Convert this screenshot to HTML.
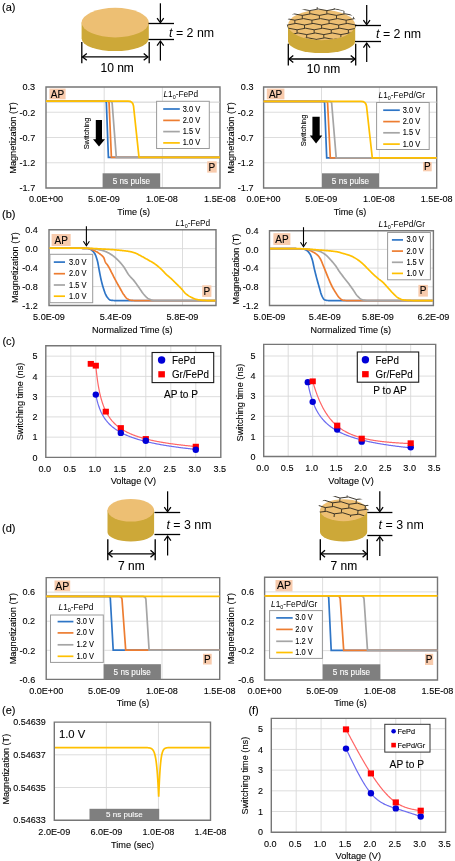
<!DOCTYPE html>
<html><head><meta charset="utf-8"><style>html,body{margin:0;padding:0;background:#fff;width:455px;height:861px;overflow:hidden}svg{display:block;will-change:transform}text{font-family:"Liberation Sans", sans-serif}</style></head>
<body><svg width="455" height="861" viewBox="0 0 455 861" font-family='"Liberation Sans", sans-serif'><rect width="455" height="861" fill="#fff"/>
<text x="8.80" y="10.74" font-size="11" text-anchor="middle" fill="#000" stroke="#000" stroke-width="0.1" >(a)</text>
<path d="M81.6,22.6 L81.6,38.6 A33.6,12.5 0 0 0 148.8,38.6 L148.8,22.6 Z" stroke="none" stroke-width="0" fill="#CDA838" />
<ellipse cx="115.2" cy="22.6" rx="33.6" ry="14.8" fill="#EDBF73"/>
<line x1="148.50" y1="23.50" x2="174.00" y2="23.50" stroke="#000" stroke-width="1.3" />
<line x1="148.50" y1="39.50" x2="174.00" y2="39.50" stroke="#000" stroke-width="1.3" />
<line x1="160.40" y1="3.30" x2="160.40" y2="21.80" stroke="#000" stroke-width="1.25" />
<path d="M157.1,18.200000000000003 L160.4,22.8 L163.70000000000002,18.200000000000003" stroke="#000" stroke-width="1.25" fill="none" />
<line x1="160.40" y1="41.50" x2="160.40" y2="60.60" stroke="#000" stroke-width="1.25" />
<path d="M157.1,45.6 L160.4,41 L163.7,45.6" stroke="#000" stroke-width="1.25" fill="none" />
<text x="169" y="36.6" font-size="12.4" text-anchor="start"><tspan font-style="italic">t</tspan> = 2 nm</text>
<line x1="81.80" y1="42.00" x2="81.80" y2="63.30" stroke="#000" stroke-width="1.3" />
<line x1="149.20" y1="42.00" x2="149.20" y2="63.30" stroke="#000" stroke-width="1.3" />
<line x1="82.50" y1="56.90" x2="148.00" y2="56.90" stroke="#000" stroke-width="1.4" />
<path d="M86.8,53.5 L82.5,56.9 L86.8,60.3" stroke="#000" stroke-width="1.3" fill="none" />
<path d="M143.7,53.5 L148,56.9 L143.7,60.3" stroke="#000" stroke-width="1.3" fill="none" />
<text x="117.20" y="71.60" font-size="12" text-anchor="middle" fill="#000" stroke="#000" stroke-width="0.1" >10 nm</text>
<path d="M288.0,25.0 L288.0,41.3 A33.6,11.8 0 0 0 355.20000000000005,41.3 L355.20000000000005,25.0 Z" stroke="none" stroke-width="0" fill="#CDA838" />
<ellipse cx="321.6" cy="25.0" rx="33.6" ry="15.2" fill="#EDBF73"/>
<clipPath id="clipA"><ellipse cx="321.6" cy="23.44" rx="34.9" ry="16.5"/></clipPath>
<g clip-path="url(#clipA)"><path d="M219.85,-8.60 L219.85,-5.40 M219.85,-8.60 L228.40,-10.20 M228.40,-10.20 L236.95,-8.60 M236.95,-8.60 L236.95,-5.40 M236.95,-8.60 L245.50,-10.20 M245.50,-10.20 L254.05,-8.60 M254.05,-8.60 L254.05,-5.40 M254.05,-8.60 L262.60,-10.20 M262.60,-10.20 L271.15,-8.60 M271.15,-8.60 L271.15,-5.40 M271.15,-8.60 L279.70,-10.20 M279.70,-10.20 L288.25,-8.60 M288.25,-8.60 L288.25,-5.40 M288.25,-8.60 L296.80,-10.20 M296.80,-10.20 L305.35,-8.60 M305.35,-8.60 L305.35,-5.40 M305.35,-8.60 L313.90,-10.20 M313.90,-10.20 L322.45,-8.60 M322.45,-8.60 L322.45,-5.40 M322.45,-8.60 L331.00,-10.20 M331.00,-10.20 L339.55,-8.60 M339.55,-8.60 L339.55,-5.40 M339.55,-8.60 L348.10,-10.20 M348.10,-10.20 L356.65,-8.60 M356.65,-8.60 L356.65,-5.40 M356.65,-8.60 L365.20,-10.20 M365.20,-10.20 L373.75,-8.60 M373.75,-8.60 L373.75,-5.40 M373.75,-8.60 L382.30,-10.20 M382.30,-10.20 L390.85,-8.60 M390.85,-8.60 L390.85,-5.40 M390.85,-8.60 L399.40,-10.20 M399.40,-10.20 L407.95,-8.60 M407.95,-8.60 L407.95,-5.40 M407.95,-8.60 L416.50,-10.20 M416.50,-10.20 L425.05,-8.60 M425.05,-8.60 L425.05,-5.40 M425.05,-8.60 L433.60,-10.20 M433.60,-10.20 L442.15,-8.60 M212.40,-3.80 L212.40,-0.60 M212.40,-3.80 L220.95,-5.40 M220.95,-5.40 L229.50,-3.80 M229.50,-3.80 L229.50,-0.60 M229.50,-3.80 L238.05,-5.40 M238.05,-5.40 L246.60,-3.80 M246.60,-3.80 L246.60,-0.60 M246.60,-3.80 L255.15,-5.40 M255.15,-5.40 L263.70,-3.80 M263.70,-3.80 L263.70,-0.60 M263.70,-3.80 L272.25,-5.40 M272.25,-5.40 L280.80,-3.80 M280.80,-3.80 L280.80,-0.60 M280.80,-3.80 L289.35,-5.40 M289.35,-5.40 L297.90,-3.80 M297.90,-3.80 L297.90,-0.60 M297.90,-3.80 L306.45,-5.40 M306.45,-5.40 L315.00,-3.80 M315.00,-3.80 L315.00,-0.60 M315.00,-3.80 L323.55,-5.40 M323.55,-5.40 L332.10,-3.80 M332.10,-3.80 L332.10,-0.60 M332.10,-3.80 L340.65,-5.40 M340.65,-5.40 L349.20,-3.80 M349.20,-3.80 L349.20,-0.60 M349.20,-3.80 L357.75,-5.40 M357.75,-5.40 L366.30,-3.80 M366.30,-3.80 L366.30,-0.60 M366.30,-3.80 L374.85,-5.40 M374.85,-5.40 L383.40,-3.80 M383.40,-3.80 L383.40,-0.60 M383.40,-3.80 L391.95,-5.40 M391.95,-5.40 L400.50,-3.80 M400.50,-3.80 L400.50,-0.60 M400.50,-3.80 L409.05,-5.40 M409.05,-5.40 L417.60,-3.80 M417.60,-3.80 L417.60,-0.60 M417.60,-3.80 L426.15,-5.40 M426.15,-5.40 L434.70,-3.80 M222.05,1.00 L222.05,4.20 M222.05,1.00 L230.60,-0.60 M230.60,-0.60 L239.15,1.00 M239.15,1.00 L239.15,4.20 M239.15,1.00 L247.70,-0.60 M247.70,-0.60 L256.25,1.00 M256.25,1.00 L256.25,4.20 M256.25,1.00 L264.80,-0.60 M264.80,-0.60 L273.35,1.00 M273.35,1.00 L273.35,4.20 M273.35,1.00 L281.90,-0.60 M281.90,-0.60 L290.45,1.00 M290.45,1.00 L290.45,4.20 M290.45,1.00 L299.00,-0.60 M299.00,-0.60 L307.55,1.00 M307.55,1.00 L307.55,4.20 M307.55,1.00 L316.10,-0.60 M316.10,-0.60 L324.65,1.00 M324.65,1.00 L324.65,4.20 M324.65,1.00 L333.20,-0.60 M333.20,-0.60 L341.75,1.00 M341.75,1.00 L341.75,4.20 M341.75,1.00 L350.30,-0.60 M350.30,-0.60 L358.85,1.00 M358.85,1.00 L358.85,4.20 M358.85,1.00 L367.40,-0.60 M367.40,-0.60 L375.95,1.00 M375.95,1.00 L375.95,4.20 M375.95,1.00 L384.50,-0.60 M384.50,-0.60 L393.05,1.00 M393.05,1.00 L393.05,4.20 M393.05,1.00 L401.60,-0.60 M401.60,-0.60 L410.15,1.00 M410.15,1.00 L410.15,4.20 M410.15,1.00 L418.70,-0.60 M418.70,-0.60 L427.25,1.00 M427.25,1.00 L427.25,4.20 M427.25,1.00 L435.80,-0.60 M435.80,-0.60 L444.35,1.00 M214.60,5.80 L214.60,9.00 M214.60,5.80 L223.15,4.20 M223.15,4.20 L231.70,5.80 M231.70,5.80 L231.70,9.00 M231.70,5.80 L240.25,4.20 M240.25,4.20 L248.80,5.80 M248.80,5.80 L248.80,9.00 M248.80,5.80 L257.35,4.20 M257.35,4.20 L265.90,5.80 M265.90,5.80 L265.90,9.00 M265.90,5.80 L274.45,4.20 M274.45,4.20 L283.00,5.80 M283.00,5.80 L283.00,9.00 M283.00,5.80 L291.55,4.20 M291.55,4.20 L300.10,5.80 M300.10,5.80 L300.10,9.00 M300.10,5.80 L308.65,4.20 M308.65,4.20 L317.20,5.80 M317.20,5.80 L317.20,9.00 M317.20,5.80 L325.75,4.20 M325.75,4.20 L334.30,5.80 M334.30,5.80 L334.30,9.00 M334.30,5.80 L342.85,4.20 M342.85,4.20 L351.40,5.80 M351.40,5.80 L351.40,9.00 M351.40,5.80 L359.95,4.20 M359.95,4.20 L368.50,5.80 M368.50,5.80 L368.50,9.00 M368.50,5.80 L377.05,4.20 M377.05,4.20 L385.60,5.80 M385.60,5.80 L385.60,9.00 M385.60,5.80 L394.15,4.20 M394.15,4.20 L402.70,5.80 M402.70,5.80 L402.70,9.00 M402.70,5.80 L411.25,4.20 M411.25,4.20 L419.80,5.80 M419.80,5.80 L419.80,9.00 M419.80,5.80 L428.35,4.20 M428.35,4.20 L436.90,5.80 M224.25,10.60 L224.25,13.80 M224.25,10.60 L232.80,9.00 M232.80,9.00 L241.35,10.60 M241.35,10.60 L241.35,13.80 M241.35,10.60 L249.90,9.00 M249.90,9.00 L258.45,10.60 M258.45,10.60 L258.45,13.80 M258.45,10.60 L267.00,9.00 M267.00,9.00 L275.55,10.60 M275.55,10.60 L275.55,13.80 M275.55,10.60 L284.10,9.00 M284.10,9.00 L292.65,10.60 M292.65,10.60 L292.65,13.80 M292.65,10.60 L301.20,9.00 M301.20,9.00 L309.75,10.60 M309.75,10.60 L309.75,13.80 M309.75,10.60 L318.30,9.00 M318.30,9.00 L326.85,10.60 M326.85,10.60 L326.85,13.80 M326.85,10.60 L335.40,9.00 M335.40,9.00 L343.95,10.60 M343.95,10.60 L343.95,13.80 M343.95,10.60 L352.50,9.00 M352.50,9.00 L361.05,10.60 M361.05,10.60 L361.05,13.80 M361.05,10.60 L369.60,9.00 M369.60,9.00 L378.15,10.60 M378.15,10.60 L378.15,13.80 M378.15,10.60 L386.70,9.00 M386.70,9.00 L395.25,10.60 M395.25,10.60 L395.25,13.80 M395.25,10.60 L403.80,9.00 M403.80,9.00 L412.35,10.60 M412.35,10.60 L412.35,13.80 M412.35,10.60 L420.90,9.00 M420.90,9.00 L429.45,10.60 M429.45,10.60 L429.45,13.80 M429.45,10.60 L438.00,9.00 M438.00,9.00 L446.55,10.60 M216.80,15.40 L216.80,18.60 M216.80,15.40 L225.35,13.80 M225.35,13.80 L233.90,15.40 M233.90,15.40 L233.90,18.60 M233.90,15.40 L242.45,13.80 M242.45,13.80 L251.00,15.40 M251.00,15.40 L251.00,18.60 M251.00,15.40 L259.55,13.80 M259.55,13.80 L268.10,15.40 M268.10,15.40 L268.10,18.60 M268.10,15.40 L276.65,13.80 M276.65,13.80 L285.20,15.40 M285.20,15.40 L285.20,18.60 M285.20,15.40 L293.75,13.80 M293.75,13.80 L302.30,15.40 M302.30,15.40 L302.30,18.60 M302.30,15.40 L310.85,13.80 M310.85,13.80 L319.40,15.40 M319.40,15.40 L319.40,18.60 M319.40,15.40 L327.95,13.80 M327.95,13.80 L336.50,15.40 M336.50,15.40 L336.50,18.60 M336.50,15.40 L345.05,13.80 M345.05,13.80 L353.60,15.40 M353.60,15.40 L353.60,18.60 M353.60,15.40 L362.15,13.80 M362.15,13.80 L370.70,15.40 M370.70,15.40 L370.70,18.60 M370.70,15.40 L379.25,13.80 M379.25,13.80 L387.80,15.40 M387.80,15.40 L387.80,18.60 M387.80,15.40 L396.35,13.80 M396.35,13.80 L404.90,15.40 M404.90,15.40 L404.90,18.60 M404.90,15.40 L413.45,13.80 M413.45,13.80 L422.00,15.40 M422.00,15.40 L422.00,18.60 M422.00,15.40 L430.55,13.80 M430.55,13.80 L439.10,15.40 M226.45,20.20 L226.45,23.40 M226.45,20.20 L235.00,18.60 M235.00,18.60 L243.55,20.20 M243.55,20.20 L243.55,23.40 M243.55,20.20 L252.10,18.60 M252.10,18.60 L260.65,20.20 M260.65,20.20 L260.65,23.40 M260.65,20.20 L269.20,18.60 M269.20,18.60 L277.75,20.20 M277.75,20.20 L277.75,23.40 M277.75,20.20 L286.30,18.60 M286.30,18.60 L294.85,20.20 M294.85,20.20 L294.85,23.40 M294.85,20.20 L303.40,18.60 M303.40,18.60 L311.95,20.20 M311.95,20.20 L311.95,23.40 M311.95,20.20 L320.50,18.60 M320.50,18.60 L329.05,20.20 M329.05,20.20 L329.05,23.40 M329.05,20.20 L337.60,18.60 M337.60,18.60 L346.15,20.20 M346.15,20.20 L346.15,23.40 M346.15,20.20 L354.70,18.60 M354.70,18.60 L363.25,20.20 M363.25,20.20 L363.25,23.40 M363.25,20.20 L371.80,18.60 M371.80,18.60 L380.35,20.20 M380.35,20.20 L380.35,23.40 M380.35,20.20 L388.90,18.60 M388.90,18.60 L397.45,20.20 M397.45,20.20 L397.45,23.40 M397.45,20.20 L406.00,18.60 M406.00,18.60 L414.55,20.20 M414.55,20.20 L414.55,23.40 M414.55,20.20 L423.10,18.60 M423.10,18.60 L431.65,20.20 M431.65,20.20 L431.65,23.40 M431.65,20.20 L440.20,18.60 M440.20,18.60 L448.75,20.20 M219.00,25.00 L219.00,28.20 M219.00,25.00 L227.55,23.40 M227.55,23.40 L236.10,25.00 M236.10,25.00 L236.10,28.20 M236.10,25.00 L244.65,23.40 M244.65,23.40 L253.20,25.00 M253.20,25.00 L253.20,28.20 M253.20,25.00 L261.75,23.40 M261.75,23.40 L270.30,25.00 M270.30,25.00 L270.30,28.20 M270.30,25.00 L278.85,23.40 M278.85,23.40 L287.40,25.00 M287.40,25.00 L287.40,28.20 M287.40,25.00 L295.95,23.40 M295.95,23.40 L304.50,25.00 M304.50,25.00 L304.50,28.20 M304.50,25.00 L313.05,23.40 M313.05,23.40 L321.60,25.00 M321.60,25.00 L321.60,28.20 M321.60,25.00 L330.15,23.40 M330.15,23.40 L338.70,25.00 M338.70,25.00 L338.70,28.20 M338.70,25.00 L347.25,23.40 M347.25,23.40 L355.80,25.00 M355.80,25.00 L355.80,28.20 M355.80,25.00 L364.35,23.40 M364.35,23.40 L372.90,25.00 M372.90,25.00 L372.90,28.20 M372.90,25.00 L381.45,23.40 M381.45,23.40 L390.00,25.00 M390.00,25.00 L390.00,28.20 M390.00,25.00 L398.55,23.40 M398.55,23.40 L407.10,25.00 M407.10,25.00 L407.10,28.20 M407.10,25.00 L415.65,23.40 M415.65,23.40 L424.20,25.00 M424.20,25.00 L424.20,28.20 M424.20,25.00 L432.75,23.40 M432.75,23.40 L441.30,25.00 M228.65,29.80 L228.65,33.00 M228.65,29.80 L237.20,28.20 M237.20,28.20 L245.75,29.80 M245.75,29.80 L245.75,33.00 M245.75,29.80 L254.30,28.20 M254.30,28.20 L262.85,29.80 M262.85,29.80 L262.85,33.00 M262.85,29.80 L271.40,28.20 M271.40,28.20 L279.95,29.80 M279.95,29.80 L279.95,33.00 M279.95,29.80 L288.50,28.20 M288.50,28.20 L297.05,29.80 M297.05,29.80 L297.05,33.00 M297.05,29.80 L305.60,28.20 M305.60,28.20 L314.15,29.80 M314.15,29.80 L314.15,33.00 M314.15,29.80 L322.70,28.20 M322.70,28.20 L331.25,29.80 M331.25,29.80 L331.25,33.00 M331.25,29.80 L339.80,28.20 M339.80,28.20 L348.35,29.80 M348.35,29.80 L348.35,33.00 M348.35,29.80 L356.90,28.20 M356.90,28.20 L365.45,29.80 M365.45,29.80 L365.45,33.00 M365.45,29.80 L374.00,28.20 M374.00,28.20 L382.55,29.80 M382.55,29.80 L382.55,33.00 M382.55,29.80 L391.10,28.20 M391.10,28.20 L399.65,29.80 M399.65,29.80 L399.65,33.00 M399.65,29.80 L408.20,28.20 M408.20,28.20 L416.75,29.80 M416.75,29.80 L416.75,33.00 M416.75,29.80 L425.30,28.20 M425.30,28.20 L433.85,29.80 M433.85,29.80 L433.85,33.00 M433.85,29.80 L442.40,28.20 M442.40,28.20 L450.95,29.80 M221.20,34.60 L221.20,37.80 M221.20,34.60 L229.75,33.00 M229.75,33.00 L238.30,34.60 M238.30,34.60 L238.30,37.80 M238.30,34.60 L246.85,33.00 M246.85,33.00 L255.40,34.60 M255.40,34.60 L255.40,37.80 M255.40,34.60 L263.95,33.00 M263.95,33.00 L272.50,34.60 M272.50,34.60 L272.50,37.80 M272.50,34.60 L281.05,33.00 M281.05,33.00 L289.60,34.60 M289.60,34.60 L289.60,37.80 M289.60,34.60 L298.15,33.00 M298.15,33.00 L306.70,34.60 M306.70,34.60 L306.70,37.80 M306.70,34.60 L315.25,33.00 M315.25,33.00 L323.80,34.60 M323.80,34.60 L323.80,37.80 M323.80,34.60 L332.35,33.00 M332.35,33.00 L340.90,34.60 M340.90,34.60 L340.90,37.80 M340.90,34.60 L349.45,33.00 M349.45,33.00 L358.00,34.60 M358.00,34.60 L358.00,37.80 M358.00,34.60 L366.55,33.00 M366.55,33.00 L375.10,34.60 M375.10,34.60 L375.10,37.80 M375.10,34.60 L383.65,33.00 M383.65,33.00 L392.20,34.60 M392.20,34.60 L392.20,37.80 M392.20,34.60 L400.75,33.00 M400.75,33.00 L409.30,34.60 M409.30,34.60 L409.30,37.80 M409.30,34.60 L417.85,33.00 M417.85,33.00 L426.40,34.60 M426.40,34.60 L426.40,37.80 M426.40,34.60 L434.95,33.00 M434.95,33.00 L443.50,34.60 M230.85,39.40 L230.85,42.60 M230.85,39.40 L239.40,37.80 M239.40,37.80 L247.95,39.40 M247.95,39.40 L247.95,42.60 M247.95,39.40 L256.50,37.80 M256.50,37.80 L265.05,39.40 M265.05,39.40 L265.05,42.60 M265.05,39.40 L273.60,37.80 M273.60,37.80 L282.15,39.40 M282.15,39.40 L282.15,42.60 M282.15,39.40 L290.70,37.80 M290.70,37.80 L299.25,39.40 M299.25,39.40 L299.25,42.60 M299.25,39.40 L307.80,37.80 M307.80,37.80 L316.35,39.40 M316.35,39.40 L316.35,42.60 M316.35,39.40 L324.90,37.80 M324.90,37.80 L333.45,39.40 M333.45,39.40 L333.45,42.60 M333.45,39.40 L342.00,37.80 M342.00,37.80 L350.55,39.40 M350.55,39.40 L350.55,42.60 M350.55,39.40 L359.10,37.80 M359.10,37.80 L367.65,39.40 M367.65,39.40 L367.65,42.60 M367.65,39.40 L376.20,37.80 M376.20,37.80 L384.75,39.40 M384.75,39.40 L384.75,42.60 M384.75,39.40 L393.30,37.80 M393.30,37.80 L401.85,39.40 M401.85,39.40 L401.85,42.60 M401.85,39.40 L410.40,37.80 M410.40,37.80 L418.95,39.40 M418.95,39.40 L418.95,42.60 M418.95,39.40 L427.50,37.80 M427.50,37.80 L436.05,39.40 M436.05,39.40 L436.05,42.60 M436.05,39.40 L444.60,37.80 M444.60,37.80 L453.15,39.40 M223.40,44.20 L223.40,47.40 M223.40,44.20 L231.95,42.60 M231.95,42.60 L240.50,44.20 M240.50,44.20 L240.50,47.40 M240.50,44.20 L249.05,42.60 M249.05,42.60 L257.60,44.20 M257.60,44.20 L257.60,47.40 M257.60,44.20 L266.15,42.60 M266.15,42.60 L274.70,44.20 M274.70,44.20 L274.70,47.40 M274.70,44.20 L283.25,42.60 M283.25,42.60 L291.80,44.20 M291.80,44.20 L291.80,47.40 M291.80,44.20 L300.35,42.60 M300.35,42.60 L308.90,44.20 M308.90,44.20 L308.90,47.40 M308.90,44.20 L317.45,42.60 M317.45,42.60 L326.00,44.20 M326.00,44.20 L326.00,47.40 M326.00,44.20 L334.55,42.60 M334.55,42.60 L343.10,44.20 M343.10,44.20 L343.10,47.40 M343.10,44.20 L351.65,42.60 M351.65,42.60 L360.20,44.20 M360.20,44.20 L360.20,47.40 M360.20,44.20 L368.75,42.60 M368.75,42.60 L377.30,44.20 M377.30,44.20 L377.30,47.40 M377.30,44.20 L385.85,42.60 M385.85,42.60 L394.40,44.20 M394.40,44.20 L394.40,47.40 M394.40,44.20 L402.95,42.60 M402.95,42.60 L411.50,44.20 M411.50,44.20 L411.50,47.40 M411.50,44.20 L420.05,42.60 M420.05,42.60 L428.60,44.20 M428.60,44.20 L428.60,47.40 M428.60,44.20 L437.15,42.60 M437.15,42.60 L445.70,44.20 M233.05,49.00 L233.05,52.20 M233.05,49.00 L241.60,47.40 M241.60,47.40 L250.15,49.00 M250.15,49.00 L250.15,52.20 M250.15,49.00 L258.70,47.40 M258.70,47.40 L267.25,49.00 M267.25,49.00 L267.25,52.20 M267.25,49.00 L275.80,47.40 M275.80,47.40 L284.35,49.00 M284.35,49.00 L284.35,52.20 M284.35,49.00 L292.90,47.40 M292.90,47.40 L301.45,49.00 M301.45,49.00 L301.45,52.20 M301.45,49.00 L310.00,47.40 M310.00,47.40 L318.55,49.00 M318.55,49.00 L318.55,52.20 M318.55,49.00 L327.10,47.40 M327.10,47.40 L335.65,49.00 M335.65,49.00 L335.65,52.20 M335.65,49.00 L344.20,47.40 M344.20,47.40 L352.75,49.00 M352.75,49.00 L352.75,52.20 M352.75,49.00 L361.30,47.40 M361.30,47.40 L369.85,49.00 M369.85,49.00 L369.85,52.20 M369.85,49.00 L378.40,47.40 M378.40,47.40 L386.95,49.00 M386.95,49.00 L386.95,52.20 M386.95,49.00 L395.50,47.40 M395.50,47.40 L404.05,49.00 M404.05,49.00 L404.05,52.20 M404.05,49.00 L412.60,47.40 M412.60,47.40 L421.15,49.00 M421.15,49.00 L421.15,52.20 M421.15,49.00 L429.70,47.40 M429.70,47.40 L438.25,49.00 M438.25,49.00 L438.25,52.20 M438.25,49.00 L446.80,47.40 M446.80,47.40 L455.35,49.00 M225.60,53.80 L225.60,57.00 M225.60,53.80 L234.15,52.20 M234.15,52.20 L242.70,53.80 M242.70,53.80 L242.70,57.00 M242.70,53.80 L251.25,52.20 M251.25,52.20 L259.80,53.80 M259.80,53.80 L259.80,57.00 M259.80,53.80 L268.35,52.20 M268.35,52.20 L276.90,53.80 M276.90,53.80 L276.90,57.00 M276.90,53.80 L285.45,52.20 M285.45,52.20 L294.00,53.80 M294.00,53.80 L294.00,57.00 M294.00,53.80 L302.55,52.20 M302.55,52.20 L311.10,53.80 M311.10,53.80 L311.10,57.00 M311.10,53.80 L319.65,52.20 M319.65,52.20 L328.20,53.80 M328.20,53.80 L328.20,57.00 M328.20,53.80 L336.75,52.20 M336.75,52.20 L345.30,53.80 M345.30,53.80 L345.30,57.00 M345.30,53.80 L353.85,52.20 M353.85,52.20 L362.40,53.80 M362.40,53.80 L362.40,57.00 M362.40,53.80 L370.95,52.20 M370.95,52.20 L379.50,53.80 M379.50,53.80 L379.50,57.00 M379.50,53.80 L388.05,52.20 M388.05,52.20 L396.60,53.80 M396.60,53.80 L396.60,57.00 M396.60,53.80 L405.15,52.20 M405.15,52.20 L413.70,53.80 M413.70,53.80 L413.70,57.00 M413.70,53.80 L422.25,52.20 M422.25,52.20 L430.80,53.80 M430.80,53.80 L430.80,57.00 M430.80,53.80 L439.35,52.20 M439.35,52.20 L447.90,53.80 M235.25,58.60 L235.25,61.80 M235.25,58.60 L243.80,57.00 M243.80,57.00 L252.35,58.60 M252.35,58.60 L252.35,61.80 M252.35,58.60 L260.90,57.00 M260.90,57.00 L269.45,58.60 M269.45,58.60 L269.45,61.80 M269.45,58.60 L278.00,57.00 M278.00,57.00 L286.55,58.60 M286.55,58.60 L286.55,61.80 M286.55,58.60 L295.10,57.00 M295.10,57.00 L303.65,58.60 M303.65,58.60 L303.65,61.80 M303.65,58.60 L312.20,57.00 M312.20,57.00 L320.75,58.60 M320.75,58.60 L320.75,61.80 M320.75,58.60 L329.30,57.00 M329.30,57.00 L337.85,58.60 M337.85,58.60 L337.85,61.80 M337.85,58.60 L346.40,57.00 M346.40,57.00 L354.95,58.60 M354.95,58.60 L354.95,61.80 M354.95,58.60 L363.50,57.00 M363.50,57.00 L372.05,58.60 M372.05,58.60 L372.05,61.80 M372.05,58.60 L380.60,57.00 M380.60,57.00 L389.15,58.60 M389.15,58.60 L389.15,61.80 M389.15,58.60 L397.70,57.00 M397.70,57.00 L406.25,58.60 M406.25,58.60 L406.25,61.80 M406.25,58.60 L414.80,57.00 M414.80,57.00 L423.35,58.60 M423.35,58.60 L423.35,61.80 M423.35,58.60 L431.90,57.00 M431.90,57.00 L440.45,58.60 M440.45,58.60 L440.45,61.80 M440.45,58.60 L449.00,57.00 M449.00,57.00 L457.55,58.60" stroke="#2f2a20" stroke-width="0.9" fill="none" transform="rotate(0 321.6 25.0)"/></g>
<line x1="355.00" y1="25.50" x2="381.00" y2="25.50" stroke="#000" stroke-width="1.3" />
<line x1="355.00" y1="41.50" x2="381.00" y2="41.50" stroke="#000" stroke-width="1.3" />
<line x1="366.70" y1="5.00" x2="366.70" y2="23.80" stroke="#000" stroke-width="1.25" />
<path d="M363.4,20.200000000000003 L366.7,24.8 L370.0,20.200000000000003" stroke="#000" stroke-width="1.25" fill="none" />
<line x1="366.70" y1="43.50" x2="366.70" y2="62.00" stroke="#000" stroke-width="1.25" />
<path d="M363.4,47.6 L366.7,43 L370.0,47.6" stroke="#000" stroke-width="1.25" fill="none" />
<text x="376" y="38.1" font-size="12.4" text-anchor="start"><tspan font-style="italic">t</tspan> = 2 nm</text>
<line x1="288.30" y1="43.70" x2="288.30" y2="65.50" stroke="#000" stroke-width="1.3" />
<line x1="355.70" y1="43.70" x2="355.70" y2="65.50" stroke="#000" stroke-width="1.3" />
<line x1="289.00" y1="59.00" x2="355.00" y2="59.00" stroke="#000" stroke-width="1.4" />
<path d="M293.3,55.6 L289,59 L293.3,62.4" stroke="#000" stroke-width="1.3" fill="none" />
<path d="M350.7,55.6 L355,59 L350.7,62.4" stroke="#000" stroke-width="1.3" fill="none" />
<text x="323.50" y="72.80" font-size="12" text-anchor="middle" fill="#000" stroke="#000" stroke-width="0.1" >10 nm</text>
<line x1="104.20" y1="87.00" x2="104.20" y2="188.00" stroke="#D9D9D9" stroke-width="0.9" />
<line x1="162.40" y1="87.00" x2="162.40" y2="188.00" stroke="#D9D9D9" stroke-width="0.9" />
<line x1="46.00" y1="112.25" x2="220.00" y2="112.25" stroke="#D9D9D9" stroke-width="0.9" />
<line x1="46.00" y1="137.50" x2="220.00" y2="137.50" stroke="#D9D9D9" stroke-width="0.9" />
<line x1="46.00" y1="162.75" x2="220.00" y2="162.75" stroke="#D9D9D9" stroke-width="0.9" />
<path d="M46,87.0 L220,87.0 L220,188.0 L46,188.0 Z" fill="none" stroke="#767676" stroke-width="1.4"/>
<line x1="46.00" y1="102.15" x2="220.00" y2="102.15" stroke="#C8C8C8" stroke-width="0.9" />
<rect x="102.60" y="173.30" width="57.60" height="14.70" fill="#7F7F7F" stroke="none" stroke-width="1" />
<text x="131.40" y="183.59" font-size="8.2" text-anchor="middle" fill="#fff" stroke="#fff" stroke-width="0.1" >5 ns pulse</text>
<rect x="49.40" y="88.60" width="16.20" height="10.70" fill="#F8CBAD" stroke="none" stroke-width="1" />
<text x="57.50" y="97.53" font-size="10" text-anchor="middle" fill="#000" stroke="#000" stroke-width="0.1" >AP</text>
<rect x="207.20" y="161.30" width="9.50" height="11.30" fill="#F8CBAD" stroke="none" stroke-width="1" />
<text x="211.95" y="170.53" font-size="10" text-anchor="middle" fill="#000" stroke="#000" stroke-width="0.1" >P</text>
<path d="M46,101.1 L104.8,101.1 Q106.3,101.1 106.36,102.60 L108.4,157.4 L220,157.4" stroke="#2E75C6" stroke-width="1.7" fill="none" />
<path d="M46,101.1 L107.5,101.1 Q109.0,101.1 109.06,102.60 L111.4,157.4 L220,157.4" stroke="#ED7D31" stroke-width="1.7" fill="none" />
<path d="M46,101.1 L110.0,101.1 Q112.0,101.1 112.15,103.10 L116.3,157.4 L220,157.4" stroke="#A5A5A5" stroke-width="1.7" fill="none" />
<path d="M46,101.1 L128.0,101.1 Q133.0,101.1 133.53,106.10 L139.0,157.4 L220,157.4" stroke="#FFC000" stroke-width="1.7" fill="none" />
<rect x="156.60" y="101.30" width="52.70" height="47.20" fill="#fff" stroke="#9A9A9A" stroke-width="1" />
<line x1="163.20" y1="109.00" x2="179.80" y2="109.00" stroke="#2E75C6" stroke-width="1.7" />
<text transform="translate(182.70 111.57) scale(0.9 1)" x="0" y="0" font-size="8.3" text-anchor="start" fill="#000" stroke="#000" stroke-width="0.1">3.0 V</text>
<line x1="163.20" y1="120.40" x2="179.80" y2="120.40" stroke="#ED7D31" stroke-width="1.7" />
<text transform="translate(182.70 122.97) scale(0.9 1)" x="0" y="0" font-size="8.3" text-anchor="start" fill="#000" stroke="#000" stroke-width="0.1">2.0 V</text>
<line x1="163.20" y1="131.60" x2="179.80" y2="131.60" stroke="#A5A5A5" stroke-width="1.7" />
<text transform="translate(182.70 134.17) scale(0.9 1)" x="0" y="0" font-size="8.3" text-anchor="start" fill="#000" stroke="#000" stroke-width="0.1">1.5 V</text>
<line x1="163.20" y1="142.90" x2="179.80" y2="142.90" stroke="#FFC000" stroke-width="1.7" />
<text transform="translate(182.70 145.47) scale(0.9 1)" x="0" y="0" font-size="8.3" text-anchor="start" fill="#000" stroke="#000" stroke-width="0.1">1.0 V</text>
<text x="163.40" y="97.47" font-size="8.3" text-anchor="start"><tspan font-style="italic">L</tspan>1<tspan font-size="5.40" dy="1.83">0</tspan><tspan dy="-1.83">-FePd</tspan></text>
<path d="M95.8,120 L102,120 L102,139.2 L105,139.2 L99.0,146.6 L93,139.2 L95.8,139.2 Z" fill="#000"/>
<text x="88.60" y="133.50" font-size="7.4" text-anchor="middle" fill="#000" stroke="#000" stroke-width="0.1" transform="rotate(-90 88.60 133.50)">Switching</text>
<text x="35.20" y="90.26" font-size="9.1" text-anchor="end" fill="#000" stroke="#000" stroke-width="0.1" >0.3</text>
<text x="35.20" y="115.51" font-size="9.1" text-anchor="end" fill="#000" stroke="#000" stroke-width="0.1" >-0.2</text>
<text x="35.20" y="140.76" font-size="9.1" text-anchor="end" fill="#000" stroke="#000" stroke-width="0.1" >-0.7</text>
<text x="35.20" y="166.01" font-size="9.1" text-anchor="end" fill="#000" stroke="#000" stroke-width="0.1" >-1.2</text>
<text x="35.20" y="191.26" font-size="9.1" text-anchor="end" fill="#000" stroke="#000" stroke-width="0.1" >-1.7</text>
<text x="46.00" y="202.06" font-size="9.1" text-anchor="middle" fill="#000" stroke="#000" stroke-width="0.1" >0.0E+00</text>
<text x="104.00" y="202.06" font-size="9.1" text-anchor="middle" fill="#000" stroke="#000" stroke-width="0.1" >5.0E-09</text>
<text x="162.00" y="202.06" font-size="9.1" text-anchor="middle" fill="#000" stroke="#000" stroke-width="0.1" >1.0E-08</text>
<text x="220.00" y="202.06" font-size="9.1" text-anchor="middle" fill="#000" stroke="#000" stroke-width="0.1" >1.5E-08</text>
<text x="133.60" y="214.72" font-size="9" text-anchor="middle" fill="#000" stroke="#000" stroke-width="0.1" >Time (s)</text>
<text x="16.00" y="138.00" font-size="9.2" text-anchor="middle" fill="#000" stroke="#000" stroke-width="0.1" transform="rotate(-90 16.00 138.00)">Magnetization (T)</text>
<line x1="321.50" y1="87.00" x2="321.50" y2="188.00" stroke="#D9D9D9" stroke-width="0.9" />
<line x1="379.40" y1="87.00" x2="379.40" y2="188.00" stroke="#D9D9D9" stroke-width="0.9" />
<line x1="263.60" y1="112.25" x2="436.70" y2="112.25" stroke="#D9D9D9" stroke-width="0.9" />
<line x1="263.60" y1="137.50" x2="436.70" y2="137.50" stroke="#D9D9D9" stroke-width="0.9" />
<line x1="263.60" y1="162.75" x2="436.70" y2="162.75" stroke="#D9D9D9" stroke-width="0.9" />
<path d="M263.6,87 L436.7,87 L436.7,188 L263.6,188 Z" fill="none" stroke="#767676" stroke-width="1.4"/>
<line x1="263.60" y1="102.15" x2="436.70" y2="102.15" stroke="#C8C8C8" stroke-width="0.9" />
<rect x="322.00" y="173.30" width="57.00" height="14.70" fill="#7F7F7F" stroke="none" stroke-width="1" />
<text x="350.50" y="183.59" font-size="8.2" text-anchor="middle" fill="#fff" stroke="#fff" stroke-width="0.1" >5 ns pulse</text>
<rect x="266.80" y="88.60" width="17.60" height="10.70" fill="#F8CBAD" stroke="none" stroke-width="1" />
<text x="275.60" y="97.53" font-size="10" text-anchor="middle" fill="#000" stroke="#000" stroke-width="0.1" >AP</text>
<rect x="423.00" y="162.00" width="8.70" height="9.30" fill="#F8CBAD" stroke="none" stroke-width="1" />
<text x="427.35" y="170.23" font-size="10" text-anchor="middle" fill="#000" stroke="#000" stroke-width="0.1" >P</text>
<path d="M263.6,101.3 L323.0,101.3 Q324.5,101.3 324.56,102.80 L326.7,157.8 L436.7,157.8" stroke="#2E75C6" stroke-width="1.7" fill="none" />
<path d="M263.6,101.3 L326.0,101.3 Q327.5,101.3 327.57,102.80 L330.3,157.8 L436.7,157.8" stroke="#ED7D31" stroke-width="1.7" fill="none" />
<path d="M263.6,101.3 L329.5,101.3 Q331.5,101.3 331.67,103.30 L336.2,157.8 L436.7,157.8" stroke="#A5A5A5" stroke-width="1.7" fill="none" />
<path d="M263.6,101.3 L361.0,101.3 Q366.0,101.3 366.56,106.30 L372.3,157.8 L436.7,157.8" stroke="#FFC000" stroke-width="1.7" fill="none" />
<rect x="376.60" y="102.50" width="52.60" height="47.00" fill="#fff" stroke="#9A9A9A" stroke-width="1" />
<line x1="383.20" y1="110.20" x2="399.80" y2="110.20" stroke="#2E75C6" stroke-width="1.7" />
<text transform="translate(402.70 112.77) scale(0.9 1)" x="0" y="0" font-size="8.3" text-anchor="start" fill="#000" stroke="#000" stroke-width="0.1">3.0 V</text>
<line x1="383.20" y1="121.60" x2="399.80" y2="121.60" stroke="#ED7D31" stroke-width="1.7" />
<text transform="translate(402.70 124.17) scale(0.9 1)" x="0" y="0" font-size="8.3" text-anchor="start" fill="#000" stroke="#000" stroke-width="0.1">2.0 V</text>
<line x1="383.20" y1="132.80" x2="399.80" y2="132.80" stroke="#A5A5A5" stroke-width="1.7" />
<text transform="translate(402.70 135.37) scale(0.9 1)" x="0" y="0" font-size="8.3" text-anchor="start" fill="#000" stroke="#000" stroke-width="0.1">1.5 V</text>
<line x1="383.20" y1="144.10" x2="399.80" y2="144.10" stroke="#FFC000" stroke-width="1.7" />
<text transform="translate(402.70 146.67) scale(0.9 1)" x="0" y="0" font-size="8.3" text-anchor="start" fill="#000" stroke="#000" stroke-width="0.1">1.0 V</text>
<text x="378.60" y="98.47" font-size="8.3" text-anchor="start"><tspan font-style="italic">L</tspan>1<tspan font-size="5.40" dy="1.83">0</tspan><tspan dy="-1.83">-FePd/Gr</tspan></text>
<path d="M312.4,116.7 L319.7,116.7 L319.7,135.5 L322.3,135.5 L316.05,143.4 L309.8,135.5 L312.4,135.5 Z" fill="#000"/>
<text x="305.60" y="130.50" font-size="7.4" text-anchor="middle" fill="#000" stroke="#000" stroke-width="0.1" transform="rotate(-90 305.60 130.50)">Switching</text>
<text x="253.50" y="90.26" font-size="9.1" text-anchor="end" fill="#000" stroke="#000" stroke-width="0.1" >0.3</text>
<text x="253.50" y="115.51" font-size="9.1" text-anchor="end" fill="#000" stroke="#000" stroke-width="0.1" >-0.2</text>
<text x="253.50" y="140.76" font-size="9.1" text-anchor="end" fill="#000" stroke="#000" stroke-width="0.1" >-0.7</text>
<text x="253.50" y="166.01" font-size="9.1" text-anchor="end" fill="#000" stroke="#000" stroke-width="0.1" >-1.2</text>
<text x="253.50" y="191.26" font-size="9.1" text-anchor="end" fill="#000" stroke="#000" stroke-width="0.1" >-1.7</text>
<text x="263.60" y="202.06" font-size="9.1" text-anchor="middle" fill="#000" stroke="#000" stroke-width="0.1" >0.0E+00</text>
<text x="321.30" y="202.06" font-size="9.1" text-anchor="middle" fill="#000" stroke="#000" stroke-width="0.1" >5.0E-09</text>
<text x="379.00" y="202.06" font-size="9.1" text-anchor="middle" fill="#000" stroke="#000" stroke-width="0.1" >1.0E-08</text>
<text x="436.70" y="202.06" font-size="9.1" text-anchor="middle" fill="#000" stroke="#000" stroke-width="0.1" >1.5E-08</text>
<text x="350.00" y="214.72" font-size="9" text-anchor="middle" fill="#000" stroke="#000" stroke-width="0.1" >Time (s)</text>
<text x="234.00" y="138.00" font-size="9.2" text-anchor="middle" fill="#000" stroke="#000" stroke-width="0.1" transform="rotate(-90 234.00 138.00)">Magnetization (T)</text>
<text x="8.80" y="217.74" font-size="11" text-anchor="middle" fill="#000" stroke="#000" stroke-width="0.1" >(b)</text>
<line x1="115.70" y1="229.70" x2="115.70" y2="305.50" stroke="#D9D9D9" stroke-width="0.9" />
<line x1="182.50" y1="229.70" x2="182.50" y2="305.50" stroke="#D9D9D9" stroke-width="0.9" />
<line x1="49.00" y1="248.65" x2="216.00" y2="248.65" stroke="#D9D9D9" stroke-width="0.9" />
<line x1="49.00" y1="267.60" x2="216.00" y2="267.60" stroke="#D9D9D9" stroke-width="0.9" />
<line x1="49.00" y1="286.55" x2="216.00" y2="286.55" stroke="#D9D9D9" stroke-width="0.9" />
<path d="M49,229.7 L216,229.7 L216,305.5 L49,305.5 Z" fill="none" stroke="#767676" stroke-width="1.4"/>
<rect x="51.60" y="234.00" width="19.10" height="12.00" fill="#F8CBAD" stroke="none" stroke-width="1" />
<text x="61.15" y="243.58" font-size="10" text-anchor="middle" fill="#000" stroke="#000" stroke-width="0.1" >AP</text>
<rect x="202.20" y="285.30" width="9.20" height="11.60" fill="#F8CBAD" stroke="none" stroke-width="1" />
<text x="206.80" y="294.68" font-size="10" text-anchor="middle" fill="#000" stroke="#000" stroke-width="0.1" >P</text>
<path d="M49.50,248.20 L49.90,248.20 L50.30,248.20 L50.70,248.20 L51.10,248.20 L51.50,248.20 L51.90,248.20 L52.30,248.20 L52.70,248.20 L53.10,248.20 L53.50,248.20 L53.90,248.20 L54.30,248.20 L54.70,248.20 L55.10,248.20 L55.50,248.20 L55.90,248.20 L56.30,248.20 L56.70,248.20 L57.10,248.20 L57.50,248.20 L57.90,248.20 L58.30,248.20 L58.70,248.20 L59.10,248.20 L59.50,248.20 L59.90,248.20 L60.30,248.20 L60.70,248.20 L61.10,248.21 L61.50,248.21 L61.90,248.21 L62.30,248.21 L62.70,248.21 L63.10,248.21 L63.50,248.21 L63.90,248.21 L64.30,248.21 L64.70,248.21 L65.10,248.21 L65.50,248.21 L65.90,248.21 L66.30,248.21 L66.70,248.21 L67.10,248.21 L67.50,248.22 L67.90,248.22 L68.30,248.22 L68.70,248.22 L69.10,248.22 L69.50,248.22 L69.90,248.22 L70.30,248.22 L70.70,248.22 L71.10,248.22 L71.50,248.23 L71.90,248.23 L72.30,248.23 L72.70,248.23 L73.10,248.23 L73.50,248.23 L73.90,248.23 L74.30,248.24 L74.70,248.24 L75.10,248.24 L75.50,248.24 L75.90,248.24 L76.30,248.24 L76.70,248.25 L77.10,248.25 L77.50,248.25 L77.90,248.25 L78.30,248.25 L78.70,248.25 L79.10,248.26 L79.50,248.26 L79.90,248.26 L80.30,248.26 L80.70,248.27 L81.10,248.27 L81.50,248.27 L81.90,248.27 L82.30,248.27 L82.70,248.28 L83.10,248.28 L83.50,248.28 L83.90,248.29 L84.30,248.29 L84.70,248.29 L85.10,248.29 L85.50,248.30 L85.90,248.30 L86.30,248.31 L86.70,248.33 L87.10,248.37 L87.50,248.43 L87.90,248.48 L88.30,248.56 L88.70,248.66 L89.10,248.80 L89.50,248.97 L89.90,249.16 L90.30,249.37 L90.70,249.61 L91.10,249.86 L91.50,250.12 L91.90,250.40 L92.30,250.70 L92.70,251.06 L93.10,251.46 L93.50,251.91 L93.90,252.41 L94.30,252.97 L94.70,253.57 L95.10,254.25 L95.50,255.08 L95.90,256.05 L96.30,257.16 L96.70,258.39 L97.10,259.73 L97.50,261.18 L97.90,263.00 L98.30,265.13 L98.70,267.41 L99.10,269.65 L99.50,271.72 L99.90,273.81 L100.30,275.88 L100.70,277.88 L101.10,279.74 L101.50,281.42 L101.90,283.02 L102.30,284.54 L102.70,285.99 L103.10,287.35 L103.50,288.61 L103.90,289.79 L104.30,290.93 L104.70,292.04 L105.10,293.10 L105.50,294.09 L105.90,294.99 L106.30,295.77 L106.70,296.40 L107.10,296.95 L107.50,297.49 L107.90,298.00 L108.30,298.49 L108.70,298.93 L109.10,299.32 L109.50,299.65 L109.90,299.91 L110.30,300.10 L110.70,300.20 L111.10,300.25 L111.50,300.30 L111.90,300.34 L112.30,300.39 L112.70,300.42 L113.10,300.46 L113.50,300.49 L113.90,300.52 L114.30,300.54 L114.70,300.56 L115.10,300.57 L115.50,300.59 L115.90,300.59 L116.30,300.60 L116.70,300.60 L117.10,300.60 L117.50,300.60 L117.90,300.60 L118.30,300.60 L118.70,300.60 L119.10,300.60 L119.50,300.60 L119.90,300.60 L120.30,300.60 L120.70,300.60 L121.10,300.60 L121.50,300.60 L121.90,300.60 L122.30,300.60 L122.70,300.60 L123.10,300.60 L123.50,300.60 L123.90,300.60 L124.30,300.60 L124.70,300.60 L125.10,300.60 L125.50,300.60 L125.90,300.60 L126.30,300.60 L126.70,300.60 L127.10,300.60 L127.50,300.60 L127.90,300.60 L128.30,300.60 L128.70,300.60 L129.10,300.60 L129.50,300.60 L129.90,300.60 L130.30,300.60 L130.70,300.60 L131.10,300.60 L131.50,300.60 L131.90,300.60 L132.30,300.60 L132.70,300.60 L133.10,300.60 L133.50,300.60 L133.90,300.60 L134.30,300.60 L134.70,300.60 L135.10,300.60 L135.50,300.60 L135.90,300.60 L136.30,300.60 L136.70,300.60 L137.10,300.60 L137.50,300.60 L137.90,300.60 L138.30,300.60 L138.70,300.60 L139.10,300.60 L139.50,300.60 L139.90,300.60 L140.30,300.60 L140.70,300.60 L141.10,300.60 L141.50,300.60 L141.90,300.60 L142.30,300.60 L142.70,300.60 L143.10,300.60 L143.50,300.60 L143.90,300.60 L144.30,300.60 L144.70,300.60 L145.10,300.60 L145.50,300.60 L145.90,300.60 L146.30,300.60 L146.70,300.60 L147.10,300.60 L147.50,300.60 L147.90,300.60 L148.30,300.60 L148.70,300.60 L149.10,300.60 L149.50,300.60 L149.90,300.60 L150.30,300.60 L150.70,300.60 L151.10,300.60 L151.50,300.60 L151.90,300.60 L152.30,300.60 L152.70,300.60 L153.10,300.60 L153.50,300.60 L153.90,300.60 L154.30,300.60 L154.70,300.60 L155.10,300.60 L155.50,300.60 L155.90,300.60 L156.30,300.60 L156.70,300.60 L157.10,300.60 L157.50,300.60 L157.90,300.60 L158.30,300.60 L158.70,300.60 L159.10,300.60 L159.50,300.60 L159.90,300.60 L160.30,300.60 L160.70,300.60 L161.10,300.60 L161.50,300.60 L161.90,300.60 L162.30,300.60 L162.70,300.60 L163.10,300.60 L163.50,300.60 L163.90,300.60 L164.30,300.60 L164.70,300.60 L165.10,300.60 L165.50,300.60 L165.90,300.60 L166.30,300.60 L166.70,300.60 L167.10,300.60 L167.50,300.60 L167.90,300.60 L168.30,300.60 L168.70,300.60 L169.10,300.60 L169.50,300.60 L169.90,300.60 L170.30,300.60 L170.70,300.60 L171.10,300.60 L171.50,300.60 L171.90,300.60 L172.30,300.60 L172.70,300.60 L173.10,300.60 L173.50,300.60 L173.90,300.60 L174.30,300.60 L174.70,300.60 L175.10,300.60 L175.50,300.60 L175.90,300.60 L176.30,300.60 L176.70,300.60 L177.10,300.60 L177.50,300.60 L177.90,300.60 L178.30,300.60 L178.70,300.60 L179.10,300.60 L179.50,300.60 L179.90,300.60 L180.30,300.60 L180.70,300.60 L181.10,300.60 L181.50,300.60 L181.90,300.60 L182.30,300.60 L182.70,300.60 L183.10,300.60 L183.50,300.60 L183.90,300.60 L184.30,300.60 L184.70,300.60 L185.10,300.60 L185.50,300.60 L185.90,300.60 L186.30,300.60 L186.70,300.60 L187.10,300.60 L187.50,300.60 L187.90,300.60 L188.30,300.60 L188.70,300.60 L189.10,300.60 L189.50,300.60 L189.90,300.60 L190.30,300.60 L190.70,300.60 L191.10,300.60 L191.50,300.60 L191.90,300.60 L192.30,300.60 L192.70,300.60 L193.10,300.60 L193.50,300.60 L193.90,300.60 L194.30,300.60 L194.70,300.60 L195.10,300.60 L195.50,300.60 L195.90,300.60 L196.30,300.60 L196.70,300.60 L197.10,300.60 L197.50,300.60 L197.90,300.60 L198.30,300.60 L198.70,300.60 L199.10,300.60 L199.50,300.60 L199.90,300.60 L200.30,300.60 L200.70,300.60 L201.10,300.60 L201.50,300.60 L201.90,300.60 L202.30,300.60 L202.70,300.60 L203.10,300.60 L203.50,300.60 L203.90,300.60 L204.30,300.60 L204.70,300.60 L205.10,300.60 L205.50,300.60 L205.90,300.60 L206.30,300.60 L206.70,300.60 L207.10,300.60 L207.50,300.60 L207.90,300.60 L208.30,300.60 L208.70,300.60 L209.10,300.60 L209.50,300.60 L209.90,300.60 L210.30,300.60 L210.70,300.60 L211.10,300.60 L211.50,300.60 L211.90,300.60 L212.30,300.60 L212.70,300.60 L213.10,300.60 L213.50,300.60 L213.90,300.60 L214.30,300.60 L214.70,300.60 L215.10,300.60 L215.50,300.60" stroke="#2E75C6" stroke-width="1.7" fill="none" />
<path d="M49.50,248.20 L49.90,248.20 L50.30,248.20 L50.70,248.20 L51.10,248.20 L51.50,248.20 L51.90,248.20 L52.30,248.20 L52.70,248.20 L53.10,248.20 L53.50,248.20 L53.90,248.20 L54.30,248.20 L54.70,248.20 L55.10,248.20 L55.50,248.20 L55.90,248.20 L56.30,248.20 L56.70,248.20 L57.10,248.20 L57.50,248.20 L57.90,248.20 L58.30,248.20 L58.70,248.20 L59.10,248.20 L59.50,248.20 L59.90,248.20 L60.30,248.20 L60.70,248.21 L61.10,248.21 L61.50,248.21 L61.90,248.21 L62.30,248.21 L62.70,248.21 L63.10,248.21 L63.50,248.21 L63.90,248.21 L64.30,248.21 L64.70,248.21 L65.10,248.21 L65.50,248.21 L65.90,248.21 L66.30,248.21 L66.70,248.21 L67.10,248.22 L67.50,248.22 L67.90,248.22 L68.30,248.22 L68.70,248.22 L69.10,248.22 L69.50,248.22 L69.90,248.22 L70.30,248.22 L70.70,248.22 L71.10,248.23 L71.50,248.23 L71.90,248.23 L72.30,248.23 L72.70,248.23 L73.10,248.23 L73.50,248.23 L73.90,248.24 L74.30,248.24 L74.70,248.24 L75.10,248.24 L75.50,248.24 L75.90,248.24 L76.30,248.24 L76.70,248.25 L77.10,248.25 L77.50,248.25 L77.90,248.25 L78.30,248.25 L78.70,248.26 L79.10,248.26 L79.50,248.26 L79.90,248.26 L80.30,248.26 L80.70,248.27 L81.10,248.27 L81.50,248.27 L81.90,248.27 L82.30,248.28 L82.70,248.28 L83.10,248.28 L83.50,248.28 L83.90,248.29 L84.30,248.29 L84.70,248.29 L85.10,248.29 L85.50,248.30 L85.90,248.30 L86.30,248.31 L86.70,248.33 L87.10,248.37 L87.50,248.42 L87.90,248.49 L88.30,248.56 L88.70,248.64 L89.10,248.73 L89.50,248.81 L89.90,248.90 L90.30,249.00 L90.70,249.11 L91.10,249.24 L91.50,249.38 L91.90,249.53 L92.30,249.69 L92.70,249.86 L93.10,250.04 L93.50,250.23 L93.90,250.42 L94.30,250.61 L94.70,250.80 L95.10,251.00 L95.50,251.20 L95.90,251.41 L96.30,251.62 L96.70,251.85 L97.10,252.08 L97.50,252.32 L97.90,252.58 L98.30,252.84 L98.70,253.11 L99.10,253.39 L99.50,253.68 L99.90,253.98 L100.30,254.27 L100.70,254.57 L101.10,254.87 L101.50,255.19 L101.90,255.54 L102.30,255.92 L102.70,256.34 L103.10,256.82 L103.50,257.35 L103.90,257.98 L104.30,259.03 L104.70,260.34 L105.10,261.55 L105.50,262.36 L105.90,262.98 L106.30,263.51 L106.70,263.99 L107.10,264.47 L107.50,265.00 L107.90,265.62 L108.30,266.28 L108.70,266.97 L109.10,267.70 L109.50,268.44 L109.90,269.21 L110.30,269.98 L110.70,270.76 L111.10,271.54 L111.50,272.32 L111.90,273.08 L112.30,273.87 L112.70,274.66 L113.10,275.46 L113.50,276.27 L113.90,277.08 L114.30,277.88 L114.70,278.67 L115.10,279.46 L115.50,280.22 L115.90,280.97 L116.30,281.70 L116.70,282.43 L117.10,283.14 L117.50,283.85 L117.90,284.54 L118.30,285.24 L118.70,285.94 L119.10,286.63 L119.50,287.33 L119.90,288.03 L120.30,288.75 L120.70,289.49 L121.10,290.22 L121.50,290.95 L121.90,291.67 L122.30,292.37 L122.70,293.04 L123.10,293.67 L123.50,294.26 L123.90,294.82 L124.30,295.37 L124.70,295.92 L125.10,296.46 L125.50,296.97 L125.90,297.46 L126.30,297.90 L126.70,298.29 L127.10,298.63 L127.50,298.90 L127.90,299.13 L128.30,299.35 L128.70,299.56 L129.10,299.75 L129.50,299.92 L129.90,300.06 L130.30,300.18 L130.70,300.26 L131.10,300.31 L131.50,300.35 L131.90,300.38 L132.30,300.41 L132.70,300.44 L133.10,300.47 L133.50,300.49 L133.90,300.52 L134.30,300.54 L134.70,300.55 L135.10,300.57 L135.50,300.58 L135.90,300.59 L136.30,300.60 L136.70,300.60 L137.10,300.60 L137.50,300.60 L137.90,300.60 L138.30,300.60 L138.70,300.60 L139.10,300.60 L139.50,300.60 L139.90,300.60 L140.30,300.60 L140.70,300.60 L141.10,300.60 L141.50,300.60 L141.90,300.60 L142.30,300.60 L142.70,300.60 L143.10,300.60 L143.50,300.60 L143.90,300.60 L144.30,300.60 L144.70,300.60 L145.10,300.60 L145.50,300.60 L145.90,300.60 L146.30,300.60 L146.70,300.60 L147.10,300.60 L147.50,300.60 L147.90,300.60 L148.30,300.60 L148.70,300.60 L149.10,300.60 L149.50,300.60 L149.90,300.60 L150.30,300.60 L150.70,300.60 L151.10,300.60 L151.50,300.60 L151.90,300.60 L152.30,300.60 L152.70,300.60 L153.10,300.60 L153.50,300.60 L153.90,300.60 L154.30,300.60 L154.70,300.60 L155.10,300.60 L155.50,300.60 L155.90,300.60 L156.30,300.60 L156.70,300.60 L157.10,300.60 L157.50,300.60 L157.90,300.60 L158.30,300.60 L158.70,300.60 L159.10,300.60 L159.50,300.60 L159.90,300.60 L160.30,300.60 L160.70,300.60 L161.10,300.60 L161.50,300.60 L161.90,300.60 L162.30,300.60 L162.70,300.60 L163.10,300.60 L163.50,300.60 L163.90,300.60 L164.30,300.60 L164.70,300.60 L165.10,300.60 L165.50,300.60 L165.90,300.60 L166.30,300.60 L166.70,300.60 L167.10,300.60 L167.50,300.60 L167.90,300.60 L168.30,300.60 L168.70,300.60 L169.10,300.60 L169.50,300.60 L169.90,300.60 L170.30,300.60 L170.70,300.60 L171.10,300.60 L171.50,300.60 L171.90,300.60 L172.30,300.60 L172.70,300.60 L173.10,300.60 L173.50,300.60 L173.90,300.60 L174.30,300.60 L174.70,300.60 L175.10,300.60 L175.50,300.60 L175.90,300.60 L176.30,300.60 L176.70,300.60 L177.10,300.60 L177.50,300.60 L177.90,300.60 L178.30,300.60 L178.70,300.60 L179.10,300.60 L179.50,300.60 L179.90,300.60 L180.30,300.60 L180.70,300.60 L181.10,300.60 L181.50,300.60 L181.90,300.60 L182.30,300.60 L182.70,300.60 L183.10,300.60 L183.50,300.60 L183.90,300.60 L184.30,300.60 L184.70,300.60 L185.10,300.60 L185.50,300.60 L185.90,300.60 L186.30,300.60 L186.70,300.60 L187.10,300.60 L187.50,300.60 L187.90,300.60 L188.30,300.60 L188.70,300.60 L189.10,300.60 L189.50,300.60 L189.90,300.60 L190.30,300.60 L190.70,300.60 L191.10,300.60 L191.50,300.60 L191.90,300.60 L192.30,300.60 L192.70,300.60 L193.10,300.60 L193.50,300.60 L193.90,300.60 L194.30,300.60 L194.70,300.60 L195.10,300.60 L195.50,300.60 L195.90,300.60 L196.30,300.60 L196.70,300.60 L197.10,300.60 L197.50,300.60 L197.90,300.60 L198.30,300.60 L198.70,300.60 L199.10,300.60 L199.50,300.60 L199.90,300.60 L200.30,300.60 L200.70,300.60 L201.10,300.60 L201.50,300.60 L201.90,300.60 L202.30,300.60 L202.70,300.60 L203.10,300.60 L203.50,300.60 L203.90,300.60 L204.30,300.60 L204.70,300.60 L205.10,300.60 L205.50,300.60 L205.90,300.60 L206.30,300.60 L206.70,300.60 L207.10,300.60 L207.50,300.60 L207.90,300.60 L208.30,300.60 L208.70,300.60 L209.10,300.60 L209.50,300.60 L209.90,300.60 L210.30,300.60 L210.70,300.60 L211.10,300.60 L211.50,300.60 L211.90,300.60 L212.30,300.60 L212.70,300.60 L213.10,300.60 L213.50,300.60 L213.90,300.60 L214.30,300.60 L214.70,300.60 L215.10,300.60 L215.50,300.60" stroke="#ED7D31" stroke-width="1.7" fill="none" />
<path d="M49.50,248.20 L49.90,248.20 L50.30,248.20 L50.70,248.20 L51.10,248.20 L51.50,248.20 L51.90,248.20 L52.30,248.20 L52.70,248.20 L53.10,248.20 L53.50,248.20 L53.90,248.20 L54.30,248.20 L54.70,248.20 L55.10,248.20 L55.50,248.20 L55.90,248.20 L56.30,248.20 L56.70,248.20 L57.10,248.20 L57.50,248.20 L57.90,248.20 L58.30,248.20 L58.70,248.20 L59.10,248.20 L59.50,248.21 L59.90,248.21 L60.30,248.21 L60.70,248.21 L61.10,248.21 L61.50,248.21 L61.90,248.21 L62.30,248.21 L62.70,248.21 L63.10,248.21 L63.50,248.21 L63.90,248.21 L64.30,248.21 L64.70,248.21 L65.10,248.21 L65.50,248.21 L65.90,248.22 L66.30,248.22 L66.70,248.22 L67.10,248.22 L67.50,248.22 L67.90,248.22 L68.30,248.22 L68.70,248.22 L69.10,248.22 L69.50,248.22 L69.90,248.23 L70.30,248.23 L70.70,248.23 L71.10,248.23 L71.50,248.23 L71.90,248.23 L72.30,248.23 L72.70,248.23 L73.10,248.24 L73.50,248.24 L73.90,248.24 L74.30,248.24 L74.70,248.24 L75.10,248.24 L75.50,248.24 L75.90,248.25 L76.30,248.25 L76.70,248.25 L77.10,248.25 L77.50,248.25 L77.90,248.26 L78.30,248.26 L78.70,248.26 L79.10,248.26 L79.50,248.26 L79.90,248.26 L80.30,248.27 L80.70,248.27 L81.10,248.27 L81.50,248.27 L81.90,248.28 L82.30,248.28 L82.70,248.28 L83.10,248.28 L83.50,248.28 L83.90,248.29 L84.30,248.29 L84.70,248.29 L85.10,248.29 L85.50,248.30 L85.90,248.30 L86.30,248.30 L86.70,248.31 L87.10,248.32 L87.50,248.34 L87.90,248.36 L88.30,248.38 L88.70,248.40 L89.10,248.43 L89.50,248.46 L89.90,248.50 L90.30,248.53 L90.70,248.57 L91.10,248.60 L91.50,248.64 L91.90,248.69 L92.30,248.73 L92.70,248.77 L93.10,248.81 L93.50,248.86 L93.90,248.90 L94.30,248.94 L94.70,248.99 L95.10,249.04 L95.50,249.10 L95.90,249.16 L96.30,249.22 L96.70,249.28 L97.10,249.35 L97.50,249.41 L97.90,249.49 L98.30,249.56 L98.70,249.64 L99.10,249.72 L99.50,249.81 L99.90,249.89 L100.30,249.98 L100.70,250.08 L101.10,250.17 L101.50,250.27 L101.90,250.38 L102.30,250.48 L102.70,250.59 L103.10,250.70 L103.50,250.81 L103.90,250.93 L104.30,251.06 L104.70,251.19 L105.10,251.34 L105.50,251.50 L105.90,251.67 L106.30,251.85 L106.70,252.03 L107.10,252.23 L107.50,252.43 L107.90,252.64 L108.30,252.86 L108.70,253.08 L109.10,253.31 L109.50,253.54 L109.90,253.78 L110.30,254.02 L110.70,254.27 L111.10,254.52 L111.50,254.77 L111.90,255.03 L112.30,255.30 L112.70,255.58 L113.10,255.87 L113.50,256.18 L113.90,256.49 L114.30,256.82 L114.70,257.15 L115.10,257.49 L115.50,257.85 L115.90,258.21 L116.30,258.57 L116.70,258.94 L117.10,259.32 L117.50,259.70 L117.90,260.09 L118.30,260.49 L118.70,260.90 L119.10,261.32 L119.50,261.74 L119.90,262.18 L120.30,262.63 L120.70,263.09 L121.10,263.56 L121.50,264.03 L121.90,264.52 L122.30,265.02 L122.70,265.52 L123.10,266.04 L123.50,266.57 L123.90,267.11 L124.30,267.70 L124.70,268.31 L125.10,268.96 L125.50,269.62 L125.90,270.30 L126.30,270.98 L126.70,271.66 L127.10,272.33 L127.50,272.99 L127.90,273.62 L128.30,274.23 L128.70,274.80 L129.10,275.33 L129.50,275.82 L129.90,276.29 L130.30,276.74 L130.70,277.16 L131.10,277.58 L131.50,277.99 L131.90,278.40 L132.30,278.81 L132.70,279.24 L133.10,279.67 L133.50,280.12 L133.90,280.60 L134.30,281.10 L134.70,281.61 L135.10,282.15 L135.50,282.69 L135.90,283.24 L136.30,283.80 L136.70,284.37 L137.10,284.94 L137.50,285.51 L137.90,286.09 L138.30,286.66 L138.70,287.22 L139.10,287.78 L139.50,288.36 L139.90,288.95 L140.30,289.55 L140.70,290.15 L141.10,290.76 L141.50,291.35 L141.90,291.94 L142.30,292.51 L142.70,293.05 L143.10,293.57 L143.50,294.06 L143.90,294.51 L144.30,294.95 L144.70,295.39 L145.10,295.83 L145.50,296.25 L145.90,296.66 L146.30,297.06 L146.70,297.43 L147.10,297.78 L147.50,298.11 L147.90,298.39 L148.30,298.64 L148.70,298.85 L149.10,299.03 L149.50,299.21 L149.90,299.38 L150.30,299.54 L150.70,299.70 L151.10,299.85 L151.50,299.99 L151.90,300.12 L152.30,300.24 L152.70,300.34 L153.10,300.43 L153.50,300.50 L153.90,300.56 L154.30,300.59 L154.70,300.60 L155.10,300.60 L155.50,300.60 L155.90,300.60 L156.30,300.60 L156.70,300.60 L157.10,300.60 L157.50,300.60 L157.90,300.60 L158.30,300.60 L158.70,300.60 L159.10,300.60 L159.50,300.60 L159.90,300.60 L160.30,300.60 L160.70,300.60 L161.10,300.60 L161.50,300.60 L161.90,300.60 L162.30,300.60 L162.70,300.60 L163.10,300.60 L163.50,300.60 L163.90,300.60 L164.30,300.60 L164.70,300.60 L165.10,300.60 L165.50,300.60 L165.90,300.60 L166.30,300.60 L166.70,300.60 L167.10,300.60 L167.50,300.60 L167.90,300.60 L168.30,300.60 L168.70,300.60 L169.10,300.60 L169.50,300.60 L169.90,300.60 L170.30,300.60 L170.70,300.60 L171.10,300.60 L171.50,300.60 L171.90,300.60 L172.30,300.60 L172.70,300.60 L173.10,300.60 L173.50,300.60 L173.90,300.60 L174.30,300.60 L174.70,300.60 L175.10,300.60 L175.50,300.60 L175.90,300.60 L176.30,300.60 L176.70,300.60 L177.10,300.60 L177.50,300.60 L177.90,300.60 L178.30,300.60 L178.70,300.60 L179.10,300.60 L179.50,300.60 L179.90,300.60 L180.30,300.60 L180.70,300.60 L181.10,300.60 L181.50,300.60 L181.90,300.60 L182.30,300.60 L182.70,300.60 L183.10,300.60 L183.50,300.60 L183.90,300.60 L184.30,300.60 L184.70,300.60 L185.10,300.60 L185.50,300.60 L185.90,300.60 L186.30,300.60 L186.70,300.60 L187.10,300.60 L187.50,300.60 L187.90,300.60 L188.30,300.60 L188.70,300.60 L189.10,300.60 L189.50,300.60 L189.90,300.60 L190.30,300.60 L190.70,300.60 L191.10,300.60 L191.50,300.60 L191.90,300.60 L192.30,300.60 L192.70,300.60 L193.10,300.60 L193.50,300.60 L193.90,300.60 L194.30,300.60 L194.70,300.60 L195.10,300.60 L195.50,300.60 L195.90,300.60 L196.30,300.60 L196.70,300.60 L197.10,300.60 L197.50,300.60 L197.90,300.60 L198.30,300.60 L198.70,300.60 L199.10,300.60 L199.50,300.60 L199.90,300.60 L200.30,300.60 L200.70,300.60 L201.10,300.60 L201.50,300.60 L201.90,300.60 L202.30,300.60 L202.70,300.60 L203.10,300.60 L203.50,300.60 L203.90,300.60 L204.30,300.60 L204.70,300.60 L205.10,300.60 L205.50,300.60 L205.90,300.60 L206.30,300.60 L206.70,300.60 L207.10,300.60 L207.50,300.60 L207.90,300.60 L208.30,300.60 L208.70,300.60 L209.10,300.60 L209.50,300.60 L209.90,300.60 L210.30,300.60 L210.70,300.60 L211.10,300.60 L211.50,300.60 L211.90,300.60 L212.30,300.60 L212.70,300.60 L213.10,300.60 L213.50,300.60 L213.90,300.60 L214.30,300.60 L214.70,300.60 L215.10,300.60 L215.50,300.60" stroke="#A5A5A5" stroke-width="1.7" fill="none" />
<path d="M49.50,248.20 L49.90,248.20 L50.30,248.20 L50.70,248.20 L51.10,248.20 L51.50,248.20 L51.90,248.20 L52.30,248.20 L52.70,248.20 L53.10,248.20 L53.50,248.20 L53.90,248.20 L54.30,248.20 L54.70,248.20 L55.10,248.20 L55.50,248.20 L55.90,248.20 L56.30,248.20 L56.70,248.20 L57.10,248.20 L57.50,248.20 L57.90,248.20 L58.30,248.20 L58.70,248.20 L59.10,248.20 L59.50,248.20 L59.90,248.20 L60.30,248.20 L60.70,248.20 L61.10,248.20 L61.50,248.20 L61.90,248.20 L62.30,248.20 L62.70,248.20 L63.10,248.20 L63.50,248.20 L63.90,248.20 L64.30,248.20 L64.70,248.20 L65.10,248.20 L65.50,248.20 L65.90,248.20 L66.30,248.20 L66.70,248.20 L67.10,248.20 L67.50,248.20 L67.90,248.20 L68.30,248.20 L68.70,248.20 L69.10,248.20 L69.50,248.20 L69.90,248.20 L70.30,248.20 L70.70,248.20 L71.10,248.20 L71.50,248.20 L71.90,248.20 L72.30,248.20 L72.70,248.20 L73.10,248.20 L73.50,248.20 L73.90,248.20 L74.30,248.20 L74.70,248.20 L75.10,248.20 L75.50,248.20 L75.90,248.20 L76.30,248.20 L76.70,248.20 L77.10,248.20 L77.50,248.20 L77.90,248.20 L78.30,248.20 L78.70,248.20 L79.10,248.20 L79.50,248.20 L79.90,248.20 L80.30,248.20 L80.70,248.20 L81.10,248.20 L81.50,248.20 L81.90,248.20 L82.30,248.20 L82.70,248.20 L83.10,248.20 L83.50,248.20 L83.90,248.20 L84.30,248.20 L84.70,248.20 L85.10,248.20 L85.50,248.21 L85.90,248.21 L86.30,248.22 L86.70,248.23 L87.10,248.23 L87.50,248.24 L87.90,248.25 L88.30,248.27 L88.70,248.28 L89.10,248.29 L89.50,248.30 L89.90,248.32 L90.30,248.33 L90.70,248.35 L91.10,248.37 L91.50,248.38 L91.90,248.40 L92.30,248.42 L92.70,248.44 L93.10,248.46 L93.50,248.48 L93.90,248.50 L94.30,248.52 L94.70,248.55 L95.10,248.57 L95.50,248.59 L95.90,248.61 L96.30,248.64 L96.70,248.66 L97.10,248.68 L97.50,248.71 L97.90,248.73 L98.30,248.76 L98.70,248.78 L99.10,248.81 L99.50,248.83 L99.90,248.86 L100.30,248.88 L100.70,248.91 L101.10,248.93 L101.50,248.96 L101.90,248.98 L102.30,249.01 L102.70,249.03 L103.10,249.06 L103.50,249.08 L103.90,249.11 L104.30,249.13 L104.70,249.15 L105.10,249.18 L105.50,249.20 L105.90,249.23 L106.30,249.25 L106.70,249.28 L107.10,249.30 L107.50,249.33 L107.90,249.35 L108.30,249.38 L108.70,249.40 L109.10,249.43 L109.50,249.46 L109.90,249.48 L110.30,249.51 L110.70,249.54 L111.10,249.56 L111.50,249.59 L111.90,249.62 L112.30,249.65 L112.70,249.68 L113.10,249.71 L113.50,249.74 L113.90,249.77 L114.30,249.80 L114.70,249.83 L115.10,249.86 L115.50,249.89 L115.90,249.93 L116.30,249.96 L116.70,250.00 L117.10,250.03 L117.50,250.07 L117.90,250.10 L118.30,250.14 L118.70,250.17 L119.10,250.21 L119.50,250.25 L119.90,250.29 L120.30,250.33 L120.70,250.37 L121.10,250.41 L121.50,250.45 L121.90,250.50 L122.30,250.54 L122.70,250.58 L123.10,250.63 L123.50,250.68 L123.90,250.72 L124.30,250.77 L124.70,250.82 L125.10,250.87 L125.50,250.92 L125.90,250.97 L126.30,251.02 L126.70,251.07 L127.10,251.13 L127.50,251.18 L127.90,251.24 L128.30,251.30 L128.70,251.36 L129.10,251.42 L129.50,251.48 L129.90,251.55 L130.30,251.63 L130.70,251.71 L131.10,251.80 L131.50,251.90 L131.90,252.00 L132.30,252.10 L132.70,252.22 L133.10,252.33 L133.50,252.45 L133.90,252.57 L134.30,252.70 L134.70,252.83 L135.10,252.97 L135.50,253.12 L135.90,253.28 L136.30,253.46 L136.70,253.65 L137.10,253.84 L137.50,254.05 L137.90,254.26 L138.30,254.47 L138.70,254.69 L139.10,254.92 L139.50,255.14 L139.90,255.36 L140.30,255.58 L140.70,255.79 L141.10,256.01 L141.50,256.22 L141.90,256.43 L142.30,256.65 L142.70,256.86 L143.10,257.08 L143.50,257.30 L143.90,257.52 L144.30,257.74 L144.70,257.97 L145.10,258.19 L145.50,258.42 L145.90,258.64 L146.30,258.87 L146.70,259.10 L147.10,259.32 L147.50,259.55 L147.90,259.78 L148.30,260.01 L148.70,260.24 L149.10,260.47 L149.50,260.70 L149.90,260.92 L150.30,261.15 L150.70,261.37 L151.10,261.60 L151.50,261.82 L151.90,262.05 L152.30,262.29 L152.70,262.52 L153.10,262.77 L153.50,263.01 L153.90,263.27 L154.30,263.53 L154.70,263.80 L155.10,264.08 L155.50,264.37 L155.90,264.66 L156.30,264.97 L156.70,265.28 L157.10,265.60 L157.50,265.92 L157.90,266.25 L158.30,266.59 L158.70,266.93 L159.10,267.28 L159.50,267.63 L159.90,267.98 L160.30,268.34 L160.70,268.70 L161.10,269.07 L161.50,269.46 L161.90,269.85 L162.30,270.26 L162.70,270.68 L163.10,271.10 L163.50,271.52 L163.90,271.95 L164.30,272.37 L164.70,272.80 L165.10,273.22 L165.50,273.63 L165.90,274.03 L166.30,274.42 L166.70,274.79 L167.10,275.16 L167.50,275.51 L167.90,275.85 L168.30,276.19 L168.70,276.52 L169.10,276.86 L169.50,277.19 L169.90,277.53 L170.30,277.88 L170.70,278.23 L171.10,278.59 L171.50,278.96 L171.90,279.34 L172.30,279.73 L172.70,280.12 L173.10,280.51 L173.50,280.91 L173.90,281.31 L174.30,281.71 L174.70,282.11 L175.10,282.51 L175.50,282.91 L175.90,283.30 L176.30,283.69 L176.70,284.08 L177.10,284.46 L177.50,284.84 L177.90,285.23 L178.30,285.61 L178.70,286.00 L179.10,286.39 L179.50,286.78 L179.90,287.18 L180.30,287.58 L180.70,287.99 L181.10,288.41 L181.50,288.86 L181.90,289.32 L182.30,289.80 L182.70,290.28 L183.10,290.77 L183.50,291.25 L183.90,291.73 L184.30,292.19 L184.70,292.63 L185.10,293.05 L185.50,293.43 L185.90,293.78 L186.30,294.12 L186.70,294.44 L187.10,294.75 L187.50,295.05 L187.90,295.34 L188.30,295.62 L188.70,295.89 L189.10,296.14 L189.50,296.39 L189.90,296.62 L190.30,296.84 L190.70,297.05 L191.10,297.25 L191.50,297.45 L191.90,297.64 L192.30,297.83 L192.70,298.01 L193.10,298.19 L193.50,298.36 L193.90,298.52 L194.30,298.68 L194.70,298.82 L195.10,298.96 L195.50,299.09 L195.90,299.20 L196.30,299.31 L196.70,299.40 L197.10,299.48 L197.50,299.57 L197.90,299.65 L198.30,299.72 L198.70,299.80 L199.10,299.87 L199.50,299.94 L199.90,300.00 L200.30,300.06 L200.70,300.12 L201.10,300.17 L201.50,300.22 L201.90,300.27 L202.30,300.31 L202.70,300.34 L203.10,300.37 L203.50,300.39 L203.90,300.42 L204.30,300.43 L204.70,300.45 L205.10,300.47 L205.50,300.49 L205.90,300.51 L206.30,300.52 L206.70,300.54 L207.10,300.55 L207.50,300.56 L207.90,300.57 L208.30,300.58 L208.70,300.59 L209.10,300.59 L209.50,300.60 L209.90,300.60 L210.30,300.60 L210.70,300.60 L211.10,300.60 L211.50,300.60 L211.90,300.60 L212.30,300.60 L212.70,300.60 L213.10,300.60 L213.50,300.60 L213.90,300.60 L214.30,300.60 L214.70,300.60 L215.10,300.60 L215.50,300.60" stroke="#FFC000" stroke-width="1.7" fill="none" />
<rect x="49.90" y="254.30" width="42.80" height="48.40" fill="#fff" stroke="#9A9A9A" stroke-width="1" />
<line x1="53.80" y1="262.10" x2="65.00" y2="262.10" stroke="#2E75C6" stroke-width="1.7" />
<text transform="translate(69.00 264.67) scale(0.9 1)" x="0" y="0" font-size="8.3" text-anchor="start" fill="#000" stroke="#000" stroke-width="0.1">3.0 V</text>
<line x1="53.80" y1="273.70" x2="65.00" y2="273.70" stroke="#ED7D31" stroke-width="1.7" />
<text transform="translate(69.00 276.27) scale(0.9 1)" x="0" y="0" font-size="8.3" text-anchor="start" fill="#000" stroke="#000" stroke-width="0.1">2.0 V</text>
<line x1="53.80" y1="285.00" x2="65.00" y2="285.00" stroke="#A5A5A5" stroke-width="1.7" />
<text transform="translate(69.00 287.57) scale(0.9 1)" x="0" y="0" font-size="8.3" text-anchor="start" fill="#000" stroke="#000" stroke-width="0.1">1.5 V</text>
<line x1="53.80" y1="296.20" x2="65.00" y2="296.20" stroke="#FFC000" stroke-width="1.7" />
<text transform="translate(69.00 298.77) scale(0.9 1)" x="0" y="0" font-size="8.3" text-anchor="start" fill="#000" stroke="#000" stroke-width="0.1">1.0 V</text>
<text x="175.40" y="225.97" font-size="8.3" text-anchor="start"><tspan font-style="italic">L</tspan>1<tspan font-size="5.40" dy="1.83">0</tspan><tspan dy="-1.83">-FePd</tspan></text>
<line x1="86.40" y1="226.20" x2="86.40" y2="244.70" stroke="#000" stroke-width="1.1" />
<path d="M83.4,241.2 L86.4,245.7 L89.4,241.2" stroke="#000" stroke-width="1.1" fill="none" />
<text x="37.90" y="232.96" font-size="9.1" text-anchor="end" fill="#000" stroke="#000" stroke-width="0.1" >0.4</text>
<text x="37.90" y="251.91" font-size="9.1" text-anchor="end" fill="#000" stroke="#000" stroke-width="0.1" >0.0</text>
<text x="37.90" y="270.86" font-size="9.1" text-anchor="end" fill="#000" stroke="#000" stroke-width="0.1" >-0.4</text>
<text x="37.90" y="289.81" font-size="9.1" text-anchor="end" fill="#000" stroke="#000" stroke-width="0.1" >-0.8</text>
<text x="37.90" y="308.76" font-size="9.1" text-anchor="end" fill="#000" stroke="#000" stroke-width="0.1" >-1.2</text>
<text x="49.00" y="319.66" font-size="9.1" text-anchor="middle" fill="#000" stroke="#000" stroke-width="0.1" >5.0E-09</text>
<text x="115.70" y="319.66" font-size="9.1" text-anchor="middle" fill="#000" stroke="#000" stroke-width="0.1" >5.4E-09</text>
<text x="182.50" y="319.66" font-size="9.1" text-anchor="middle" fill="#000" stroke="#000" stroke-width="0.1" >5.8E-09</text>
<text x="132.20" y="333.22" font-size="9" text-anchor="middle" fill="#000" stroke="#000" stroke-width="0.1" >Normalized Time (s)</text>
<text x="18.50" y="267.60" font-size="9.1" text-anchor="middle" fill="#000" stroke="#000" stroke-width="0.1" transform="rotate(-90 18.50 267.60)">Magnetization (T)</text>
<line x1="324.80" y1="230.70" x2="324.80" y2="305.50" stroke="#D9D9D9" stroke-width="0.9" />
<line x1="377.90" y1="230.70" x2="377.90" y2="305.50" stroke="#D9D9D9" stroke-width="0.9" />
<line x1="269.50" y1="249.40" x2="433.40" y2="249.40" stroke="#D9D9D9" stroke-width="0.9" />
<line x1="269.50" y1="268.10" x2="433.40" y2="268.10" stroke="#D9D9D9" stroke-width="0.9" />
<line x1="269.50" y1="286.80" x2="433.40" y2="286.80" stroke="#D9D9D9" stroke-width="0.9" />
<path d="M269.5,230.7 L433.4,230.7 L433.4,305.5 L269.5,305.5 Z" fill="none" stroke="#767676" stroke-width="1.4"/>
<rect x="273.40" y="233.20" width="17.00" height="11.80" fill="#F8CBAD" stroke="none" stroke-width="1" />
<text x="281.90" y="242.68" font-size="10" text-anchor="middle" fill="#000" stroke="#000" stroke-width="0.1" >AP</text>
<rect x="418.40" y="284.90" width="9.50" height="11.70" fill="#F8CBAD" stroke="none" stroke-width="1" />
<text x="423.15" y="294.33" font-size="10" text-anchor="middle" fill="#000" stroke="#000" stroke-width="0.1" >P</text>
<path d="M270.00,248.60 L270.40,248.60 L270.80,248.60 L271.20,248.60 L271.60,248.60 L272.00,248.60 L272.40,248.60 L272.80,248.60 L273.20,248.60 L273.60,248.60 L274.00,248.60 L274.40,248.60 L274.80,248.60 L275.20,248.60 L275.60,248.60 L276.00,248.60 L276.40,248.60 L276.80,248.60 L277.20,248.61 L277.60,248.61 L278.00,248.61 L278.40,248.61 L278.80,248.61 L279.20,248.61 L279.60,248.61 L280.00,248.61 L280.40,248.61 L280.80,248.61 L281.20,248.61 L281.60,248.62 L282.00,248.62 L282.40,248.62 L282.80,248.62 L283.20,248.62 L283.60,248.62 L284.00,248.63 L284.40,248.63 L284.80,248.63 L285.20,248.63 L285.60,248.63 L286.00,248.63 L286.40,248.64 L286.80,248.64 L287.20,248.64 L287.60,248.64 L288.00,248.65 L288.40,248.65 L288.80,248.65 L289.20,248.65 L289.60,248.66 L290.00,248.66 L290.40,248.66 L290.80,248.67 L291.20,248.67 L291.60,248.67 L292.00,248.68 L292.40,248.68 L292.80,248.68 L293.20,248.69 L293.60,248.69 L294.00,248.70 L294.40,248.70 L294.80,248.70 L295.20,248.71 L295.60,248.71 L296.00,248.72 L296.40,248.72 L296.80,248.73 L297.20,248.73 L297.60,248.74 L298.00,248.74 L298.40,248.75 L298.80,248.75 L299.20,248.76 L299.60,248.76 L300.00,248.77 L300.40,248.78 L300.80,248.78 L301.20,248.79 L301.60,248.79 L302.00,248.80 L302.40,248.82 L302.80,248.87 L303.20,248.95 L303.60,249.04 L304.00,249.16 L304.40,249.29 L304.80,249.44 L305.20,249.60 L305.60,249.77 L306.00,249.95 L306.40,250.16 L306.80,250.42 L307.20,250.73 L307.60,251.09 L308.00,251.49 L308.40,251.93 L308.80,252.40 L309.20,252.92 L309.60,253.47 L310.00,254.05 L310.40,254.76 L310.80,255.61 L311.20,256.59 L311.60,257.68 L312.00,258.86 L312.40,260.13 L312.80,261.70 L313.20,263.52 L313.60,265.46 L314.00,267.37 L314.40,269.12 L314.80,270.77 L315.20,272.40 L315.60,273.99 L316.00,275.55 L316.40,277.09 L316.80,278.60 L317.20,280.08 L317.60,281.54 L318.00,282.98 L318.40,284.39 L318.80,285.78 L319.20,287.16 L319.60,288.56 L320.00,290.02 L320.40,291.49 L320.80,292.89 L321.20,294.14 L321.60,295.18 L322.00,296.03 L322.40,296.85 L322.80,297.62 L323.20,298.33 L323.60,298.94 L324.00,299.43 L324.40,299.76 L324.80,299.93 L325.20,300.03 L325.60,300.13 L326.00,300.21 L326.40,300.29 L326.80,300.36 L327.20,300.42 L327.60,300.47 L328.00,300.52 L328.40,300.55 L328.80,300.58 L329.20,300.59 L329.60,300.60 L330.00,300.60 L330.40,300.60 L330.80,300.60 L331.20,300.60 L331.60,300.60 L332.00,300.60 L332.40,300.60 L332.80,300.60 L333.20,300.60 L333.60,300.60 L334.00,300.60 L334.40,300.60 L334.80,300.60 L335.20,300.60 L335.60,300.60 L336.00,300.60 L336.40,300.60 L336.80,300.60 L337.20,300.60 L337.60,300.60 L338.00,300.60 L338.40,300.60 L338.80,300.60 L339.20,300.60 L339.60,300.60 L340.00,300.60 L340.40,300.60 L340.80,300.60 L341.20,300.60 L341.60,300.60 L342.00,300.60 L342.40,300.60 L342.80,300.60 L343.20,300.60 L343.60,300.60 L344.00,300.60 L344.40,300.60 L344.80,300.60 L345.20,300.60 L345.60,300.60 L346.00,300.60 L346.40,300.60 L346.80,300.60 L347.20,300.60 L347.60,300.60 L348.00,300.60 L348.40,300.60 L348.80,300.60 L349.20,300.60 L349.60,300.60 L350.00,300.60 L350.40,300.60 L350.80,300.60 L351.20,300.60 L351.60,300.60 L352.00,300.60 L352.40,300.60 L352.80,300.60 L353.20,300.60 L353.60,300.60 L354.00,300.60 L354.40,300.60 L354.80,300.60 L355.20,300.60 L355.60,300.60 L356.00,300.60 L356.40,300.60 L356.80,300.60 L357.20,300.60 L357.60,300.60 L358.00,300.60 L358.40,300.60 L358.80,300.60 L359.20,300.60 L359.60,300.60 L360.00,300.60 L360.40,300.60 L360.80,300.60 L361.20,300.60 L361.60,300.60 L362.00,300.60 L362.40,300.60 L362.80,300.60 L363.20,300.60 L363.60,300.60 L364.00,300.60 L364.40,300.60 L364.80,300.60 L365.20,300.60 L365.60,300.60 L366.00,300.60 L366.40,300.60 L366.80,300.60 L367.20,300.60 L367.60,300.60 L368.00,300.60 L368.40,300.60 L368.80,300.60 L369.20,300.60 L369.60,300.60 L370.00,300.60 L370.40,300.60 L370.80,300.60 L371.20,300.60 L371.60,300.60 L372.00,300.60 L372.40,300.60 L372.80,300.60 L373.20,300.60 L373.60,300.60 L374.00,300.60 L374.40,300.60 L374.80,300.60 L375.20,300.60 L375.60,300.60 L376.00,300.60 L376.40,300.60 L376.80,300.60 L377.20,300.60 L377.60,300.60 L378.00,300.60 L378.40,300.60 L378.80,300.60 L379.20,300.60 L379.60,300.60 L380.00,300.60 L380.40,300.60 L380.80,300.60 L381.20,300.60 L381.60,300.60 L382.00,300.60 L382.40,300.60 L382.80,300.60 L383.20,300.60 L383.60,300.60 L384.00,300.60 L384.40,300.60 L384.80,300.60 L385.20,300.60 L385.60,300.60 L386.00,300.60 L386.40,300.60 L386.80,300.60 L387.20,300.60 L387.60,300.60 L388.00,300.60 L388.40,300.60 L388.80,300.60 L389.20,300.60 L389.60,300.60 L390.00,300.60 L390.40,300.60 L390.80,300.60 L391.20,300.60 L391.60,300.60 L392.00,300.60 L392.40,300.60 L392.80,300.60 L393.20,300.60 L393.60,300.60 L394.00,300.60 L394.40,300.60 L394.80,300.60 L395.20,300.60 L395.60,300.60 L396.00,300.60 L396.40,300.60 L396.80,300.60 L397.20,300.60 L397.60,300.60 L398.00,300.60 L398.40,300.60 L398.80,300.60 L399.20,300.60 L399.60,300.60 L400.00,300.60 L400.40,300.60 L400.80,300.60 L401.20,300.60 L401.60,300.60 L402.00,300.60 L402.40,300.60 L402.80,300.60 L403.20,300.60 L403.60,300.60 L404.00,300.60 L404.40,300.60 L404.80,300.60 L405.20,300.60 L405.60,300.60 L406.00,300.60 L406.40,300.60 L406.80,300.60 L407.20,300.60 L407.60,300.60 L408.00,300.60 L408.40,300.60 L408.80,300.60 L409.20,300.60 L409.60,300.60 L410.00,300.60 L410.40,300.60 L410.80,300.60 L411.20,300.60 L411.60,300.60 L412.00,300.60 L412.40,300.60 L412.80,300.60 L413.20,300.60 L413.60,300.60 L414.00,300.60 L414.40,300.60 L414.80,300.60 L415.20,300.60 L415.60,300.60 L416.00,300.60 L416.40,300.60 L416.80,300.60 L417.20,300.60 L417.60,300.60 L418.00,300.60 L418.40,300.60 L418.80,300.60 L419.20,300.60 L419.60,300.60 L420.00,300.60 L420.40,300.60 L420.80,300.60 L421.20,300.60 L421.60,300.60 L422.00,300.60 L422.40,300.60 L422.80,300.60 L423.20,300.60 L423.60,300.60 L424.00,300.60 L424.40,300.60 L424.80,300.60 L425.20,300.60 L425.60,300.60 L426.00,300.60 L426.40,300.60 L426.80,300.60 L427.20,300.60 L427.60,300.60 L428.00,300.60 L428.40,300.60 L428.80,300.60 L429.20,300.60 L429.60,300.60 L430.00,300.60 L430.40,300.60 L430.80,300.60 L431.20,300.60 L431.60,300.60 L432.00,300.60 L432.40,300.60 L432.80,300.60" stroke="#2E75C6" stroke-width="1.7" fill="none" />
<path d="M270.00,248.60 L270.40,248.60 L270.80,248.60 L271.20,248.60 L271.60,248.60 L272.00,248.60 L272.40,248.60 L272.80,248.60 L273.20,248.60 L273.60,248.60 L274.00,248.60 L274.40,248.60 L274.80,248.60 L275.20,248.60 L275.60,248.60 L276.00,248.60 L276.40,248.61 L276.80,248.61 L277.20,248.61 L277.60,248.61 L278.00,248.61 L278.40,248.61 L278.80,248.61 L279.20,248.61 L279.60,248.61 L280.00,248.61 L280.40,248.61 L280.80,248.62 L281.20,248.62 L281.60,248.62 L282.00,248.62 L282.40,248.62 L282.80,248.62 L283.20,248.63 L283.60,248.63 L284.00,248.63 L284.40,248.63 L284.80,248.63 L285.20,248.63 L285.60,248.64 L286.00,248.64 L286.40,248.64 L286.80,248.64 L287.20,248.65 L287.60,248.65 L288.00,248.65 L288.40,248.65 L288.80,248.66 L289.20,248.66 L289.60,248.66 L290.00,248.67 L290.40,248.67 L290.80,248.67 L291.20,248.67 L291.60,248.68 L292.00,248.68 L292.40,248.69 L292.80,248.69 L293.20,248.69 L293.60,248.70 L294.00,248.70 L294.40,248.70 L294.80,248.71 L295.20,248.71 L295.60,248.72 L296.00,248.72 L296.40,248.73 L296.80,248.73 L297.20,248.74 L297.60,248.74 L298.00,248.74 L298.40,248.75 L298.80,248.75 L299.20,248.76 L299.60,248.77 L300.00,248.77 L300.40,248.78 L300.80,248.78 L301.20,248.79 L301.60,248.79 L302.00,248.80 L302.40,248.81 L302.80,248.83 L303.20,248.86 L303.60,248.90 L304.00,248.95 L304.40,249.00 L304.80,249.07 L305.20,249.13 L305.60,249.21 L306.00,249.28 L306.40,249.37 L306.80,249.45 L307.20,249.54 L307.60,249.63 L308.00,249.72 L308.40,249.83 L308.80,249.96 L309.20,250.11 L309.60,250.27 L310.00,250.44 L310.40,250.63 L310.80,250.83 L311.20,251.03 L311.60,251.25 L312.00,251.46 L312.40,251.68 L312.80,251.90 L313.20,252.12 L313.60,252.35 L314.00,252.58 L314.40,252.82 L314.80,253.07 L315.20,253.33 L315.60,253.60 L316.00,253.89 L316.40,254.19 L316.80,254.51 L317.20,254.85 L317.60,255.21 L318.00,255.60 L318.40,256.04 L318.80,256.54 L319.20,257.08 L319.60,257.67 L320.00,258.30 L320.40,258.97 L320.80,259.73 L321.20,260.57 L321.60,261.49 L322.00,262.45 L322.40,263.45 L322.80,264.46 L323.20,265.47 L323.60,266.46 L324.00,267.42 L324.40,268.40 L324.80,269.40 L325.20,270.40 L325.60,271.41 L326.00,272.42 L326.40,273.42 L326.80,274.41 L327.20,275.40 L327.60,276.36 L328.00,277.31 L328.40,278.27 L328.80,279.23 L329.20,280.18 L329.60,281.12 L330.00,282.05 L330.40,282.96 L330.80,283.84 L331.20,284.69 L331.60,285.50 L332.00,286.28 L332.40,287.05 L332.80,287.79 L333.20,288.51 L333.60,289.22 L334.00,289.91 L334.40,290.58 L334.80,291.23 L335.20,291.87 L335.60,292.50 L336.00,293.12 L336.40,293.75 L336.80,294.38 L337.20,295.00 L337.60,295.59 L338.00,296.16 L338.40,296.70 L338.80,297.18 L339.20,297.62 L339.60,297.99 L340.00,298.34 L340.40,298.69 L340.80,299.03 L341.20,299.34 L341.60,299.61 L342.00,299.85 L342.40,300.03 L342.80,300.16 L343.20,300.23 L343.60,300.29 L344.00,300.34 L344.40,300.39 L344.80,300.43 L345.20,300.47 L345.60,300.50 L346.00,300.53 L346.40,300.56 L346.80,300.57 L347.20,300.59 L347.60,300.60 L348.00,300.60 L348.40,300.60 L348.80,300.60 L349.20,300.60 L349.60,300.60 L350.00,300.60 L350.40,300.60 L350.80,300.60 L351.20,300.60 L351.60,300.60 L352.00,300.60 L352.40,300.60 L352.80,300.60 L353.20,300.60 L353.60,300.60 L354.00,300.60 L354.40,300.60 L354.80,300.60 L355.20,300.60 L355.60,300.60 L356.00,300.60 L356.40,300.60 L356.80,300.60 L357.20,300.60 L357.60,300.60 L358.00,300.60 L358.40,300.60 L358.80,300.60 L359.20,300.60 L359.60,300.60 L360.00,300.60 L360.40,300.60 L360.80,300.60 L361.20,300.60 L361.60,300.60 L362.00,300.60 L362.40,300.60 L362.80,300.60 L363.20,300.60 L363.60,300.60 L364.00,300.60 L364.40,300.60 L364.80,300.60 L365.20,300.60 L365.60,300.60 L366.00,300.60 L366.40,300.60 L366.80,300.60 L367.20,300.60 L367.60,300.60 L368.00,300.60 L368.40,300.60 L368.80,300.60 L369.20,300.60 L369.60,300.60 L370.00,300.60 L370.40,300.60 L370.80,300.60 L371.20,300.60 L371.60,300.60 L372.00,300.60 L372.40,300.60 L372.80,300.60 L373.20,300.60 L373.60,300.60 L374.00,300.60 L374.40,300.60 L374.80,300.60 L375.20,300.60 L375.60,300.60 L376.00,300.60 L376.40,300.60 L376.80,300.60 L377.20,300.60 L377.60,300.60 L378.00,300.60 L378.40,300.60 L378.80,300.60 L379.20,300.60 L379.60,300.60 L380.00,300.60 L380.40,300.60 L380.80,300.60 L381.20,300.60 L381.60,300.60 L382.00,300.60 L382.40,300.60 L382.80,300.60 L383.20,300.60 L383.60,300.60 L384.00,300.60 L384.40,300.60 L384.80,300.60 L385.20,300.60 L385.60,300.60 L386.00,300.60 L386.40,300.60 L386.80,300.60 L387.20,300.60 L387.60,300.60 L388.00,300.60 L388.40,300.60 L388.80,300.60 L389.20,300.60 L389.60,300.60 L390.00,300.60 L390.40,300.60 L390.80,300.60 L391.20,300.60 L391.60,300.60 L392.00,300.60 L392.40,300.60 L392.80,300.60 L393.20,300.60 L393.60,300.60 L394.00,300.60 L394.40,300.60 L394.80,300.60 L395.20,300.60 L395.60,300.60 L396.00,300.60 L396.40,300.60 L396.80,300.60 L397.20,300.60 L397.60,300.60 L398.00,300.60 L398.40,300.60 L398.80,300.60 L399.20,300.60 L399.60,300.60 L400.00,300.60 L400.40,300.60 L400.80,300.60 L401.20,300.60 L401.60,300.60 L402.00,300.60 L402.40,300.60 L402.80,300.60 L403.20,300.60 L403.60,300.60 L404.00,300.60 L404.40,300.60 L404.80,300.60 L405.20,300.60 L405.60,300.60 L406.00,300.60 L406.40,300.60 L406.80,300.60 L407.20,300.60 L407.60,300.60 L408.00,300.60 L408.40,300.60 L408.80,300.60 L409.20,300.60 L409.60,300.60 L410.00,300.60 L410.40,300.60 L410.80,300.60 L411.20,300.60 L411.60,300.60 L412.00,300.60 L412.40,300.60 L412.80,300.60 L413.20,300.60 L413.60,300.60 L414.00,300.60 L414.40,300.60 L414.80,300.60 L415.20,300.60 L415.60,300.60 L416.00,300.60 L416.40,300.60 L416.80,300.60 L417.20,300.60 L417.60,300.60 L418.00,300.60 L418.40,300.60 L418.80,300.60 L419.20,300.60 L419.60,300.60 L420.00,300.60 L420.40,300.60 L420.80,300.60 L421.20,300.60 L421.60,300.60 L422.00,300.60 L422.40,300.60 L422.80,300.60 L423.20,300.60 L423.60,300.60 L424.00,300.60 L424.40,300.60 L424.80,300.60 L425.20,300.60 L425.60,300.60 L426.00,300.60 L426.40,300.60 L426.80,300.60 L427.20,300.60 L427.60,300.60 L428.00,300.60 L428.40,300.60 L428.80,300.60 L429.20,300.60 L429.60,300.60 L430.00,300.60 L430.40,300.60 L430.80,300.60 L431.20,300.60 L431.60,300.60 L432.00,300.60 L432.40,300.60 L432.80,300.60" stroke="#ED7D31" stroke-width="1.7" fill="none" />
<path d="M270.00,248.60 L270.40,248.60 L270.80,248.60 L271.20,248.60 L271.60,248.60 L272.00,248.60 L272.40,248.60 L272.80,248.60 L273.20,248.60 L273.60,248.60 L274.00,248.60 L274.40,248.60 L274.80,248.60 L275.20,248.60 L275.60,248.61 L276.00,248.61 L276.40,248.61 L276.80,248.61 L277.20,248.61 L277.60,248.61 L278.00,248.61 L278.40,248.61 L278.80,248.61 L279.20,248.61 L279.60,248.62 L280.00,248.62 L280.40,248.62 L280.80,248.62 L281.20,248.62 L281.60,248.62 L282.00,248.62 L282.40,248.63 L282.80,248.63 L283.20,248.63 L283.60,248.63 L284.00,248.63 L284.40,248.64 L284.80,248.64 L285.20,248.64 L285.60,248.64 L286.00,248.64 L286.40,248.65 L286.80,248.65 L287.20,248.65 L287.60,248.65 L288.00,248.66 L288.40,248.66 L288.80,248.66 L289.20,248.67 L289.60,248.67 L290.00,248.67 L290.40,248.68 L290.80,248.68 L291.20,248.68 L291.60,248.69 L292.00,248.69 L292.40,248.69 L292.80,248.70 L293.20,248.70 L293.60,248.70 L294.00,248.71 L294.40,248.71 L294.80,248.71 L295.20,248.72 L295.60,248.72 L296.00,248.73 L296.40,248.73 L296.80,248.74 L297.20,248.74 L297.60,248.74 L298.00,248.75 L298.40,248.75 L298.80,248.76 L299.20,248.76 L299.60,248.77 L300.00,248.77 L300.40,248.78 L300.80,248.78 L301.20,248.79 L301.60,248.79 L302.00,248.80 L302.40,248.81 L302.80,248.82 L303.20,248.83 L303.60,248.85 L304.00,248.87 L304.40,248.90 L304.80,248.93 L305.20,248.96 L305.60,248.99 L306.00,249.03 L306.40,249.07 L306.80,249.11 L307.20,249.15 L307.60,249.20 L308.00,249.25 L308.40,249.30 L308.80,249.35 L309.20,249.40 L309.60,249.45 L310.00,249.51 L310.40,249.56 L310.80,249.62 L311.20,249.67 L311.60,249.73 L312.00,249.79 L312.40,249.84 L312.80,249.90 L313.20,249.96 L313.60,250.02 L314.00,250.08 L314.40,250.14 L314.80,250.21 L315.20,250.28 L315.60,250.36 L316.00,250.43 L316.40,250.52 L316.80,250.60 L317.20,250.69 L317.60,250.79 L318.00,250.89 L318.40,250.99 L318.80,251.10 L319.20,251.22 L319.60,251.34 L320.00,251.47 L320.40,251.61 L320.80,251.78 L321.20,251.97 L321.60,252.17 L322.00,252.39 L322.40,252.62 L322.80,252.86 L323.20,253.12 L323.60,253.39 L324.00,253.66 L324.40,253.94 L324.80,254.23 L325.20,254.53 L325.60,254.83 L326.00,255.13 L326.40,255.46 L326.80,255.82 L327.20,256.19 L327.60,256.58 L328.00,256.99 L328.40,257.40 L328.80,257.83 L329.20,258.26 L329.60,258.70 L330.00,259.14 L330.40,259.58 L330.80,260.02 L331.20,260.46 L331.60,260.91 L332.00,261.36 L332.40,261.82 L332.80,262.29 L333.20,262.76 L333.60,263.24 L334.00,263.73 L334.40,264.24 L334.80,264.75 L335.20,265.27 L335.60,265.80 L336.00,266.35 L336.40,266.94 L336.80,267.54 L337.20,268.16 L337.60,268.79 L338.00,269.42 L338.40,270.05 L338.80,270.67 L339.20,271.27 L339.60,271.84 L340.00,272.40 L340.40,272.95 L340.80,273.50 L341.20,274.03 L341.60,274.57 L342.00,275.09 L342.40,275.62 L342.80,276.14 L343.20,276.66 L343.60,277.17 L344.00,277.68 L344.40,278.18 L344.80,278.68 L345.20,279.18 L345.60,279.68 L346.00,280.17 L346.40,280.68 L346.80,281.18 L347.20,281.69 L347.60,282.21 L348.00,282.73 L348.40,283.27 L348.80,283.80 L349.20,284.35 L349.60,284.90 L350.00,285.45 L350.40,286.00 L350.80,286.56 L351.20,287.12 L351.60,287.68 L352.00,288.24 L352.40,288.80 L352.80,289.36 L353.20,289.93 L353.60,290.52 L354.00,291.13 L354.40,291.75 L354.80,292.38 L355.20,293.00 L355.60,293.61 L356.00,294.20 L356.40,294.76 L356.80,295.29 L357.20,295.77 L357.60,296.21 L358.00,296.59 L358.40,296.96 L358.80,297.33 L359.20,297.69 L359.60,298.04 L360.00,298.37 L360.40,298.68 L360.80,298.97 L361.20,299.23 L361.60,299.45 L362.00,299.64 L362.40,299.79 L362.80,299.90 L363.20,299.98 L363.60,300.06 L364.00,300.13 L364.40,300.20 L364.80,300.27 L365.20,300.33 L365.60,300.38 L366.00,300.43 L366.40,300.48 L366.80,300.51 L367.20,300.55 L367.60,300.57 L368.00,300.59 L368.40,300.60 L368.80,300.60 L369.20,300.60 L369.60,300.60 L370.00,300.60 L370.40,300.60 L370.80,300.60 L371.20,300.60 L371.60,300.60 L372.00,300.60 L372.40,300.60 L372.80,300.60 L373.20,300.60 L373.60,300.60 L374.00,300.60 L374.40,300.60 L374.80,300.60 L375.20,300.60 L375.60,300.60 L376.00,300.60 L376.40,300.60 L376.80,300.60 L377.20,300.60 L377.60,300.60 L378.00,300.60 L378.40,300.60 L378.80,300.60 L379.20,300.60 L379.60,300.60 L380.00,300.60 L380.40,300.60 L380.80,300.60 L381.20,300.60 L381.60,300.60 L382.00,300.60 L382.40,300.60 L382.80,300.60 L383.20,300.60 L383.60,300.60 L384.00,300.60 L384.40,300.60 L384.80,300.60 L385.20,300.60 L385.60,300.60 L386.00,300.60 L386.40,300.60 L386.80,300.60 L387.20,300.60 L387.60,300.60 L388.00,300.60 L388.40,300.60 L388.80,300.60 L389.20,300.60 L389.60,300.60 L390.00,300.60 L390.40,300.60 L390.80,300.60 L391.20,300.60 L391.60,300.60 L392.00,300.60 L392.40,300.60 L392.80,300.60 L393.20,300.60 L393.60,300.60 L394.00,300.60 L394.40,300.60 L394.80,300.60 L395.20,300.60 L395.60,300.60 L396.00,300.60 L396.40,300.60 L396.80,300.60 L397.20,300.60 L397.60,300.60 L398.00,300.60 L398.40,300.60 L398.80,300.60 L399.20,300.60 L399.60,300.60 L400.00,300.60 L400.40,300.60 L400.80,300.60 L401.20,300.60 L401.60,300.60 L402.00,300.60 L402.40,300.60 L402.80,300.60 L403.20,300.60 L403.60,300.60 L404.00,300.60 L404.40,300.60 L404.80,300.60 L405.20,300.60 L405.60,300.60 L406.00,300.60 L406.40,300.60 L406.80,300.60 L407.20,300.60 L407.60,300.60 L408.00,300.60 L408.40,300.60 L408.80,300.60 L409.20,300.60 L409.60,300.60 L410.00,300.60 L410.40,300.60 L410.80,300.60 L411.20,300.60 L411.60,300.60 L412.00,300.60 L412.40,300.60 L412.80,300.60 L413.20,300.60 L413.60,300.60 L414.00,300.60 L414.40,300.60 L414.80,300.60 L415.20,300.60 L415.60,300.60 L416.00,300.60 L416.40,300.60 L416.80,300.60 L417.20,300.60 L417.60,300.60 L418.00,300.60 L418.40,300.60 L418.80,300.60 L419.20,300.60 L419.60,300.60 L420.00,300.60 L420.40,300.60 L420.80,300.60 L421.20,300.60 L421.60,300.60 L422.00,300.60 L422.40,300.60 L422.80,300.60 L423.20,300.60 L423.60,300.60 L424.00,300.60 L424.40,300.60 L424.80,300.60 L425.20,300.60 L425.60,300.60 L426.00,300.60 L426.40,300.60 L426.80,300.60 L427.20,300.60 L427.60,300.60 L428.00,300.60 L428.40,300.60 L428.80,300.60 L429.20,300.60 L429.60,300.60 L430.00,300.60 L430.40,300.60 L430.80,300.60 L431.20,300.60 L431.60,300.60 L432.00,300.60 L432.40,300.60 L432.80,300.60" stroke="#A5A5A5" stroke-width="1.7" fill="none" />
<path d="M270.00,248.60 L270.40,248.60 L270.80,248.60 L271.20,248.60 L271.60,248.60 L272.00,248.60 L272.40,248.60 L272.80,248.60 L273.20,248.60 L273.60,248.60 L274.00,248.60 L274.40,248.60 L274.80,248.60 L275.20,248.60 L275.60,248.60 L276.00,248.60 L276.40,248.60 L276.80,248.60 L277.20,248.60 L277.60,248.60 L278.00,248.60 L278.40,248.60 L278.80,248.60 L279.20,248.60 L279.60,248.60 L280.00,248.60 L280.40,248.60 L280.80,248.60 L281.20,248.60 L281.60,248.60 L282.00,248.60 L282.40,248.60 L282.80,248.60 L283.20,248.60 L283.60,248.60 L284.00,248.60 L284.40,248.60 L284.80,248.60 L285.20,248.60 L285.60,248.60 L286.00,248.60 L286.40,248.60 L286.80,248.60 L287.20,248.60 L287.60,248.60 L288.00,248.60 L288.40,248.60 L288.80,248.60 L289.20,248.60 L289.60,248.60 L290.00,248.60 L290.40,248.60 L290.80,248.60 L291.20,248.60 L291.60,248.60 L292.00,248.60 L292.40,248.60 L292.80,248.60 L293.20,248.60 L293.60,248.60 L294.00,248.60 L294.40,248.60 L294.80,248.60 L295.20,248.60 L295.60,248.60 L296.00,248.60 L296.40,248.60 L296.80,248.60 L297.20,248.61 L297.60,248.61 L298.00,248.62 L298.40,248.63 L298.80,248.64 L299.20,248.65 L299.60,248.67 L300.00,248.68 L300.40,248.70 L300.80,248.71 L301.20,248.73 L301.60,248.75 L302.00,248.77 L302.40,248.79 L302.80,248.81 L303.20,248.83 L303.60,248.85 L304.00,248.88 L304.40,248.90 L304.80,248.92 L305.20,248.94 L305.60,248.97 L306.00,248.99 L306.40,249.01 L306.80,249.04 L307.20,249.06 L307.60,249.08 L308.00,249.11 L308.40,249.13 L308.80,249.15 L309.20,249.18 L309.60,249.21 L310.00,249.24 L310.40,249.27 L310.80,249.30 L311.20,249.33 L311.60,249.36 L312.00,249.40 L312.40,249.43 L312.80,249.46 L313.20,249.50 L313.60,249.53 L314.00,249.57 L314.40,249.61 L314.80,249.64 L315.20,249.68 L315.60,249.71 L316.00,249.75 L316.40,249.78 L316.80,249.82 L317.20,249.85 L317.60,249.88 L318.00,249.92 L318.40,249.95 L318.80,249.98 L319.20,250.01 L319.60,250.04 L320.00,250.07 L320.40,250.10 L320.80,250.13 L321.20,250.16 L321.60,250.19 L322.00,250.22 L322.40,250.25 L322.80,250.28 L323.20,250.31 L323.60,250.35 L324.00,250.38 L324.40,250.41 L324.80,250.44 L325.20,250.48 L325.60,250.51 L326.00,250.54 L326.40,250.58 L326.80,250.62 L327.20,250.65 L327.60,250.69 L328.00,250.73 L328.40,250.77 L328.80,250.81 L329.20,250.85 L329.60,250.88 L330.00,250.92 L330.40,250.96 L330.80,251.00 L331.20,251.05 L331.60,251.09 L332.00,251.13 L332.40,251.17 L332.80,251.22 L333.20,251.27 L333.60,251.31 L334.00,251.36 L334.40,251.42 L334.80,251.47 L335.20,251.52 L335.60,251.58 L336.00,251.64 L336.40,251.70 L336.80,251.76 L337.20,251.83 L337.60,251.90 L338.00,251.98 L338.40,252.06 L338.80,252.16 L339.20,252.26 L339.60,252.37 L340.00,252.48 L340.40,252.60 L340.80,252.72 L341.20,252.85 L341.60,252.97 L342.00,253.10 L342.40,253.22 L342.80,253.34 L343.20,253.46 L343.60,253.57 L344.00,253.69 L344.40,253.80 L344.80,253.92 L345.20,254.03 L345.60,254.14 L346.00,254.26 L346.40,254.38 L346.80,254.49 L347.20,254.61 L347.60,254.74 L348.00,254.86 L348.40,254.99 L348.80,255.12 L349.20,255.26 L349.60,255.40 L350.00,255.55 L350.40,255.70 L350.80,255.86 L351.20,256.03 L351.60,256.20 L352.00,256.38 L352.40,256.58 L352.80,256.78 L353.20,256.99 L353.60,257.20 L354.00,257.43 L354.40,257.65 L354.80,257.89 L355.20,258.13 L355.60,258.38 L356.00,258.63 L356.40,258.88 L356.80,259.14 L357.20,259.40 L357.60,259.67 L358.00,259.94 L358.40,260.21 L358.80,260.50 L359.20,260.80 L359.60,261.11 L360.00,261.42 L360.40,261.74 L360.80,262.07 L361.20,262.41 L361.60,262.75 L362.00,263.10 L362.40,263.45 L362.80,263.80 L363.20,264.16 L363.60,264.54 L364.00,264.92 L364.40,265.32 L364.80,265.72 L365.20,266.13 L365.60,266.54 L366.00,266.96 L366.40,267.37 L366.80,267.79 L367.20,268.19 L367.60,268.60 L368.00,269.00 L368.40,269.40 L368.80,269.81 L369.20,270.22 L369.60,270.62 L370.00,271.03 L370.40,271.44 L370.80,271.84 L371.20,272.24 L371.60,272.64 L372.00,273.03 L372.40,273.41 L372.80,273.79 L373.20,274.17 L373.60,274.54 L374.00,274.91 L374.40,275.28 L374.80,275.65 L375.20,276.01 L375.60,276.36 L376.00,276.72 L376.40,277.07 L376.80,277.42 L377.20,277.76 L377.60,278.10 L378.00,278.43 L378.40,278.75 L378.80,279.07 L379.20,279.37 L379.60,279.67 L380.00,279.97 L380.40,280.28 L380.80,280.58 L381.20,280.89 L381.60,281.20 L382.00,281.53 L382.40,281.87 L382.80,282.22 L383.20,282.59 L383.60,282.97 L384.00,283.38 L384.40,283.80 L384.80,284.23 L385.20,284.67 L385.60,285.11 L386.00,285.57 L386.40,286.02 L386.80,286.47 L387.20,286.92 L387.60,287.37 L388.00,287.81 L388.40,288.25 L388.80,288.70 L389.20,289.15 L389.60,289.61 L390.00,290.06 L390.40,290.51 L390.80,290.96 L391.20,291.41 L391.60,291.85 L392.00,292.28 L392.40,292.69 L392.80,293.10 L393.20,293.50 L393.60,293.90 L394.00,294.31 L394.40,294.71 L394.80,295.11 L395.20,295.50 L395.60,295.88 L396.00,296.24 L396.40,296.59 L396.80,296.91 L397.20,297.21 L397.60,297.48 L398.00,297.72 L398.40,297.95 L398.80,298.18 L399.20,298.40 L399.60,298.62 L400.00,298.82 L400.40,299.01 L400.80,299.19 L401.20,299.35 L401.60,299.49 L402.00,299.62 L402.40,299.72 L402.80,299.80 L403.20,299.87 L403.60,299.93 L404.00,299.99 L404.40,300.04 L404.80,300.09 L405.20,300.14 L405.60,300.18 L406.00,300.22 L406.40,300.26 L406.80,300.29 L407.20,300.32 L407.60,300.35 L408.00,300.37 L408.40,300.39 L408.80,300.40 L409.20,300.42 L409.60,300.43 L410.00,300.45 L410.40,300.46 L410.80,300.47 L411.20,300.49 L411.60,300.50 L412.00,300.51 L412.40,300.52 L412.80,300.53 L413.20,300.54 L413.60,300.55 L414.00,300.56 L414.40,300.57 L414.80,300.57 L415.20,300.58 L415.60,300.58 L416.00,300.59 L416.40,300.59 L416.80,300.60 L417.20,300.60 L417.60,300.60 L418.00,300.60 L418.40,300.60 L418.80,300.60 L419.20,300.60 L419.60,300.60 L420.00,300.60 L420.40,300.60 L420.80,300.60 L421.20,300.60 L421.60,300.60 L422.00,300.60 L422.40,300.60 L422.80,300.60 L423.20,300.60 L423.60,300.60 L424.00,300.60 L424.40,300.60 L424.80,300.60 L425.20,300.60 L425.60,300.60 L426.00,300.60 L426.40,300.60 L426.80,300.60 L427.20,300.60 L427.60,300.60 L428.00,300.60 L428.40,300.60 L428.80,300.60 L429.20,300.60 L429.60,300.60 L430.00,300.60 L430.40,300.60 L430.80,300.60 L431.20,300.60 L431.60,300.60 L432.00,300.60 L432.40,300.60 L432.80,300.60" stroke="#FFC000" stroke-width="1.7" fill="none" />
<rect x="387.60" y="232.50" width="42.80" height="47.30" fill="#fff" stroke="#9A9A9A" stroke-width="1" />
<line x1="391.90" y1="239.90" x2="403.00" y2="239.90" stroke="#2E75C6" stroke-width="1.7" />
<text transform="translate(406.40 242.47) scale(0.9 1)" x="0" y="0" font-size="8.3" text-anchor="start" fill="#000" stroke="#000" stroke-width="0.1">3.0 V</text>
<line x1="391.90" y1="251.10" x2="403.00" y2="251.10" stroke="#ED7D31" stroke-width="1.7" />
<text transform="translate(406.40 253.67) scale(0.9 1)" x="0" y="0" font-size="8.3" text-anchor="start" fill="#000" stroke="#000" stroke-width="0.1">2.0 V</text>
<line x1="391.90" y1="262.30" x2="403.00" y2="262.30" stroke="#A5A5A5" stroke-width="1.7" />
<text transform="translate(406.40 264.87) scale(0.9 1)" x="0" y="0" font-size="8.3" text-anchor="start" fill="#000" stroke="#000" stroke-width="0.1">1.5 V</text>
<line x1="391.90" y1="273.40" x2="403.00" y2="273.40" stroke="#FFC000" stroke-width="1.7" />
<text transform="translate(406.40 275.97) scale(0.9 1)" x="0" y="0" font-size="8.3" text-anchor="start" fill="#000" stroke="#000" stroke-width="0.1">1.0 V</text>
<text x="378.60" y="227.47" font-size="8.3" text-anchor="start"><tspan font-style="italic">L</tspan>1<tspan font-size="5.40" dy="1.83">0</tspan><tspan dy="-1.83">-FePd/Gr</tspan></text>
<line x1="303.50" y1="227.20" x2="303.50" y2="245.70" stroke="#000" stroke-width="1.1" />
<path d="M300.5,242.2 L303.5,246.7 L306.5,242.2" stroke="#000" stroke-width="1.1" fill="none" />
<text x="258.50" y="233.96" font-size="9.1" text-anchor="end" fill="#000" stroke="#000" stroke-width="0.1" >0.4</text>
<text x="258.50" y="252.66" font-size="9.1" text-anchor="end" fill="#000" stroke="#000" stroke-width="0.1" >0.0</text>
<text x="258.50" y="271.36" font-size="9.1" text-anchor="end" fill="#000" stroke="#000" stroke-width="0.1" >-0.4</text>
<text x="258.50" y="290.06" font-size="9.1" text-anchor="end" fill="#000" stroke="#000" stroke-width="0.1" >-0.8</text>
<text x="258.50" y="308.76" font-size="9.1" text-anchor="end" fill="#000" stroke="#000" stroke-width="0.1" >-1.2</text>
<text x="269.50" y="319.66" font-size="9.1" text-anchor="middle" fill="#000" stroke="#000" stroke-width="0.1" >5.0E-09</text>
<text x="324.80" y="319.66" font-size="9.1" text-anchor="middle" fill="#000" stroke="#000" stroke-width="0.1" >5.4E-09</text>
<text x="377.90" y="319.66" font-size="9.1" text-anchor="middle" fill="#000" stroke="#000" stroke-width="0.1" >5.8E-09</text>
<text x="433.40" y="319.66" font-size="9.1" text-anchor="middle" fill="#000" stroke="#000" stroke-width="0.1" >6.2E-09</text>
<text x="350.80" y="333.22" font-size="9" text-anchor="middle" fill="#000" stroke="#000" stroke-width="0.1" >Normalized Time (s)</text>
<text x="239.00" y="269.00" font-size="9.1" text-anchor="middle" fill="#000" stroke="#000" stroke-width="0.1" transform="rotate(-90 239.00 269.00)">Magnetization (T)</text>
<text x="8.80" y="344.54" font-size="11" text-anchor="middle" fill="#000" stroke="#000" stroke-width="0.1" >(c)</text>
<line x1="70.80" y1="345.80" x2="70.80" y2="457.40" stroke="#D9D9D9" stroke-width="0.9" />
<line x1="95.80" y1="345.80" x2="95.80" y2="457.40" stroke="#D9D9D9" stroke-width="0.9" />
<line x1="120.80" y1="345.80" x2="120.80" y2="457.40" stroke="#D9D9D9" stroke-width="0.9" />
<line x1="145.80" y1="345.80" x2="145.80" y2="457.40" stroke="#D9D9D9" stroke-width="0.9" />
<line x1="170.80" y1="345.80" x2="170.80" y2="457.40" stroke="#D9D9D9" stroke-width="0.9" />
<line x1="195.80" y1="345.80" x2="195.80" y2="457.40" stroke="#D9D9D9" stroke-width="0.9" />
<line x1="45.80" y1="437.15" x2="220.80" y2="437.15" stroke="#D9D9D9" stroke-width="0.9" />
<line x1="45.80" y1="416.90" x2="220.80" y2="416.90" stroke="#D9D9D9" stroke-width="0.9" />
<line x1="45.80" y1="396.65" x2="220.80" y2="396.65" stroke="#D9D9D9" stroke-width="0.9" />
<line x1="45.80" y1="376.40" x2="220.80" y2="376.40" stroke="#D9D9D9" stroke-width="0.9" />
<line x1="45.80" y1="356.15" x2="220.80" y2="356.15" stroke="#D9D9D9" stroke-width="0.9" />
<path d="M45.8,345.8 L220.8,345.8 L220.8,457.4 L45.8,457.4 Z" fill="none" stroke="#767676" stroke-width="1.4"/>
<text x="37.60" y="460.62" font-size="9" text-anchor="end" fill="#000" stroke="#000" stroke-width="0.1" >0</text>
<text x="37.60" y="440.37" font-size="9" text-anchor="end" fill="#000" stroke="#000" stroke-width="0.1" >1</text>
<text x="37.60" y="420.12" font-size="9" text-anchor="end" fill="#000" stroke="#000" stroke-width="0.1" >2</text>
<text x="37.60" y="399.87" font-size="9" text-anchor="end" fill="#000" stroke="#000" stroke-width="0.1" >3</text>
<text x="37.60" y="379.62" font-size="9" text-anchor="end" fill="#000" stroke="#000" stroke-width="0.1" >4</text>
<text x="37.60" y="359.37" font-size="9" text-anchor="end" fill="#000" stroke="#000" stroke-width="0.1" >5</text>
<text x="44.80" y="471.56" font-size="9.1" text-anchor="middle" fill="#000" stroke="#000" stroke-width="0.1" >0.0</text>
<text x="69.80" y="471.56" font-size="9.1" text-anchor="middle" fill="#000" stroke="#000" stroke-width="0.1" >0.5</text>
<text x="94.80" y="471.56" font-size="9.1" text-anchor="middle" fill="#000" stroke="#000" stroke-width="0.1" >1.0</text>
<text x="119.80" y="471.56" font-size="9.1" text-anchor="middle" fill="#000" stroke="#000" stroke-width="0.1" >1.5</text>
<text x="144.80" y="471.56" font-size="9.1" text-anchor="middle" fill="#000" stroke="#000" stroke-width="0.1" >2.0</text>
<text x="169.80" y="471.56" font-size="9.1" text-anchor="middle" fill="#000" stroke="#000" stroke-width="0.1" >2.5</text>
<text x="194.80" y="471.56" font-size="9.1" text-anchor="middle" fill="#000" stroke="#000" stroke-width="0.1" >3.0</text>
<text x="219.80" y="471.56" font-size="9.1" text-anchor="middle" fill="#000" stroke="#000" stroke-width="0.1" >3.5</text>
<text x="133.40" y="483.79" font-size="9.2" text-anchor="middle" fill="#000" stroke="#000" stroke-width="0.1" >Voltage (V)</text>
<text x="22.70" y="401.50" font-size="9.2" text-anchor="middle" fill="#000" stroke="#000" stroke-width="0.1" transform="rotate(-90 22.70 401.50)">Switching time (ns)</text>
<path d="M95.80,365.73 L96.30,370.77 L96.80,375.16 L97.30,379.04 L97.80,382.50 L98.30,385.60 L98.80,388.41 L99.30,390.96 L99.80,393.29 L100.30,395.43 L100.80,397.41 L101.30,399.24 L101.80,400.94 L102.30,402.52 L102.80,404.00 L103.30,405.39 L103.80,406.69 L104.30,407.92 L104.80,409.08 L105.30,410.18 L105.80,411.22 L106.30,412.20 L106.80,413.14 L107.30,414.03 L107.80,414.88 L108.30,415.70 L108.80,416.47 L109.30,417.22 L109.80,417.93 L110.30,418.62 L110.80,419.27 L111.30,419.90 L111.80,420.51 L112.30,421.10 L112.80,421.66 L113.30,422.21 L113.80,422.73 L114.30,423.24 L114.80,423.73 L115.30,424.21 L115.80,424.67 L116.30,425.11 L116.80,425.54 L117.30,425.96 L117.80,426.37 L118.30,426.76 L118.80,427.15 L119.30,427.52 L119.80,427.88 L120.30,428.24 L120.80,428.58 L121.30,428.91 L121.80,429.24 L122.30,429.56 L122.80,429.87 L123.30,430.17 L123.80,430.46 L124.30,430.75 L124.80,431.03 L125.30,431.31 L125.80,431.58 L126.30,431.84 L126.80,432.09 L127.30,432.35 L127.80,432.59 L128.30,432.83 L128.80,433.07 L129.30,433.30 L129.80,433.52 L130.30,433.74 L130.80,433.96 L131.30,434.17 L131.80,434.38 L132.30,434.58 L132.80,434.78 L133.30,434.98 L133.80,435.17 L134.30,435.36 L134.80,435.55 L135.30,435.73 L135.80,435.91 L136.30,436.09 L136.80,436.26 L137.30,436.43 L137.80,436.60 L138.30,436.76 L138.80,436.92 L139.30,437.08 L139.80,437.24 L140.30,437.39 L140.80,437.54 L141.30,437.69 L141.80,437.84 L142.30,437.98 L142.80,438.12 L143.30,438.26 L143.80,438.40 L144.30,438.54 L144.80,438.67 L145.30,438.80 L145.80,438.93 L146.30,439.06 L146.80,439.19 L147.30,439.31 L147.80,439.43 L148.30,439.55 L148.80,439.67 L149.30,439.79 L149.80,439.91 L150.30,440.02 L150.80,440.13 L151.30,440.24 L151.80,440.35 L152.30,440.46 L152.80,440.57 L153.30,440.68 L153.80,440.78 L154.30,440.88 L154.80,440.98 L155.30,441.09 L155.80,441.18 L156.30,441.28 L156.80,441.38 L157.30,441.47 L157.80,441.57 L158.30,441.66 L158.80,441.75 L159.30,441.85 L159.80,441.94 L160.30,442.03 L160.80,442.11 L161.30,442.20 L161.80,442.29 L162.30,442.37 L162.80,442.46 L163.30,442.54 L163.80,442.62 L164.30,442.70 L164.80,442.78 L165.30,442.86 L165.80,442.94 L166.30,443.02 L166.80,443.10 L167.30,443.17 L167.80,443.25 L168.30,443.32 L168.80,443.40 L169.30,443.47 L169.80,443.54 L170.30,443.61 L170.80,443.68 L171.30,443.76 L171.80,443.82 L172.30,443.89 L172.80,443.96 L173.30,444.03 L173.80,444.10 L174.30,444.16 L174.80,444.23 L175.30,444.29 L175.80,444.36 L176.30,444.42 L176.80,444.48 L177.30,444.55 L177.80,444.61 L178.30,444.67 L178.80,444.73 L179.30,444.79 L179.80,444.85 L180.30,444.91 L180.80,444.97 L181.30,445.03 L181.80,445.09 L182.30,445.14 L182.80,445.20 L183.30,445.26 L183.80,445.31 L184.30,445.37 L184.80,445.42 L185.30,445.48 L185.80,445.53 L186.30,445.58 L186.80,445.64 L187.30,445.69 L187.80,445.74 L188.30,445.79 L188.80,445.84 L189.30,445.89 L189.80,445.94 L190.30,445.99 L190.80,446.04 L191.30,446.09 L191.80,446.14 L192.30,446.19 L192.80,446.24 L193.30,446.29 L193.80,446.33 L194.30,446.38 L194.80,446.43 L195.30,446.47 L195.80,446.52" stroke="#FF6666" stroke-width="1.2" fill="none" />
<path d="M95.80,394.66 L96.30,397.12 L96.80,399.33 L97.30,401.32 L97.80,403.13 L98.30,404.79 L98.80,406.32 L99.30,407.73 L99.80,409.05 L100.30,410.27 L100.80,411.42 L101.30,412.50 L101.80,413.51 L102.30,414.47 L102.80,415.37 L103.30,416.23 L103.80,417.05 L104.30,417.83 L104.80,418.57 L105.30,419.28 L105.80,419.96 L106.30,420.61 L106.80,421.23 L107.30,421.83 L107.80,422.41 L108.30,422.96 L108.80,423.50 L109.30,424.01 L109.80,424.51 L110.30,424.99 L110.80,425.46 L111.30,425.91 L111.80,426.35 L112.30,426.77 L112.80,427.18 L113.30,427.58 L113.80,427.97 L114.30,428.35 L114.80,428.72 L115.30,429.07 L115.80,429.42 L116.30,429.76 L116.80,430.09 L117.30,430.42 L117.80,430.73 L118.30,431.04 L118.80,431.34 L119.30,431.63 L119.80,431.92 L120.30,432.20 L120.80,432.47 L121.30,432.74 L121.80,433.00 L122.30,433.26 L122.80,433.51 L123.30,433.76 L123.80,434.00 L124.30,434.24 L124.80,434.47 L125.30,434.70 L125.80,434.92 L126.30,435.14 L126.80,435.36 L127.30,435.57 L127.80,435.78 L128.30,435.99 L128.80,436.19 L129.30,436.38 L129.80,436.58 L130.30,436.77 L130.80,436.96 L131.30,437.14 L131.80,437.33 L132.30,437.50 L132.80,437.68 L133.30,437.85 L133.80,438.03 L134.30,438.19 L134.80,438.36 L135.30,438.52 L135.80,438.68 L136.30,438.84 L136.80,439.00 L137.30,439.15 L137.80,439.31 L138.30,439.46 L138.80,439.60 L139.30,439.75 L139.80,439.89 L140.30,440.04 L140.80,440.18 L141.30,440.32 L141.80,440.45 L142.30,440.59 L142.80,440.72 L143.30,440.85 L143.80,440.98 L144.30,441.11 L144.80,441.24 L145.30,441.36 L145.80,441.49 L146.30,441.61 L146.80,441.73 L147.30,441.85 L147.80,441.97 L148.30,442.08 L148.80,442.20 L149.30,442.31 L149.80,442.42 L150.30,442.54 L150.80,442.65 L151.30,442.76 L151.80,442.86 L152.30,442.97 L152.80,443.08 L153.30,443.18 L153.80,443.28 L154.30,443.39 L154.80,443.49 L155.30,443.59 L155.80,443.69 L156.30,443.79 L156.80,443.88 L157.30,443.98 L157.80,444.08 L158.30,444.17 L158.80,444.26 L159.30,444.36 L159.80,444.45 L160.30,444.54 L160.80,444.63 L161.30,444.72 L161.80,444.81 L162.30,444.89 L162.80,444.98 L163.30,445.07 L163.80,445.15 L164.30,445.24 L164.80,445.32 L165.30,445.40 L165.80,445.49 L166.30,445.57 L166.80,445.65 L167.30,445.73 L167.80,445.81 L168.30,445.89 L168.80,445.96 L169.30,446.04 L169.80,446.12 L170.30,446.19 L170.80,446.27 L171.30,446.35 L171.80,446.42 L172.30,446.49 L172.80,446.57 L173.30,446.64 L173.80,446.71 L174.30,446.78 L174.80,446.85 L175.30,446.92 L175.80,446.99 L176.30,447.06 L176.80,447.13 L177.30,447.20 L177.80,447.27 L178.30,447.33 L178.80,447.40 L179.30,447.47 L179.80,447.53 L180.30,447.60 L180.80,447.66 L181.30,447.73 L181.80,447.79 L182.30,447.85 L182.80,447.92 L183.30,447.98 L183.80,448.04 L184.30,448.10 L184.80,448.16 L185.30,448.22 L185.80,448.28 L186.30,448.34 L186.80,448.40 L187.30,448.46 L187.80,448.52 L188.30,448.58 L188.80,448.64 L189.30,448.69 L189.80,448.75 L190.30,448.81 L190.80,448.86 L191.30,448.92 L191.80,448.98 L192.30,449.03 L192.80,449.09 L193.30,449.14 L193.80,449.19 L194.30,449.25 L194.80,449.30 L195.30,449.36 L195.80,449.41" stroke="#6B6BF0" stroke-width="1.2" fill="none" />
<rect x="87.70" y="360.94" width="6.20" height="5.80" fill="#FF0000" stroke="none" stroke-width="1" />
<rect x="92.70" y="362.77" width="6.20" height="5.80" fill="#FF0000" stroke="none" stroke-width="1" />
<rect x="102.70" y="408.74" width="6.20" height="5.80" fill="#FF0000" stroke="none" stroke-width="1" />
<rect x="117.70" y="425.14" width="6.20" height="5.80" fill="#FF0000" stroke="none" stroke-width="1" />
<rect x="142.70" y="436.07" width="6.20" height="5.80" fill="#FF0000" stroke="none" stroke-width="1" />
<rect x="192.70" y="443.77" width="6.20" height="5.80" fill="#FF0000" stroke="none" stroke-width="1" />
<circle cx="95.80" cy="394.62" r="3.2" fill="#0000D8"/>
<circle cx="120.80" cy="432.90" r="3.2" fill="#0000D8"/>
<circle cx="145.80" cy="440.79" r="3.2" fill="#0000D8"/>
<circle cx="195.80" cy="449.70" r="3.2" fill="#0000D8"/>
<rect x="152.10" y="352.50" width="61.60" height="30.10" fill="#fff" stroke="#1a1a1a" stroke-width="1.1" />
<circle cx="161.6" cy="360" r="3.7" fill="#0000D8"/>
<rect x="158.30" y="371.20" width="6.60" height="6.20" fill="#FF0000" stroke="none" stroke-width="1" />
<text transform="translate(172.00 363.71) scale(0.875 1)" x="0" y="0" font-size="11.2" text-anchor="start" fill="#000" stroke="#000" stroke-width="0.1">FePd</text>
<text transform="translate(172.00 378.01) scale(0.875 1)" x="0" y="0" font-size="11.2" text-anchor="start" fill="#000" stroke="#000" stroke-width="0.1">Gr/FePd</text>
<text x="181.00" y="398.22" font-size="10.1" text-anchor="middle" fill="#000" stroke="#000" stroke-width="0.1" >AP to P</text>
<line x1="288.20" y1="344.40" x2="288.20" y2="456.50" stroke="#D9D9D9" stroke-width="0.9" />
<line x1="312.70" y1="344.40" x2="312.70" y2="456.50" stroke="#D9D9D9" stroke-width="0.9" />
<line x1="337.20" y1="344.40" x2="337.20" y2="456.50" stroke="#D9D9D9" stroke-width="0.9" />
<line x1="361.70" y1="344.40" x2="361.70" y2="456.50" stroke="#D9D9D9" stroke-width="0.9" />
<line x1="386.20" y1="344.40" x2="386.20" y2="456.50" stroke="#D9D9D9" stroke-width="0.9" />
<line x1="410.70" y1="344.40" x2="410.70" y2="456.50" stroke="#D9D9D9" stroke-width="0.9" />
<line x1="263.70" y1="436.40" x2="435.70" y2="436.40" stroke="#D9D9D9" stroke-width="0.9" />
<line x1="263.70" y1="416.30" x2="435.70" y2="416.30" stroke="#D9D9D9" stroke-width="0.9" />
<line x1="263.70" y1="396.20" x2="435.70" y2="396.20" stroke="#D9D9D9" stroke-width="0.9" />
<line x1="263.70" y1="376.10" x2="435.70" y2="376.10" stroke="#D9D9D9" stroke-width="0.9" />
<line x1="263.70" y1="356.00" x2="435.70" y2="356.00" stroke="#D9D9D9" stroke-width="0.9" />
<path d="M263.7,344.4 L435.7,344.4 L435.7,456.5 L263.7,456.5 Z" fill="none" stroke="#767676" stroke-width="1.4"/>
<text x="255.50" y="459.72" font-size="9" text-anchor="end" fill="#000" stroke="#000" stroke-width="0.1" >0</text>
<text x="255.50" y="439.62" font-size="9" text-anchor="end" fill="#000" stroke="#000" stroke-width="0.1" >1</text>
<text x="255.50" y="419.52" font-size="9" text-anchor="end" fill="#000" stroke="#000" stroke-width="0.1" >2</text>
<text x="255.50" y="399.42" font-size="9" text-anchor="end" fill="#000" stroke="#000" stroke-width="0.1" >3</text>
<text x="255.50" y="379.32" font-size="9" text-anchor="end" fill="#000" stroke="#000" stroke-width="0.1" >4</text>
<text x="255.50" y="359.22" font-size="9" text-anchor="end" fill="#000" stroke="#000" stroke-width="0.1" >5</text>
<text x="262.70" y="471.16" font-size="9.1" text-anchor="middle" fill="#000" stroke="#000" stroke-width="0.1" >0.0</text>
<text x="287.20" y="471.16" font-size="9.1" text-anchor="middle" fill="#000" stroke="#000" stroke-width="0.1" >0.5</text>
<text x="311.70" y="471.16" font-size="9.1" text-anchor="middle" fill="#000" stroke="#000" stroke-width="0.1" >1.0</text>
<text x="336.20" y="471.16" font-size="9.1" text-anchor="middle" fill="#000" stroke="#000" stroke-width="0.1" >1.5</text>
<text x="360.70" y="471.16" font-size="9.1" text-anchor="middle" fill="#000" stroke="#000" stroke-width="0.1" >2.0</text>
<text x="385.20" y="471.16" font-size="9.1" text-anchor="middle" fill="#000" stroke="#000" stroke-width="0.1" >2.5</text>
<text x="409.70" y="471.16" font-size="9.1" text-anchor="middle" fill="#000" stroke="#000" stroke-width="0.1" >3.0</text>
<text x="434.20" y="471.16" font-size="9.1" text-anchor="middle" fill="#000" stroke="#000" stroke-width="0.1" >3.5</text>
<text x="351.10" y="483.79" font-size="9.2" text-anchor="middle" fill="#000" stroke="#000" stroke-width="0.1" >Voltage (V)</text>
<text x="243.30" y="402.60" font-size="9.2" text-anchor="middle" fill="#000" stroke="#000" stroke-width="0.1" transform="rotate(-90 243.30 402.60)">Switching time (ns)</text>
<path d="M307.80,382.23 L308.29,384.88 L308.78,387.31 L309.27,389.54 L309.76,391.62 L310.25,393.55 L310.74,395.34 L311.23,397.03 L311.72,398.60 L312.21,400.09 L312.70,401.49 L313.19,402.81 L313.68,404.06 L314.17,405.25 L314.66,406.37 L315.15,407.45 L315.64,408.47 L316.13,409.44 L316.62,410.38 L317.11,411.27 L317.60,412.12 L318.09,412.94 L318.58,413.73 L319.07,414.49 L319.56,415.21 L320.05,415.92 L320.54,416.59 L321.03,417.25 L321.52,417.87 L322.01,418.48 L322.50,419.07 L322.99,419.64 L323.48,420.19 L323.97,420.73 L324.46,421.25 L324.95,421.75 L325.44,422.24 L325.93,422.71 L326.42,423.17 L326.91,423.62 L327.40,424.06 L327.89,424.48 L328.38,424.89 L328.87,425.30 L329.36,425.69 L329.85,426.07 L330.34,426.44 L330.83,426.81 L331.32,427.16 L331.81,427.51 L332.30,427.85 L332.79,428.18 L333.28,428.50 L333.77,428.82 L334.26,429.13 L334.75,429.43 L335.24,429.73 L335.73,430.02 L336.22,430.31 L336.71,430.58 L337.20,430.86 L337.69,431.12 L338.18,431.39 L338.67,431.64 L339.16,431.90 L339.65,432.14 L340.14,432.39 L340.63,432.63 L341.12,432.86 L341.61,433.09 L342.10,433.32 L342.59,433.54 L343.08,433.76 L343.57,433.97 L344.06,434.18 L344.55,434.39 L345.04,434.59 L345.53,434.79 L346.02,434.99 L346.51,435.18 L347.00,435.37 L347.49,435.56 L347.98,435.75 L348.47,435.93 L348.96,436.11 L349.45,436.28 L349.94,436.46 L350.43,436.63 L350.92,436.80 L351.41,436.96 L351.90,437.13 L352.39,437.29 L352.88,437.45 L353.37,437.60 L353.86,437.76 L354.35,437.91 L354.84,438.06 L355.33,438.21 L355.82,438.36 L356.31,438.50 L356.80,438.64 L357.29,438.78 L357.78,438.92 L358.27,439.06 L358.76,439.19 L359.25,439.33 L359.74,439.46 L360.23,439.59 L360.72,439.72 L361.21,439.85 L361.70,439.97 L362.19,440.10 L362.68,440.22 L363.17,440.34 L363.66,440.46 L364.15,440.58 L364.64,440.69 L365.13,440.81 L365.62,440.92 L366.11,441.04 L366.60,441.15 L367.09,441.26 L367.58,441.37 L368.07,441.47 L368.56,441.58 L369.05,441.69 L369.54,441.79 L370.03,441.89 L370.52,442.00 L371.01,442.10 L371.50,442.20 L371.99,442.30 L372.48,442.39 L372.97,442.49 L373.46,442.59 L373.95,442.68 L374.44,442.78 L374.93,442.87 L375.42,442.96 L375.91,443.05 L376.40,443.14 L376.89,443.23 L377.38,443.32 L377.87,443.41 L378.36,443.50 L378.85,443.58 L379.34,443.67 L379.83,443.75 L380.32,443.83 L380.81,443.92 L381.30,444.00 L381.79,444.08 L382.28,444.16 L382.77,444.24 L383.26,444.32 L383.75,444.40 L384.24,444.48 L384.73,444.55 L385.22,444.63 L385.71,444.71 L386.20,444.78 L386.69,444.85 L387.18,444.93 L387.67,445.00 L388.16,445.07 L388.65,445.15 L389.14,445.22 L389.63,445.29 L390.12,445.36 L390.61,445.43 L391.10,445.50 L391.59,445.56 L392.08,445.63 L392.57,445.70 L393.06,445.77 L393.55,445.83 L394.04,445.90 L394.53,445.96 L395.02,446.03 L395.51,446.09 L396.00,446.15 L396.49,446.22 L396.98,446.28 L397.47,446.34 L397.96,446.40 L398.45,446.46 L398.94,446.52 L399.43,446.58 L399.92,446.64 L400.41,446.70 L400.90,446.76 L401.39,446.82 L401.88,446.88 L402.37,446.94 L402.86,446.99 L403.35,447.05 L403.84,447.11 L404.33,447.16 L404.82,447.22 L405.31,447.27 L405.80,447.33 L406.29,447.38 L406.78,447.44 L407.27,447.49 L407.76,447.54 L408.25,447.59 L408.74,447.65 L409.23,447.70 L409.72,447.75 L410.21,447.80 L410.70,447.85" stroke="#6B6BF0" stroke-width="1.2" fill="none" />
<path d="M312.70,381.28 L313.19,382.99 L313.68,384.65 L314.17,386.25 L314.66,387.80 L315.15,389.31 L315.64,390.76 L316.13,392.17 L316.62,393.54 L317.11,394.86 L317.60,396.15 L318.09,397.39 L318.58,398.60 L319.07,399.77 L319.56,400.90 L320.05,402.00 L320.54,403.07 L321.03,404.11 L321.52,405.11 L322.01,406.09 L322.50,407.04 L322.99,407.96 L323.48,408.85 L323.97,409.72 L324.46,410.56 L324.95,411.38 L325.44,412.18 L325.93,412.95 L326.42,413.70 L326.91,414.43 L327.40,415.14 L327.89,415.83 L328.38,416.51 L328.87,417.16 L329.36,417.80 L329.85,418.41 L330.34,419.02 L330.83,419.60 L331.32,420.17 L331.81,420.73 L332.30,421.27 L332.79,421.79 L333.28,422.30 L333.77,422.80 L334.26,423.29 L334.75,423.76 L335.24,424.22 L335.73,424.67 L336.22,425.11 L336.71,425.53 L337.20,425.95 L337.69,426.35 L338.18,426.75 L338.67,427.13 L339.16,427.51 L339.65,427.87 L340.14,428.23 L340.63,428.58 L341.12,428.92 L341.61,429.25 L342.10,429.57 L342.59,429.89 L343.08,430.19 L343.57,430.49 L344.06,430.79 L344.55,431.07 L345.04,431.35 L345.53,431.63 L346.02,431.89 L346.51,432.15 L347.00,432.41 L347.49,432.65 L347.98,432.90 L348.47,433.13 L348.96,433.37 L349.45,433.59 L349.94,433.81 L350.43,434.03 L350.92,434.24 L351.41,434.45 L351.90,434.65 L352.39,434.84 L352.88,435.04 L353.37,435.23 L353.86,435.41 L354.35,435.59 L354.84,435.77 L355.33,435.94 L355.82,436.11 L356.31,436.27 L356.80,436.43 L357.29,436.59 L357.78,436.75 L358.27,436.90 L358.76,437.05 L359.25,437.19 L359.74,437.33 L360.23,437.47 L360.72,437.61 L361.21,437.74 L361.70,437.87 L362.19,438.00 L362.68,438.12 L363.17,438.25 L363.66,438.37 L364.15,438.48 L364.64,438.60 L365.13,438.71 L365.62,438.82 L366.11,438.93 L366.60,439.04 L367.09,439.14 L367.58,439.24 L368.07,439.34 L368.56,439.44 L369.05,439.54 L369.54,439.63 L370.03,439.72 L370.52,439.81 L371.01,439.90 L371.50,439.99 L371.99,440.07 L372.48,440.16 L372.97,440.24 L373.46,440.32 L373.95,440.40 L374.44,440.48 L374.93,440.55 L375.42,440.63 L375.91,440.70 L376.40,440.77 L376.89,440.84 L377.38,440.91 L377.87,440.98 L378.36,441.05 L378.85,441.11 L379.34,441.17 L379.83,441.24 L380.32,441.30 L380.81,441.36 L381.30,441.42 L381.79,441.48 L382.28,441.53 L382.77,441.59 L383.26,441.65 L383.75,441.70 L384.24,441.75 L384.73,441.81 L385.22,441.86 L385.71,441.91 L386.20,441.96 L386.69,442.01 L387.18,442.05 L387.67,442.10 L388.16,442.15 L388.65,442.19 L389.14,442.24 L389.63,442.28 L390.12,442.33 L390.61,442.37 L391.10,442.41 L391.59,442.45 L392.08,442.49 L392.57,442.53 L393.06,442.57 L393.55,442.61 L394.04,442.64 L394.53,442.68 L395.02,442.72 L395.51,442.75 L396.00,442.79 L396.49,442.82 L396.98,442.86 L397.47,442.89 L397.96,442.92 L398.45,442.96 L398.94,442.99 L399.43,443.02 L399.92,443.05 L400.41,443.08 L400.90,443.11 L401.39,443.14 L401.88,443.17 L402.37,443.20 L402.86,443.22 L403.35,443.25 L403.84,443.28 L404.33,443.31 L404.82,443.33 L405.31,443.36 L405.80,443.38 L406.29,443.41 L406.78,443.43 L407.27,443.46 L407.76,443.48 L408.25,443.50 L408.74,443.53 L409.23,443.55 L409.72,443.57 L410.21,443.59 L410.70,443.62" stroke="#FF6666" stroke-width="1.2" fill="none" />
<circle cx="307.80" cy="382.13" r="3.2" fill="#0000D8"/>
<circle cx="312.70" cy="401.83" r="3.2" fill="#0000D8"/>
<circle cx="337.20" cy="429.57" r="3.2" fill="#0000D8"/>
<circle cx="361.70" cy="441.63" r="3.2" fill="#0000D8"/>
<circle cx="410.70" cy="447.25" r="3.2" fill="#0000D8"/>
<rect x="309.60" y="378.43" width="6.20" height="5.80" fill="#FF0000" stroke="none" stroke-width="1" />
<rect x="334.10" y="422.65" width="6.20" height="5.80" fill="#FF0000" stroke="none" stroke-width="1" />
<rect x="358.60" y="435.71" width="6.20" height="5.80" fill="#FF0000" stroke="none" stroke-width="1" />
<rect x="407.60" y="440.33" width="6.20" height="5.80" fill="#FF0000" stroke="none" stroke-width="1" />
<rect x="357.30" y="352.00" width="61.40" height="30.20" fill="#fff" stroke="#1a1a1a" stroke-width="1.1" />
<circle cx="365.4" cy="359.8" r="3.7" fill="#0000D8"/>
<rect x="362.10" y="371.10" width="6.60" height="6.20" fill="#FF0000" stroke="none" stroke-width="1" />
<text transform="translate(375.60 363.51) scale(0.875 1)" x="0" y="0" font-size="11.2" text-anchor="start" fill="#000" stroke="#000" stroke-width="0.1">FePd</text>
<text transform="translate(375.60 377.91) scale(0.875 1)" x="0" y="0" font-size="11.2" text-anchor="start" fill="#000" stroke="#000" stroke-width="0.1">Gr/FePd</text>
<text x="390.00" y="393.62" font-size="10.1" text-anchor="middle" fill="#000" stroke="#000" stroke-width="0.1" >P to AP</text>
<text x="8.80" y="531.54" font-size="11" text-anchor="middle" fill="#000" stroke="#000" stroke-width="0.1" >(d)</text>
<path d="M107.50000000000001,510.3 L107.50000000000001,532.2 A23.3,9.2 0 0 0 154.10000000000002,532.2 L154.10000000000002,510.3 Z" stroke="none" stroke-width="0" fill="#CDA838" />
<ellipse cx="130.8" cy="510.3" rx="23.3" ry="11.3" fill="#EDBF73"/>
<line x1="154.50" y1="512.50" x2="180.20" y2="512.50" stroke="#000" stroke-width="1.3" />
<line x1="154.50" y1="534.50" x2="180.20" y2="534.50" stroke="#000" stroke-width="1.3" />
<line x1="167.60" y1="491.30" x2="167.60" y2="510.80" stroke="#000" stroke-width="1.25" />
<path d="M164.29999999999998,507.2 L167.6,511.8 L170.9,507.2" stroke="#000" stroke-width="1.25" fill="none" />
<line x1="167.60" y1="536.50" x2="167.60" y2="555.50" stroke="#000" stroke-width="1.25" />
<path d="M164.3,540.6 L167.6,536 L170.9,540.6" stroke="#000" stroke-width="1.25" fill="none" />
<text x="166.4" y="528.8" font-size="12.4" text-anchor="start"><tspan font-style="italic">t</tspan> = 3 nm</text>
<line x1="107.80" y1="539.30" x2="107.80" y2="560.30" stroke="#000" stroke-width="1.35" />
<line x1="155.20" y1="539.30" x2="155.20" y2="560.30" stroke="#000" stroke-width="1.35" />
<line x1="108.50" y1="553.80" x2="154.50" y2="553.80" stroke="#000" stroke-width="1.35" />
<path d="M112.5,550.3 L108.5,553.8 L112.5,557.3" stroke="#000" stroke-width="1.35" fill="none" />
<path d="M150.5,550.3 L154.5,553.8 L150.5,557.3" stroke="#000" stroke-width="1.35" fill="none" />
<text x="131.30" y="569.90" font-size="12" text-anchor="middle" fill="#000" stroke="#000" stroke-width="0.1" >7 nm</text>
<path d="M320.0,510.2 L320.0,532.0 A23.6,9.4 0 0 0 367.20000000000005,532.0 L367.20000000000005,510.2 Z" stroke="none" stroke-width="0" fill="#CDA838" />
<ellipse cx="343.6" cy="510.2" rx="23.6" ry="11.0" fill="#EDBF73"/>
<clipPath id="clipD"><ellipse cx="343.6" cy="508.03999999999996" rx="25.400000000000002" ry="12.8"/></clipPath>
<clipPath id="clipDb"><rect x="310.0" y="479.2" width="67.2" height="37.80000000000001"/></clipPath><g clip-path="url(#clipDb)">
<g clip-path="url(#clipD)"><path d="M235.40,476.80 L235.40,480.40 M235.40,476.80 L243.60,475.00 M243.60,475.00 L251.80,476.80 M251.80,476.80 L251.80,480.40 M251.80,476.80 L260.00,475.00 M260.00,475.00 L268.20,476.80 M268.20,476.80 L268.20,480.40 M268.20,476.80 L276.40,475.00 M276.40,475.00 L284.60,476.80 M284.60,476.80 L284.60,480.40 M284.60,476.80 L292.80,475.00 M292.80,475.00 L301.00,476.80 M301.00,476.80 L301.00,480.40 M301.00,476.80 L309.20,475.00 M309.20,475.00 L317.40,476.80 M317.40,476.80 L317.40,480.40 M317.40,476.80 L325.60,475.00 M325.60,475.00 L333.80,476.80 M333.80,476.80 L333.80,480.40 M333.80,476.80 L342.00,475.00 M342.00,475.00 L350.20,476.80 M350.20,476.80 L350.20,480.40 M350.20,476.80 L358.40,475.00 M358.40,475.00 L366.60,476.80 M366.60,476.80 L366.60,480.40 M366.60,476.80 L374.80,475.00 M374.80,475.00 L383.00,476.80 M383.00,476.80 L383.00,480.40 M383.00,476.80 L391.20,475.00 M391.20,475.00 L399.40,476.80 M399.40,476.80 L399.40,480.40 M399.40,476.80 L407.60,475.00 M407.60,475.00 L415.80,476.80 M415.80,476.80 L415.80,480.40 M415.80,476.80 L424.00,475.00 M424.00,475.00 L432.20,476.80 M432.20,476.80 L432.20,480.40 M432.20,476.80 L440.40,475.00 M440.40,475.00 L448.60,476.80 M244.90,482.20 L244.90,485.80 M244.90,482.20 L253.10,480.40 M253.10,480.40 L261.30,482.20 M261.30,482.20 L261.30,485.80 M261.30,482.20 L269.50,480.40 M269.50,480.40 L277.70,482.20 M277.70,482.20 L277.70,485.80 M277.70,482.20 L285.90,480.40 M285.90,480.40 L294.10,482.20 M294.10,482.20 L294.10,485.80 M294.10,482.20 L302.30,480.40 M302.30,480.40 L310.50,482.20 M310.50,482.20 L310.50,485.80 M310.50,482.20 L318.70,480.40 M318.70,480.40 L326.90,482.20 M326.90,482.20 L326.90,485.80 M326.90,482.20 L335.10,480.40 M335.10,480.40 L343.30,482.20 M343.30,482.20 L343.30,485.80 M343.30,482.20 L351.50,480.40 M351.50,480.40 L359.70,482.20 M359.70,482.20 L359.70,485.80 M359.70,482.20 L367.90,480.40 M367.90,480.40 L376.10,482.20 M376.10,482.20 L376.10,485.80 M376.10,482.20 L384.30,480.40 M384.30,480.40 L392.50,482.20 M392.50,482.20 L392.50,485.80 M392.50,482.20 L400.70,480.40 M400.70,480.40 L408.90,482.20 M408.90,482.20 L408.90,485.80 M408.90,482.20 L417.10,480.40 M417.10,480.40 L425.30,482.20 M425.30,482.20 L425.30,485.80 M425.30,482.20 L433.50,480.40 M433.50,480.40 L441.70,482.20 M441.70,482.20 L441.70,485.80 M441.70,482.20 L449.90,480.40 M449.90,480.40 L458.10,482.20 M238.00,487.60 L238.00,491.20 M238.00,487.60 L246.20,485.80 M246.20,485.80 L254.40,487.60 M254.40,487.60 L254.40,491.20 M254.40,487.60 L262.60,485.80 M262.60,485.80 L270.80,487.60 M270.80,487.60 L270.80,491.20 M270.80,487.60 L279.00,485.80 M279.00,485.80 L287.20,487.60 M287.20,487.60 L287.20,491.20 M287.20,487.60 L295.40,485.80 M295.40,485.80 L303.60,487.60 M303.60,487.60 L303.60,491.20 M303.60,487.60 L311.80,485.80 M311.80,485.80 L320.00,487.60 M320.00,487.60 L320.00,491.20 M320.00,487.60 L328.20,485.80 M328.20,485.80 L336.40,487.60 M336.40,487.60 L336.40,491.20 M336.40,487.60 L344.60,485.80 M344.60,485.80 L352.80,487.60 M352.80,487.60 L352.80,491.20 M352.80,487.60 L361.00,485.80 M361.00,485.80 L369.20,487.60 M369.20,487.60 L369.20,491.20 M369.20,487.60 L377.40,485.80 M377.40,485.80 L385.60,487.60 M385.60,487.60 L385.60,491.20 M385.60,487.60 L393.80,485.80 M393.80,485.80 L402.00,487.60 M402.00,487.60 L402.00,491.20 M402.00,487.60 L410.20,485.80 M410.20,485.80 L418.40,487.60 M418.40,487.60 L418.40,491.20 M418.40,487.60 L426.60,485.80 M426.60,485.80 L434.80,487.60 M434.80,487.60 L434.80,491.20 M434.80,487.60 L443.00,485.80 M443.00,485.80 L451.20,487.60 M247.50,493.00 L247.50,496.60 M247.50,493.00 L255.70,491.20 M255.70,491.20 L263.90,493.00 M263.90,493.00 L263.90,496.60 M263.90,493.00 L272.10,491.20 M272.10,491.20 L280.30,493.00 M280.30,493.00 L280.30,496.60 M280.30,493.00 L288.50,491.20 M288.50,491.20 L296.70,493.00 M296.70,493.00 L296.70,496.60 M296.70,493.00 L304.90,491.20 M304.90,491.20 L313.10,493.00 M313.10,493.00 L313.10,496.60 M313.10,493.00 L321.30,491.20 M321.30,491.20 L329.50,493.00 M329.50,493.00 L329.50,496.60 M329.50,493.00 L337.70,491.20 M337.70,491.20 L345.90,493.00 M345.90,493.00 L345.90,496.60 M345.90,493.00 L354.10,491.20 M354.10,491.20 L362.30,493.00 M362.30,493.00 L362.30,496.60 M362.30,493.00 L370.50,491.20 M370.50,491.20 L378.70,493.00 M378.70,493.00 L378.70,496.60 M378.70,493.00 L386.90,491.20 M386.90,491.20 L395.10,493.00 M395.10,493.00 L395.10,496.60 M395.10,493.00 L403.30,491.20 M403.30,491.20 L411.50,493.00 M411.50,493.00 L411.50,496.60 M411.50,493.00 L419.70,491.20 M419.70,491.20 L427.90,493.00 M427.90,493.00 L427.90,496.60 M427.90,493.00 L436.10,491.20 M436.10,491.20 L444.30,493.00 M444.30,493.00 L444.30,496.60 M444.30,493.00 L452.50,491.20 M452.50,491.20 L460.70,493.00 M240.60,498.40 L240.60,502.00 M240.60,498.40 L248.80,496.60 M248.80,496.60 L257.00,498.40 M257.00,498.40 L257.00,502.00 M257.00,498.40 L265.20,496.60 M265.20,496.60 L273.40,498.40 M273.40,498.40 L273.40,502.00 M273.40,498.40 L281.60,496.60 M281.60,496.60 L289.80,498.40 M289.80,498.40 L289.80,502.00 M289.80,498.40 L298.00,496.60 M298.00,496.60 L306.20,498.40 M306.20,498.40 L306.20,502.00 M306.20,498.40 L314.40,496.60 M314.40,496.60 L322.60,498.40 M322.60,498.40 L322.60,502.00 M322.60,498.40 L330.80,496.60 M330.80,496.60 L339.00,498.40 M339.00,498.40 L339.00,502.00 M339.00,498.40 L347.20,496.60 M347.20,496.60 L355.40,498.40 M355.40,498.40 L355.40,502.00 M355.40,498.40 L363.60,496.60 M363.60,496.60 L371.80,498.40 M371.80,498.40 L371.80,502.00 M371.80,498.40 L380.00,496.60 M380.00,496.60 L388.20,498.40 M388.20,498.40 L388.20,502.00 M388.20,498.40 L396.40,496.60 M396.40,496.60 L404.60,498.40 M404.60,498.40 L404.60,502.00 M404.60,498.40 L412.80,496.60 M412.80,496.60 L421.00,498.40 M421.00,498.40 L421.00,502.00 M421.00,498.40 L429.20,496.60 M429.20,496.60 L437.40,498.40 M437.40,498.40 L437.40,502.00 M437.40,498.40 L445.60,496.60 M445.60,496.60 L453.80,498.40 M250.10,503.80 L250.10,507.40 M250.10,503.80 L258.30,502.00 M258.30,502.00 L266.50,503.80 M266.50,503.80 L266.50,507.40 M266.50,503.80 L274.70,502.00 M274.70,502.00 L282.90,503.80 M282.90,503.80 L282.90,507.40 M282.90,503.80 L291.10,502.00 M291.10,502.00 L299.30,503.80 M299.30,503.80 L299.30,507.40 M299.30,503.80 L307.50,502.00 M307.50,502.00 L315.70,503.80 M315.70,503.80 L315.70,507.40 M315.70,503.80 L323.90,502.00 M323.90,502.00 L332.10,503.80 M332.10,503.80 L332.10,507.40 M332.10,503.80 L340.30,502.00 M340.30,502.00 L348.50,503.80 M348.50,503.80 L348.50,507.40 M348.50,503.80 L356.70,502.00 M356.70,502.00 L364.90,503.80 M364.90,503.80 L364.90,507.40 M364.90,503.80 L373.10,502.00 M373.10,502.00 L381.30,503.80 M381.30,503.80 L381.30,507.40 M381.30,503.80 L389.50,502.00 M389.50,502.00 L397.70,503.80 M397.70,503.80 L397.70,507.40 M397.70,503.80 L405.90,502.00 M405.90,502.00 L414.10,503.80 M414.10,503.80 L414.10,507.40 M414.10,503.80 L422.30,502.00 M422.30,502.00 L430.50,503.80 M430.50,503.80 L430.50,507.40 M430.50,503.80 L438.70,502.00 M438.70,502.00 L446.90,503.80 M446.90,503.80 L446.90,507.40 M446.90,503.80 L455.10,502.00 M455.10,502.00 L463.30,503.80 M243.20,509.20 L243.20,512.80 M243.20,509.20 L251.40,507.40 M251.40,507.40 L259.60,509.20 M259.60,509.20 L259.60,512.80 M259.60,509.20 L267.80,507.40 M267.80,507.40 L276.00,509.20 M276.00,509.20 L276.00,512.80 M276.00,509.20 L284.20,507.40 M284.20,507.40 L292.40,509.20 M292.40,509.20 L292.40,512.80 M292.40,509.20 L300.60,507.40 M300.60,507.40 L308.80,509.20 M308.80,509.20 L308.80,512.80 M308.80,509.20 L317.00,507.40 M317.00,507.40 L325.20,509.20 M325.20,509.20 L325.20,512.80 M325.20,509.20 L333.40,507.40 M333.40,507.40 L341.60,509.20 M341.60,509.20 L341.60,512.80 M341.60,509.20 L349.80,507.40 M349.80,507.40 L358.00,509.20 M358.00,509.20 L358.00,512.80 M358.00,509.20 L366.20,507.40 M366.20,507.40 L374.40,509.20 M374.40,509.20 L374.40,512.80 M374.40,509.20 L382.60,507.40 M382.60,507.40 L390.80,509.20 M390.80,509.20 L390.80,512.80 M390.80,509.20 L399.00,507.40 M399.00,507.40 L407.20,509.20 M407.20,509.20 L407.20,512.80 M407.20,509.20 L415.40,507.40 M415.40,507.40 L423.60,509.20 M423.60,509.20 L423.60,512.80 M423.60,509.20 L431.80,507.40 M431.80,507.40 L440.00,509.20 M440.00,509.20 L440.00,512.80 M440.00,509.20 L448.20,507.40 M448.20,507.40 L456.40,509.20 M252.70,514.60 L252.70,518.20 M252.70,514.60 L260.90,512.80 M260.90,512.80 L269.10,514.60 M269.10,514.60 L269.10,518.20 M269.10,514.60 L277.30,512.80 M277.30,512.80 L285.50,514.60 M285.50,514.60 L285.50,518.20 M285.50,514.60 L293.70,512.80 M293.70,512.80 L301.90,514.60 M301.90,514.60 L301.90,518.20 M301.90,514.60 L310.10,512.80 M310.10,512.80 L318.30,514.60 M318.30,514.60 L318.30,518.20 M318.30,514.60 L326.50,512.80 M326.50,512.80 L334.70,514.60 M334.70,514.60 L334.70,518.20 M334.70,514.60 L342.90,512.80 M342.90,512.80 L351.10,514.60 M351.10,514.60 L351.10,518.20 M351.10,514.60 L359.30,512.80 M359.30,512.80 L367.50,514.60 M367.50,514.60 L367.50,518.20 M367.50,514.60 L375.70,512.80 M375.70,512.80 L383.90,514.60 M383.90,514.60 L383.90,518.20 M383.90,514.60 L392.10,512.80 M392.10,512.80 L400.30,514.60 M400.30,514.60 L400.30,518.20 M400.30,514.60 L408.50,512.80 M408.50,512.80 L416.70,514.60 M416.70,514.60 L416.70,518.20 M416.70,514.60 L424.90,512.80 M424.90,512.80 L433.10,514.60 M433.10,514.60 L433.10,518.20 M433.10,514.60 L441.30,512.80 M441.30,512.80 L449.50,514.60 M449.50,514.60 L449.50,518.20 M449.50,514.60 L457.70,512.80 M457.70,512.80 L465.90,514.60 M245.80,520.00 L245.80,523.60 M245.80,520.00 L254.00,518.20 M254.00,518.20 L262.20,520.00 M262.20,520.00 L262.20,523.60 M262.20,520.00 L270.40,518.20 M270.40,518.20 L278.60,520.00 M278.60,520.00 L278.60,523.60 M278.60,520.00 L286.80,518.20 M286.80,518.20 L295.00,520.00 M295.00,520.00 L295.00,523.60 M295.00,520.00 L303.20,518.20 M303.20,518.20 L311.40,520.00 M311.40,520.00 L311.40,523.60 M311.40,520.00 L319.60,518.20 M319.60,518.20 L327.80,520.00 M327.80,520.00 L327.80,523.60 M327.80,520.00 L336.00,518.20 M336.00,518.20 L344.20,520.00 M344.20,520.00 L344.20,523.60 M344.20,520.00 L352.40,518.20 M352.40,518.20 L360.60,520.00 M360.60,520.00 L360.60,523.60 M360.60,520.00 L368.80,518.20 M368.80,518.20 L377.00,520.00 M377.00,520.00 L377.00,523.60 M377.00,520.00 L385.20,518.20 M385.20,518.20 L393.40,520.00 M393.40,520.00 L393.40,523.60 M393.40,520.00 L401.60,518.20 M401.60,518.20 L409.80,520.00 M409.80,520.00 L409.80,523.60 M409.80,520.00 L418.00,518.20 M418.00,518.20 L426.20,520.00 M426.20,520.00 L426.20,523.60 M426.20,520.00 L434.40,518.20 M434.40,518.20 L442.60,520.00 M442.60,520.00 L442.60,523.60 M442.60,520.00 L450.80,518.20 M450.80,518.20 L459.00,520.00 M255.30,525.40 L255.30,529.00 M255.30,525.40 L263.50,523.60 M263.50,523.60 L271.70,525.40 M271.70,525.40 L271.70,529.00 M271.70,525.40 L279.90,523.60 M279.90,523.60 L288.10,525.40 M288.10,525.40 L288.10,529.00 M288.10,525.40 L296.30,523.60 M296.30,523.60 L304.50,525.40 M304.50,525.40 L304.50,529.00 M304.50,525.40 L312.70,523.60 M312.70,523.60 L320.90,525.40 M320.90,525.40 L320.90,529.00 M320.90,525.40 L329.10,523.60 M329.10,523.60 L337.30,525.40 M337.30,525.40 L337.30,529.00 M337.30,525.40 L345.50,523.60 M345.50,523.60 L353.70,525.40 M353.70,525.40 L353.70,529.00 M353.70,525.40 L361.90,523.60 M361.90,523.60 L370.10,525.40 M370.10,525.40 L370.10,529.00 M370.10,525.40 L378.30,523.60 M378.30,523.60 L386.50,525.40 M386.50,525.40 L386.50,529.00 M386.50,525.40 L394.70,523.60 M394.70,523.60 L402.90,525.40 M402.90,525.40 L402.90,529.00 M402.90,525.40 L411.10,523.60 M411.10,523.60 L419.30,525.40 M419.30,525.40 L419.30,529.00 M419.30,525.40 L427.50,523.60 M427.50,523.60 L435.70,525.40 M435.70,525.40 L435.70,529.00 M435.70,525.40 L443.90,523.60 M443.90,523.60 L452.10,525.40 M452.10,525.40 L452.10,529.00 M452.10,525.40 L460.30,523.60 M460.30,523.60 L468.50,525.40 M248.40,530.80 L248.40,534.40 M248.40,530.80 L256.60,529.00 M256.60,529.00 L264.80,530.80 M264.80,530.80 L264.80,534.40 M264.80,530.80 L273.00,529.00 M273.00,529.00 L281.20,530.80 M281.20,530.80 L281.20,534.40 M281.20,530.80 L289.40,529.00 M289.40,529.00 L297.60,530.80 M297.60,530.80 L297.60,534.40 M297.60,530.80 L305.80,529.00 M305.80,529.00 L314.00,530.80 M314.00,530.80 L314.00,534.40 M314.00,530.80 L322.20,529.00 M322.20,529.00 L330.40,530.80 M330.40,530.80 L330.40,534.40 M330.40,530.80 L338.60,529.00 M338.60,529.00 L346.80,530.80 M346.80,530.80 L346.80,534.40 M346.80,530.80 L355.00,529.00 M355.00,529.00 L363.20,530.80 M363.20,530.80 L363.20,534.40 M363.20,530.80 L371.40,529.00 M371.40,529.00 L379.60,530.80 M379.60,530.80 L379.60,534.40 M379.60,530.80 L387.80,529.00 M387.80,529.00 L396.00,530.80 M396.00,530.80 L396.00,534.40 M396.00,530.80 L404.20,529.00 M404.20,529.00 L412.40,530.80 M412.40,530.80 L412.40,534.40 M412.40,530.80 L420.60,529.00 M420.60,529.00 L428.80,530.80 M428.80,530.80 L428.80,534.40 M428.80,530.80 L437.00,529.00 M437.00,529.00 L445.20,530.80 M445.20,530.80 L445.20,534.40 M445.20,530.80 L453.40,529.00 M453.40,529.00 L461.60,530.80 M257.90,536.20 L257.90,539.80 M257.90,536.20 L266.10,534.40 M266.10,534.40 L274.30,536.20 M274.30,536.20 L274.30,539.80 M274.30,536.20 L282.50,534.40 M282.50,534.40 L290.70,536.20 M290.70,536.20 L290.70,539.80 M290.70,536.20 L298.90,534.40 M298.90,534.40 L307.10,536.20 M307.10,536.20 L307.10,539.80 M307.10,536.20 L315.30,534.40 M315.30,534.40 L323.50,536.20 M323.50,536.20 L323.50,539.80 M323.50,536.20 L331.70,534.40 M331.70,534.40 L339.90,536.20 M339.90,536.20 L339.90,539.80 M339.90,536.20 L348.10,534.40 M348.10,534.40 L356.30,536.20 M356.30,536.20 L356.30,539.80 M356.30,536.20 L364.50,534.40 M364.50,534.40 L372.70,536.20 M372.70,536.20 L372.70,539.80 M372.70,536.20 L380.90,534.40 M380.90,534.40 L389.10,536.20 M389.10,536.20 L389.10,539.80 M389.10,536.20 L397.30,534.40 M397.30,534.40 L405.50,536.20 M405.50,536.20 L405.50,539.80 M405.50,536.20 L413.70,534.40 M413.70,534.40 L421.90,536.20 M421.90,536.20 L421.90,539.80 M421.90,536.20 L430.10,534.40 M430.10,534.40 L438.30,536.20 M438.30,536.20 L438.30,539.80 M438.30,536.20 L446.50,534.40 M446.50,534.40 L454.70,536.20 M454.70,536.20 L454.70,539.80 M454.70,536.20 L462.90,534.40 M462.90,534.40 L471.10,536.20" stroke="#2f2a20" stroke-width="0.9" fill="none" transform="rotate(5 343.6 510.2)"/></g>
</g>
<line x1="367.30" y1="512.50" x2="392.40" y2="512.50" stroke="#000" stroke-width="1.3" />
<line x1="367.30" y1="535.50" x2="392.40" y2="535.50" stroke="#000" stroke-width="1.3" />
<line x1="379.80" y1="491.30" x2="379.80" y2="510.80" stroke="#000" stroke-width="1.25" />
<path d="M376.5,507.2 L379.8,511.8 L383.1,507.2" stroke="#000" stroke-width="1.25" fill="none" />
<line x1="379.80" y1="537.00" x2="379.80" y2="556.00" stroke="#000" stroke-width="1.25" />
<path d="M376.5,541.1 L379.8,536.5 L383.1,541.1" stroke="#000" stroke-width="1.25" fill="none" />
<text x="378.6" y="528.6" font-size="12.4" text-anchor="start"><tspan font-style="italic">t</tspan> = 3 nm</text>
<line x1="320.30" y1="539.30" x2="320.30" y2="560.30" stroke="#000" stroke-width="1.35" />
<line x1="367.30" y1="539.30" x2="367.30" y2="560.30" stroke="#000" stroke-width="1.35" />
<line x1="321.00" y1="553.80" x2="366.60" y2="553.80" stroke="#000" stroke-width="1.35" />
<path d="M325,550.3 L321,553.8 L325,557.3" stroke="#000" stroke-width="1.35" fill="none" />
<path d="M362.6,550.3 L366.6,553.8 L362.6,557.3" stroke="#000" stroke-width="1.35" fill="none" />
<text x="343.80" y="569.90" font-size="12" text-anchor="middle" fill="#000" stroke="#000" stroke-width="0.1" >7 nm</text>
<line x1="104.20" y1="577.60" x2="104.20" y2="679.40" stroke="#D9D9D9" stroke-width="0.9" />
<line x1="162.00" y1="577.60" x2="162.00" y2="679.40" stroke="#D9D9D9" stroke-width="0.9" />
<line x1="46.20" y1="592.14" x2="219.70" y2="592.14" stroke="#D9D9D9" stroke-width="0.9" />
<line x1="46.20" y1="621.23" x2="219.70" y2="621.23" stroke="#D9D9D9" stroke-width="0.9" />
<line x1="46.20" y1="650.31" x2="219.70" y2="650.31" stroke="#D9D9D9" stroke-width="0.9" />
<path d="M46.2,577.6 L219.7,577.6 L219.7,679.4 L46.2,679.4 Z" fill="none" stroke="#767676" stroke-width="1.4"/>
<rect x="103.60" y="664.20" width="57.30" height="15.20" fill="#7F7F7F" stroke="none" stroke-width="1" />
<text x="132.25" y="674.74" font-size="8.2" text-anchor="middle" fill="#fff" stroke="#fff" stroke-width="0.1" >5 ns pulse</text>
<rect x="54.50" y="580.50" width="15.70" height="10.80" fill="#F8CBAD" stroke="none" stroke-width="1" />
<text x="62.35" y="589.66" font-size="10.5" text-anchor="middle" fill="#000" stroke="#000" stroke-width="0.1" >AP</text>
<rect x="203.00" y="653.80" width="8.70" height="10.70" fill="#F8CBAD" stroke="none" stroke-width="1" />
<text x="207.35" y="662.73" font-size="10" text-anchor="middle" fill="#000" stroke="#000" stroke-width="0.1" >P</text>
<path d="M46.2,596.3 L108.2,596.3 Q110.2,596.3 110.31,598.30 L113.2,650.1 L219.7,650.1" stroke="#2E75C6" stroke-width="1.7" fill="none" />
<path d="M46.2,596.3 L118.8,596.3 Q121.8,596.3 122.02,599.30 L125.7,650.1 L219.7,650.1" stroke="#ED7D31" stroke-width="1.7" fill="none" />
<path d="M46.2,596.3 L142.7,596.3 Q145.7,596.3 145.89,599.30 L149.1,650.1 L219.7,650.1" stroke="#A5A5A5" stroke-width="1.7" fill="none" />
<path d="M46.2,596.3 L219.7,596.3" stroke="#FFC000" stroke-width="1.7" fill="none" />
<rect x="50.50" y="615.00" width="52.80" height="47.40" fill="#fff" stroke="#9A9A9A" stroke-width="1" />
<line x1="57.60" y1="621.60" x2="73.40" y2="621.60" stroke="#2E75C6" stroke-width="1.7" />
<text transform="translate(76.60 624.17) scale(0.9 1)" x="0" y="0" font-size="8.3" text-anchor="start" fill="#000" stroke="#000" stroke-width="0.1">3.0 V</text>
<line x1="57.60" y1="632.90" x2="73.40" y2="632.90" stroke="#ED7D31" stroke-width="1.7" />
<text transform="translate(76.60 635.47) scale(0.9 1)" x="0" y="0" font-size="8.3" text-anchor="start" fill="#000" stroke="#000" stroke-width="0.1">2.0 V</text>
<line x1="57.60" y1="644.80" x2="73.40" y2="644.80" stroke="#A5A5A5" stroke-width="1.7" />
<text transform="translate(76.60 647.37) scale(0.9 1)" x="0" y="0" font-size="8.3" text-anchor="start" fill="#000" stroke="#000" stroke-width="0.1">1.2 V</text>
<line x1="57.60" y1="656.30" x2="73.40" y2="656.30" stroke="#FFC000" stroke-width="1.7" />
<text transform="translate(76.60 658.87) scale(0.9 1)" x="0" y="0" font-size="8.3" text-anchor="start" fill="#000" stroke="#000" stroke-width="0.1">1.0 V</text>
<text x="58.50" y="609.97" font-size="8.3" text-anchor="start"><tspan font-style="italic">L</tspan>1<tspan font-size="5.40" dy="1.83">0</tspan><tspan dy="-1.83">-FePd</tspan></text>
<text x="35.20" y="595.40" font-size="9.1" text-anchor="end" fill="#000" stroke="#000" stroke-width="0.1" >0.6</text>
<text x="35.20" y="624.49" font-size="9.1" text-anchor="end" fill="#000" stroke="#000" stroke-width="0.1" >0.2</text>
<text x="35.20" y="653.57" font-size="9.1" text-anchor="end" fill="#000" stroke="#000" stroke-width="0.1" >-0.2</text>
<text x="35.20" y="682.66" font-size="9.1" text-anchor="end" fill="#000" stroke="#000" stroke-width="0.1" >-0.6</text>
<text x="46.20" y="693.56" font-size="9.1" text-anchor="middle" fill="#000" stroke="#000" stroke-width="0.1" >0.0E+00</text>
<text x="104.03" y="693.56" font-size="9.1" text-anchor="middle" fill="#000" stroke="#000" stroke-width="0.1" >5.0E-09</text>
<text x="161.87" y="693.56" font-size="9.1" text-anchor="middle" fill="#000" stroke="#000" stroke-width="0.1" >1.0E-08</text>
<text x="219.70" y="693.56" font-size="9.1" text-anchor="middle" fill="#000" stroke="#000" stroke-width="0.1" >1.5E-08</text>
<text x="133.00" y="706.02" font-size="9" text-anchor="middle" fill="#000" stroke="#000" stroke-width="0.1" >Time (s)</text>
<text x="16.00" y="628.60" font-size="9.2" text-anchor="middle" fill="#000" stroke="#000" stroke-width="0.1" transform="rotate(-90 16.00 628.60)">Magnetization (T)</text>
<line x1="322.60" y1="577.20" x2="322.60" y2="680.00" stroke="#D9D9D9" stroke-width="0.9" />
<line x1="380.00" y1="577.20" x2="380.00" y2="680.00" stroke="#D9D9D9" stroke-width="0.9" />
<line x1="264.60" y1="591.89" x2="437.50" y2="591.89" stroke="#D9D9D9" stroke-width="0.9" />
<line x1="264.60" y1="621.26" x2="437.50" y2="621.26" stroke="#D9D9D9" stroke-width="0.9" />
<line x1="264.60" y1="650.63" x2="437.50" y2="650.63" stroke="#D9D9D9" stroke-width="0.9" />
<path d="M264.6,577.2 L437.5,577.2 L437.5,680.0 L264.6,680.0 Z" fill="none" stroke="#767676" stroke-width="1.4"/>
<rect x="322.70" y="664.30" width="57.60" height="15.70" fill="#7F7F7F" stroke="none" stroke-width="1" />
<text x="351.50" y="675.09" font-size="8.2" text-anchor="middle" fill="#fff" stroke="#fff" stroke-width="0.1" >5 ns pulse</text>
<rect x="275.50" y="580.00" width="17.00" height="11.40" fill="#F8CBAD" stroke="none" stroke-width="1" />
<text x="284.00" y="589.46" font-size="10.5" text-anchor="middle" fill="#000" stroke="#000" stroke-width="0.1" >AP</text>
<rect x="425.00" y="653.80" width="8.20" height="11.20" fill="#F8CBAD" stroke="none" stroke-width="1" />
<text x="429.10" y="662.98" font-size="10" text-anchor="middle" fill="#000" stroke="#000" stroke-width="0.1" >P</text>
<path d="M264.6,595.8 L326.6,595.8 Q328.6,595.8 328.70,597.80 L331.2,650.3 L437.5,650.3" stroke="#2E75C6" stroke-width="1.7" fill="none" />
<path d="M264.6,595.8 L337.0,595.8 Q340.0,595.8 340.20,598.80 L343.7,650.3 L437.5,650.3" stroke="#ED7D31" stroke-width="1.7" fill="none" />
<path d="M264.6,595.8 L360.8,595.8 Q363.8,595.8 364.00,598.80 L367.5,650.3 L437.5,650.3" stroke="#A5A5A5" stroke-width="1.7" fill="none" />
<path d="M264.6,595.8 L437.5,595.8" stroke="#FFC000" stroke-width="1.7" fill="none" />
<rect x="269.60" y="610.60" width="52.80" height="47.80" fill="#fff" stroke="#9A9A9A" stroke-width="1" />
<line x1="276.20" y1="617.90" x2="292.70" y2="617.90" stroke="#2E75C6" stroke-width="1.7" />
<text transform="translate(295.30 620.47) scale(0.9 1)" x="0" y="0" font-size="8.3" text-anchor="start" fill="#000" stroke="#000" stroke-width="0.1">3.0 V</text>
<line x1="276.20" y1="629.40" x2="292.70" y2="629.40" stroke="#ED7D31" stroke-width="1.7" />
<text transform="translate(295.30 631.97) scale(0.9 1)" x="0" y="0" font-size="8.3" text-anchor="start" fill="#000" stroke="#000" stroke-width="0.1">2.0 V</text>
<line x1="276.20" y1="641.30" x2="292.70" y2="641.30" stroke="#A5A5A5" stroke-width="1.7" />
<text transform="translate(295.30 643.87) scale(0.9 1)" x="0" y="0" font-size="8.3" text-anchor="start" fill="#000" stroke="#000" stroke-width="0.1">1.2 V</text>
<line x1="276.20" y1="652.50" x2="292.70" y2="652.50" stroke="#FFC000" stroke-width="1.7" />
<text transform="translate(295.30 655.07) scale(0.9 1)" x="0" y="0" font-size="8.3" text-anchor="start" fill="#000" stroke="#000" stroke-width="0.1">1.0 V</text>
<text x="271.00" y="607.27" font-size="8.3" text-anchor="start"><tspan font-style="italic">L</tspan>1<tspan font-size="5.40" dy="1.83">0</tspan><tspan dy="-1.83">-FePd/Gr</tspan></text>
<text x="254.00" y="595.14" font-size="9.1" text-anchor="end" fill="#000" stroke="#000" stroke-width="0.1" >0.6</text>
<text x="254.00" y="624.51" font-size="9.1" text-anchor="end" fill="#000" stroke="#000" stroke-width="0.1" >0.2</text>
<text x="254.00" y="653.89" font-size="9.1" text-anchor="end" fill="#000" stroke="#000" stroke-width="0.1" >-0.2</text>
<text x="254.00" y="683.26" font-size="9.1" text-anchor="end" fill="#000" stroke="#000" stroke-width="0.1" >-0.6</text>
<text x="264.60" y="694.46" font-size="9.1" text-anchor="middle" fill="#000" stroke="#000" stroke-width="0.1" >0.0E+00</text>
<text x="322.23" y="694.46" font-size="9.1" text-anchor="middle" fill="#000" stroke="#000" stroke-width="0.1" >5.0E-09</text>
<text x="379.87" y="694.46" font-size="9.1" text-anchor="middle" fill="#000" stroke="#000" stroke-width="0.1" >1.0E-08</text>
<text x="437.50" y="694.46" font-size="9.1" text-anchor="middle" fill="#000" stroke="#000" stroke-width="0.1" >1.5E-08</text>
<text x="350.50" y="706.42" font-size="9" text-anchor="middle" fill="#000" stroke="#000" stroke-width="0.1" >Time (s)</text>
<text x="234.40" y="628.60" font-size="9.2" text-anchor="middle" fill="#000" stroke="#000" stroke-width="0.1" transform="rotate(-90 234.40 628.60)">Magnetization (T)</text>
<text x="8.80" y="713.94" font-size="11" text-anchor="middle" fill="#000" stroke="#000" stroke-width="0.1" >(e)</text>
<line x1="106.37" y1="722.10" x2="106.37" y2="820.20" stroke="#D9D9D9" stroke-width="0.9" />
<line x1="158.43" y1="722.10" x2="158.43" y2="820.20" stroke="#D9D9D9" stroke-width="0.9" />
<line x1="54.30" y1="754.80" x2="210.50" y2="754.80" stroke="#D9D9D9" stroke-width="0.9" />
<line x1="54.30" y1="787.50" x2="210.50" y2="787.50" stroke="#D9D9D9" stroke-width="0.9" />
<path d="M54.3,722.1 L210.5,722.1 L210.5,820.2 L54.3,820.2 Z" fill="none" stroke="#767676" stroke-width="1.4"/>
<rect x="89.50" y="808.80" width="69.70" height="11.40" fill="#7F7F7F" stroke="none" stroke-width="1" />
<text x="124.35" y="817.36" font-size="8.0" text-anchor="middle" fill="#fff" stroke="#fff" stroke-width="0.1" >5 ns pulse</text>
<text x="45.80" y="725.32" font-size="9" text-anchor="end" fill="#000" stroke="#000" stroke-width="0.1" >0.54639</text>
<text x="45.80" y="758.02" font-size="9" text-anchor="end" fill="#000" stroke="#000" stroke-width="0.1" >0.54637</text>
<text x="45.80" y="790.72" font-size="9" text-anchor="end" fill="#000" stroke="#000" stroke-width="0.1" >0.54635</text>
<text x="45.80" y="823.42" font-size="9" text-anchor="end" fill="#000" stroke="#000" stroke-width="0.1" >0.54633</text>
<text x="54.30" y="834.56" font-size="9.1" text-anchor="middle" fill="#000" stroke="#000" stroke-width="0.1" >2.0E-09</text>
<text x="106.37" y="834.56" font-size="9.1" text-anchor="middle" fill="#000" stroke="#000" stroke-width="0.1" >6.0E-09</text>
<text x="158.43" y="834.56" font-size="9.1" text-anchor="middle" fill="#000" stroke="#000" stroke-width="0.1" >1.0E-08</text>
<text x="210.50" y="834.56" font-size="9.1" text-anchor="middle" fill="#000" stroke="#000" stroke-width="0.1" >1.4E-08</text>
<text x="132.60" y="848.09" font-size="9.2" text-anchor="middle" fill="#000" stroke="#000" stroke-width="0.1" >Time (sec)</text>
<text x="9.30" y="769.20" font-size="9.1" text-anchor="middle" fill="#000" stroke="#000" stroke-width="0.1" transform="rotate(-90 9.30 769.20)">Magnetization (T)</text>
<text x="58.90" y="738.45" font-size="11.3" text-anchor="start" fill="#000" stroke="#000" stroke-width="0.1" >1.0 V</text>
<path d="M55.00,747.60 L55.10,747.60 L55.20,747.60 L55.30,747.60 L55.40,747.60 L55.50,747.60 L55.60,747.60 L55.70,747.60 L55.80,747.60 L55.90,747.60 L56.00,747.60 L56.10,747.60 L56.20,747.60 L56.30,747.60 L56.40,747.60 L56.50,747.60 L56.60,747.60 L56.70,747.60 L56.80,747.60 L56.90,747.60 L57.00,747.60 L57.10,747.60 L57.20,747.60 L57.30,747.60 L57.40,747.60 L57.50,747.60 L57.60,747.60 L57.70,747.60 L57.80,747.60 L57.90,747.60 L58.00,747.60 L58.10,747.60 L58.20,747.60 L58.30,747.60 L58.40,747.60 L58.50,747.60 L58.60,747.60 L58.70,747.60 L58.80,747.60 L58.90,747.60 L59.00,747.60 L59.10,747.60 L59.20,747.60 L59.30,747.60 L59.40,747.60 L59.50,747.60 L59.60,747.60 L59.70,747.60 L59.80,747.60 L59.90,747.60 L60.00,747.60 L60.10,747.60 L60.20,747.60 L60.30,747.60 L60.40,747.60 L60.50,747.60 L60.60,747.60 L60.70,747.60 L60.80,747.60 L60.90,747.60 L61.00,747.60 L61.10,747.60 L61.20,747.60 L61.30,747.60 L61.40,747.60 L61.50,747.60 L61.60,747.60 L61.70,747.60 L61.80,747.60 L61.90,747.60 L62.00,747.60 L62.10,747.60 L62.20,747.60 L62.30,747.60 L62.40,747.60 L62.50,747.60 L62.60,747.60 L62.70,747.60 L62.80,747.60 L62.90,747.60 L63.00,747.60 L63.10,747.60 L63.20,747.60 L63.30,747.60 L63.40,747.60 L63.50,747.60 L63.60,747.60 L63.70,747.60 L63.80,747.60 L63.90,747.60 L64.00,747.60 L64.10,747.60 L64.20,747.60 L64.30,747.60 L64.40,747.60 L64.50,747.60 L64.60,747.60 L64.70,747.60 L64.80,747.60 L64.90,747.60 L65.00,747.60 L65.10,747.60 L65.20,747.60 L65.30,747.60 L65.40,747.60 L65.50,747.60 L65.60,747.60 L65.70,747.60 L65.80,747.60 L65.90,747.60 L66.00,747.60 L66.10,747.60 L66.20,747.60 L66.30,747.60 L66.40,747.60 L66.50,747.60 L66.60,747.60 L66.70,747.60 L66.80,747.60 L66.90,747.60 L67.00,747.60 L67.10,747.60 L67.20,747.60 L67.30,747.60 L67.40,747.60 L67.50,747.60 L67.60,747.60 L67.70,747.60 L67.80,747.60 L67.90,747.60 L68.00,747.60 L68.10,747.60 L68.20,747.60 L68.30,747.60 L68.40,747.60 L68.50,747.60 L68.60,747.60 L68.70,747.60 L68.80,747.60 L68.90,747.60 L69.00,747.60 L69.10,747.60 L69.20,747.60 L69.30,747.60 L69.40,747.60 L69.50,747.60 L69.60,747.60 L69.70,747.60 L69.80,747.60 L69.90,747.60 L70.00,747.60 L70.10,747.60 L70.20,747.60 L70.30,747.60 L70.40,747.60 L70.50,747.60 L70.60,747.60 L70.70,747.60 L70.80,747.60 L70.90,747.60 L71.00,747.60 L71.10,747.60 L71.20,747.60 L71.30,747.60 L71.40,747.60 L71.50,747.60 L71.60,747.60 L71.70,747.60 L71.80,747.60 L71.90,747.60 L72.00,747.60 L72.10,747.60 L72.20,747.60 L72.30,747.60 L72.40,747.60 L72.50,747.60 L72.60,747.60 L72.70,747.60 L72.80,747.60 L72.90,747.60 L73.00,747.60 L73.10,747.60 L73.20,747.60 L73.30,747.60 L73.40,747.60 L73.50,747.60 L73.60,747.60 L73.70,747.60 L73.80,747.60 L73.90,747.60 L74.00,747.60 L74.10,747.60 L74.20,747.60 L74.30,747.60 L74.40,747.60 L74.50,747.60 L74.60,747.60 L74.70,747.60 L74.80,747.60 L74.90,747.60 L75.00,747.60 L75.10,747.60 L75.20,747.60 L75.30,747.60 L75.40,747.60 L75.50,747.60 L75.60,747.60 L75.70,747.60 L75.80,747.60 L75.90,747.60 L76.00,747.60 L76.10,747.60 L76.20,747.60 L76.30,747.60 L76.40,747.60 L76.50,747.60 L76.60,747.60 L76.70,747.60 L76.80,747.60 L76.90,747.60 L77.00,747.60 L77.10,747.60 L77.20,747.60 L77.30,747.60 L77.40,747.60 L77.50,747.60 L77.60,747.60 L77.70,747.60 L77.80,747.60 L77.90,747.60 L78.00,747.60 L78.10,747.60 L78.20,747.60 L78.30,747.60 L78.40,747.60 L78.50,747.60 L78.60,747.60 L78.70,747.60 L78.80,747.60 L78.90,747.60 L79.00,747.60 L79.10,747.60 L79.20,747.60 L79.30,747.60 L79.40,747.60 L79.50,747.60 L79.60,747.60 L79.70,747.60 L79.80,747.60 L79.90,747.60 L80.00,747.60 L80.10,747.60 L80.20,747.60 L80.30,747.60 L80.40,747.60 L80.50,747.60 L80.60,747.60 L80.70,747.60 L80.80,747.60 L80.90,747.60 L81.00,747.60 L81.10,747.60 L81.20,747.60 L81.30,747.60 L81.40,747.60 L81.50,747.60 L81.60,747.60 L81.70,747.60 L81.80,747.60 L81.90,747.60 L82.00,747.60 L82.10,747.60 L82.20,747.60 L82.30,747.60 L82.40,747.60 L82.50,747.60 L82.60,747.60 L82.70,747.60 L82.80,747.60 L82.90,747.60 L83.00,747.60 L83.10,747.60 L83.20,747.60 L83.30,747.60 L83.40,747.60 L83.50,747.60 L83.60,747.60 L83.70,747.60 L83.80,747.60 L83.90,747.60 L84.00,747.60 L84.10,747.60 L84.20,747.60 L84.30,747.60 L84.40,747.60 L84.50,747.60 L84.60,747.60 L84.70,747.60 L84.80,747.60 L84.90,747.60 L85.00,747.60 L85.10,747.60 L85.20,747.60 L85.30,747.60 L85.40,747.60 L85.50,747.60 L85.60,747.60 L85.70,747.60 L85.80,747.60 L85.90,747.60 L86.00,747.60 L86.10,747.60 L86.20,747.60 L86.30,747.60 L86.40,747.60 L86.50,747.60 L86.60,747.60 L86.70,747.60 L86.80,747.60 L86.90,747.60 L87.00,747.60 L87.10,747.60 L87.20,747.60 L87.30,747.60 L87.40,747.60 L87.50,747.60 L87.60,747.60 L87.70,747.60 L87.80,747.60 L87.90,747.60 L88.00,747.60 L88.10,747.60 L88.20,747.60 L88.30,747.60 L88.40,747.60 L88.50,747.60 L88.60,747.60 L88.70,747.60 L88.80,747.60 L88.90,747.60 L89.00,747.60 L89.10,747.60 L89.20,747.60 L89.30,747.60 L89.40,747.60 L89.50,747.60 L89.60,747.60 L89.70,747.60 L89.80,747.60 L89.90,747.60 L90.00,747.60 L90.10,747.60 L90.20,747.60 L90.30,747.60 L90.40,747.60 L90.50,747.60 L90.60,747.60 L90.70,747.60 L90.80,747.60 L90.90,747.60 L91.00,747.60 L91.10,747.60 L91.20,747.60 L91.30,747.60 L91.40,747.60 L91.50,747.60 L91.60,747.60 L91.70,747.60 L91.80,747.60 L91.90,747.60 L92.00,747.60 L92.10,747.60 L92.20,747.60 L92.30,747.60 L92.40,747.60 L92.50,747.60 L92.60,747.60 L92.70,747.60 L92.80,747.60 L92.90,747.60 L93.00,747.60 L93.10,747.60 L93.20,747.60 L93.30,747.60 L93.40,747.60 L93.50,747.60 L93.60,747.60 L93.70,747.60 L93.80,747.60 L93.90,747.60 L94.00,747.60 L94.10,747.60 L94.20,747.60 L94.30,747.60 L94.40,747.60 L94.50,747.60 L94.60,747.60 L94.70,747.60 L94.80,747.60 L94.90,747.60 L95.00,747.60 L95.10,747.60 L95.20,747.60 L95.30,747.60 L95.40,747.60 L95.50,747.60 L95.60,747.60 L95.70,747.60 L95.80,747.60 L95.90,747.60 L96.00,747.60 L96.10,747.60 L96.20,747.60 L96.30,747.60 L96.40,747.60 L96.50,747.60 L96.60,747.60 L96.70,747.60 L96.80,747.60 L96.90,747.60 L97.00,747.60 L97.10,747.60 L97.20,747.60 L97.30,747.60 L97.40,747.60 L97.50,747.60 L97.60,747.60 L97.70,747.60 L97.80,747.60 L97.90,747.60 L98.00,747.60 L98.10,747.60 L98.20,747.60 L98.30,747.60 L98.40,747.60 L98.50,747.60 L98.60,747.60 L98.70,747.60 L98.80,747.60 L98.90,747.60 L99.00,747.60 L99.10,747.60 L99.20,747.60 L99.30,747.60 L99.40,747.60 L99.50,747.60 L99.60,747.60 L99.70,747.60 L99.80,747.60 L99.90,747.60 L100.00,747.60 L100.10,747.60 L100.20,747.60 L100.30,747.60 L100.40,747.60 L100.50,747.60 L100.60,747.60 L100.70,747.60 L100.80,747.60 L100.90,747.60 L101.00,747.60 L101.10,747.60 L101.20,747.60 L101.30,747.60 L101.40,747.60 L101.50,747.60 L101.60,747.60 L101.70,747.60 L101.80,747.60 L101.90,747.60 L102.00,747.60 L102.10,747.60 L102.20,747.60 L102.30,747.60 L102.40,747.60 L102.50,747.60 L102.60,747.60 L102.70,747.60 L102.80,747.60 L102.90,747.60 L103.00,747.60 L103.10,747.60 L103.20,747.60 L103.30,747.60 L103.40,747.60 L103.50,747.60 L103.60,747.60 L103.70,747.60 L103.80,747.60 L103.90,747.60 L104.00,747.60 L104.10,747.60 L104.20,747.60 L104.30,747.60 L104.40,747.60 L104.50,747.60 L104.60,747.60 L104.70,747.60 L104.80,747.60 L104.90,747.60 L105.00,747.60 L105.10,747.60 L105.20,747.60 L105.30,747.60 L105.40,747.60 L105.50,747.60 L105.60,747.60 L105.70,747.60 L105.80,747.60 L105.90,747.60 L106.00,747.60 L106.10,747.60 L106.20,747.60 L106.30,747.60 L106.40,747.60 L106.50,747.60 L106.60,747.60 L106.70,747.60 L106.80,747.60 L106.90,747.60 L107.00,747.60 L107.10,747.60 L107.20,747.60 L107.30,747.60 L107.40,747.60 L107.50,747.60 L107.60,747.60 L107.70,747.60 L107.80,747.60 L107.90,747.60 L108.00,747.60 L108.10,747.60 L108.20,747.60 L108.30,747.60 L108.40,747.60 L108.50,747.60 L108.60,747.60 L108.70,747.60 L108.80,747.60 L108.90,747.60 L109.00,747.60 L109.10,747.60 L109.20,747.60 L109.30,747.60 L109.40,747.60 L109.50,747.60 L109.60,747.60 L109.70,747.60 L109.80,747.60 L109.90,747.60 L110.00,747.60 L110.10,747.60 L110.20,747.60 L110.30,747.60 L110.40,747.60 L110.50,747.60 L110.60,747.60 L110.70,747.60 L110.80,747.60 L110.90,747.60 L111.00,747.60 L111.10,747.60 L111.20,747.60 L111.30,747.60 L111.40,747.60 L111.50,747.60 L111.60,747.60 L111.70,747.60 L111.80,747.60 L111.90,747.60 L112.00,747.60 L112.10,747.60 L112.20,747.60 L112.30,747.60 L112.40,747.60 L112.50,747.60 L112.60,747.60 L112.70,747.60 L112.80,747.60 L112.90,747.60 L113.00,747.60 L113.10,747.60 L113.20,747.60 L113.30,747.60 L113.40,747.60 L113.50,747.60 L113.60,747.60 L113.70,747.60 L113.80,747.60 L113.90,747.60 L114.00,747.60 L114.10,747.60 L114.20,747.60 L114.30,747.60 L114.40,747.60 L114.50,747.60 L114.60,747.60 L114.70,747.60 L114.80,747.60 L114.90,747.60 L115.00,747.60 L115.10,747.60 L115.20,747.60 L115.30,747.60 L115.40,747.60 L115.50,747.60 L115.60,747.60 L115.70,747.60 L115.80,747.60 L115.90,747.60 L116.00,747.60 L116.10,747.60 L116.20,747.60 L116.30,747.60 L116.40,747.60 L116.50,747.60 L116.60,747.60 L116.70,747.60 L116.80,747.60 L116.90,747.60 L117.00,747.60 L117.10,747.60 L117.20,747.60 L117.30,747.60 L117.40,747.60 L117.50,747.60 L117.60,747.60 L117.70,747.60 L117.80,747.60 L117.90,747.60 L118.00,747.60 L118.10,747.60 L118.20,747.60 L118.30,747.60 L118.40,747.60 L118.50,747.60 L118.60,747.60 L118.70,747.60 L118.80,747.60 L118.90,747.60 L119.00,747.60 L119.10,747.60 L119.20,747.60 L119.30,747.60 L119.40,747.60 L119.50,747.60 L119.60,747.60 L119.70,747.60 L119.80,747.60 L119.90,747.60 L120.00,747.60 L120.10,747.60 L120.20,747.60 L120.30,747.60 L120.40,747.60 L120.50,747.60 L120.60,747.60 L120.70,747.60 L120.80,747.60 L120.90,747.60 L121.00,747.60 L121.10,747.60 L121.20,747.60 L121.30,747.60 L121.40,747.60 L121.50,747.60 L121.60,747.60 L121.70,747.60 L121.80,747.60 L121.90,747.60 L122.00,747.60 L122.10,747.60 L122.20,747.60 L122.30,747.60 L122.40,747.60 L122.50,747.60 L122.60,747.60 L122.70,747.60 L122.80,747.60 L122.90,747.60 L123.00,747.60 L123.10,747.60 L123.20,747.60 L123.30,747.60 L123.40,747.60 L123.50,747.60 L123.60,747.60 L123.70,747.60 L123.80,747.60 L123.90,747.60 L124.00,747.60 L124.10,747.60 L124.20,747.60 L124.30,747.60 L124.40,747.60 L124.50,747.60 L124.60,747.60 L124.70,747.60 L124.80,747.60 L124.90,747.60 L125.00,747.60 L125.10,747.60 L125.20,747.60 L125.30,747.60 L125.40,747.60 L125.50,747.60 L125.60,747.60 L125.70,747.60 L125.80,747.60 L125.90,747.60 L126.00,747.60 L126.10,747.60 L126.20,747.60 L126.30,747.60 L126.40,747.60 L126.50,747.60 L126.60,747.60 L126.70,747.60 L126.80,747.60 L126.90,747.60 L127.00,747.60 L127.10,747.60 L127.20,747.60 L127.30,747.60 L127.40,747.60 L127.50,747.60 L127.60,747.60 L127.70,747.60 L127.80,747.60 L127.90,747.60 L128.00,747.60 L128.10,747.60 L128.20,747.60 L128.30,747.60 L128.40,747.60 L128.50,747.60 L128.60,747.60 L128.70,747.60 L128.80,747.60 L128.90,747.60 L129.00,747.60 L129.10,747.60 L129.20,747.60 L129.30,747.60 L129.40,747.60 L129.50,747.60 L129.60,747.60 L129.70,747.60 L129.80,747.60 L129.90,747.60 L130.00,747.60 L130.10,747.60 L130.20,747.60 L130.30,747.60 L130.40,747.60 L130.50,747.60 L130.60,747.60 L130.70,747.60 L130.80,747.60 L130.90,747.60 L131.00,747.60 L131.10,747.60 L131.20,747.60 L131.30,747.60 L131.40,747.60 L131.50,747.60 L131.60,747.60 L131.70,747.60 L131.80,747.60 L131.90,747.60 L132.00,747.60 L132.10,747.60 L132.20,747.60 L132.30,747.60 L132.40,747.60 L132.50,747.60 L132.60,747.60 L132.70,747.60 L132.80,747.60 L132.90,747.60 L133.00,747.60 L133.10,747.60 L133.20,747.60 L133.30,747.60 L133.40,747.60 L133.50,747.60 L133.60,747.60 L133.70,747.60 L133.80,747.60 L133.90,747.60 L134.00,747.60 L134.10,747.60 L134.20,747.60 L134.30,747.60 L134.40,747.60 L134.50,747.60 L134.60,747.60 L134.70,747.60 L134.80,747.60 L134.90,747.60 L135.00,747.60 L135.10,747.60 L135.20,747.60 L135.30,747.60 L135.40,747.60 L135.50,747.60 L135.60,747.60 L135.70,747.60 L135.80,747.60 L135.90,747.60 L136.00,747.60 L136.10,747.60 L136.20,747.60 L136.30,747.60 L136.40,747.60 L136.50,747.60 L136.60,747.60 L136.70,747.60 L136.80,747.60 L136.90,747.60 L137.00,747.60 L137.10,747.60 L137.20,747.60 L137.30,747.60 L137.40,747.60 L137.50,747.60 L137.60,747.60 L137.70,747.60 L137.80,747.60 L137.90,747.60 L138.00,747.60 L138.10,747.60 L138.20,747.60 L138.30,747.60 L138.40,747.60 L138.50,747.60 L138.60,747.60 L138.70,747.60 L138.80,747.60 L138.90,747.60 L139.00,747.60 L139.10,747.60 L139.20,747.60 L139.30,747.60 L139.40,747.60 L139.50,747.60 L139.60,747.60 L139.70,747.60 L139.80,747.60 L139.90,747.60 L140.00,747.60 L140.10,747.60 L140.20,747.60 L140.30,747.60 L140.40,747.60 L140.50,747.60 L140.60,747.60 L140.70,747.60 L140.80,747.60 L140.90,747.60 L141.00,747.60 L141.10,747.60 L141.20,747.60 L141.30,747.60 L141.40,747.60 L141.50,747.60 L141.60,747.60 L141.70,747.60 L141.80,747.60 L141.90,747.60 L142.00,747.60 L142.10,747.60 L142.20,747.60 L142.30,747.60 L142.40,747.61 L142.50,747.61 L142.60,747.61 L142.70,747.61 L142.80,747.61 L142.90,747.61 L143.00,747.61 L143.10,747.61 L143.20,747.61 L143.30,747.61 L143.40,747.61 L143.50,747.61 L143.60,747.61 L143.70,747.61 L143.80,747.61 L143.90,747.61 L144.00,747.61 L144.10,747.61 L144.20,747.62 L144.30,747.62 L144.40,747.62 L144.50,747.62 L144.60,747.62 L144.70,747.62 L144.80,747.62 L144.90,747.62 L145.00,747.62 L145.10,747.63 L145.20,747.63 L145.30,747.63 L145.40,747.63 L145.50,747.63 L145.60,747.64 L145.70,747.64 L145.80,747.64 L145.90,747.64 L146.00,747.64 L146.10,747.65 L146.20,747.65 L146.30,747.65 L146.40,747.66 L146.50,747.66 L146.60,747.66 L146.70,747.67 L146.80,747.67 L146.90,747.68 L147.00,747.68 L147.10,747.69 L147.20,747.69 L147.30,747.70 L147.40,747.70 L147.50,747.71 L147.60,747.71 L147.70,747.72 L147.80,747.73 L147.90,747.74 L148.00,747.74 L148.10,747.75 L148.20,747.76 L148.30,747.77 L148.40,747.78 L148.50,747.79 L148.60,747.81 L148.70,747.82 L148.80,747.83 L148.90,747.84 L149.00,747.86 L149.10,747.87 L149.20,747.89 L149.30,747.91 L149.40,747.93 L149.50,747.95 L149.60,747.97 L149.70,747.99 L149.80,748.01 L149.90,748.03 L150.00,748.06 L150.10,748.09 L150.20,748.12 L150.30,748.15 L150.40,748.18 L150.50,748.21 L150.60,748.25 L150.70,748.29 L150.80,748.33 L150.90,748.37 L151.00,748.42 L151.10,748.46 L151.20,748.51 L151.30,748.57 L151.40,748.62 L151.50,748.68 L151.60,748.75 L151.70,748.81 L151.80,748.88 L151.90,748.96 L152.00,749.04 L152.10,749.12 L152.20,749.21 L152.30,749.30 L152.40,749.40 L152.50,749.51 L152.60,749.62 L152.70,749.73 L152.80,749.85 L152.90,749.98 L153.00,750.12 L153.10,750.27 L153.20,750.42 L153.30,750.58 L153.40,750.75 L153.50,750.93 L153.60,751.12 L153.70,751.32 L153.80,751.53 L153.90,751.75 L154.00,751.99 L154.10,752.24 L154.20,752.50 L154.30,752.77 L154.40,753.06 L154.50,753.37 L154.60,753.69 L154.70,754.04 L154.80,754.39 L154.90,754.77 L155.00,755.17 L155.10,755.59 L155.20,756.04 L155.30,756.50 L155.40,757.00 L155.50,757.51 L155.60,758.06 L155.70,758.63 L155.80,759.23 L155.90,759.87 L156.00,760.54 L156.10,761.24 L156.20,761.98 L156.30,762.75 L156.40,763.57 L156.50,764.43 L156.60,765.33 L156.70,766.27 L156.80,767.26 L156.90,768.30 L157.00,769.39 L157.10,770.54 L157.20,771.74 L157.30,772.99 L157.40,774.30 L157.50,775.68 L157.60,777.11 L157.70,778.61 L157.80,780.18 L157.90,781.81 L158.00,783.50 L158.10,785.26 L158.20,787.09 L158.30,788.98 L158.40,790.92 L158.50,792.91 L158.60,794.90 L158.70,796.80 L158.80,794.44 L158.90,791.97 L159.00,789.55 L159.10,787.21 L159.20,784.96 L159.30,782.81 L159.40,780.76 L159.50,778.82 L159.60,776.96 L159.70,775.21 L159.80,773.55 L159.90,771.98 L160.00,770.50 L160.10,769.10 L160.20,767.77 L160.30,766.53 L160.40,765.35 L160.50,764.25 L160.60,763.21 L160.70,762.23 L160.80,761.31 L160.90,760.44 L161.00,759.63 L161.10,758.87 L161.20,758.15 L161.30,757.48 L161.40,756.84 L161.50,756.25 L161.60,755.69 L161.70,755.17 L161.80,754.68 L161.90,754.22 L162.00,753.79 L162.10,753.39 L162.20,753.01 L162.30,752.66 L162.40,752.33 L162.50,752.02 L162.60,751.73 L162.70,751.46 L162.80,751.20 L162.90,750.96 L163.00,750.74 L163.10,750.53 L163.20,750.34 L163.30,750.16 L163.40,749.99 L163.50,749.83 L163.60,749.68 L163.70,749.54 L163.80,749.41 L163.90,749.29 L164.00,749.18 L164.10,749.07 L164.20,748.97 L164.30,748.88 L164.40,748.79 L164.50,748.71 L164.60,748.64 L164.70,748.57 L164.80,748.50 L164.90,748.44 L165.00,748.38 L165.10,748.33 L165.20,748.28 L165.30,748.23 L165.40,748.19 L165.50,748.15 L165.60,748.11 L165.70,748.08 L165.80,748.05 L165.90,748.01 L166.00,747.99 L166.10,747.96 L166.20,747.94 L166.30,747.91 L166.40,747.89 L166.50,747.87 L166.60,747.85 L166.70,747.83 L166.80,747.82 L166.90,747.80 L167.00,747.79 L167.10,747.78 L167.20,747.76 L167.30,747.75 L167.40,747.74 L167.50,747.73 L167.60,747.72 L167.70,747.71 L167.80,747.71 L167.90,747.70 L168.00,747.69 L168.10,747.69 L168.20,747.68 L168.30,747.67 L168.40,747.67 L168.50,747.66 L168.60,747.66 L168.70,747.66 L168.80,747.65 L168.90,747.65 L169.00,747.64 L169.10,747.64 L169.20,747.64 L169.30,747.64 L169.40,747.63 L169.50,747.63 L169.60,747.63 L169.70,747.63 L169.80,747.62 L169.90,747.62 L170.00,747.62 L170.10,747.62 L170.20,747.62 L170.30,747.62 L170.40,747.62 L170.50,747.61 L170.60,747.61 L170.70,747.61 L170.80,747.61 L170.90,747.61 L171.00,747.61 L171.10,747.61 L171.20,747.61 L171.30,747.61 L171.40,747.61 L171.50,747.61 L171.60,747.61 L171.70,747.61 L171.80,747.61 L171.90,747.61 L172.00,747.60 L172.10,747.60 L172.20,747.60 L172.30,747.60 L172.40,747.60 L172.50,747.60 L172.60,747.60 L172.70,747.60 L172.80,747.60 L172.90,747.60 L173.00,747.60 L173.10,747.60 L173.20,747.60 L173.30,747.60 L173.40,747.60 L173.50,747.60 L173.60,747.60 L173.70,747.60 L173.80,747.60 L173.90,747.60 L174.00,747.60 L174.10,747.60 L174.20,747.60 L174.30,747.60 L174.40,747.60 L174.50,747.60 L174.60,747.60 L174.70,747.60 L174.80,747.60 L174.90,747.60 L175.00,747.60 L175.10,747.60 L175.20,747.60 L175.30,747.60 L175.40,747.60 L175.50,747.60 L175.60,747.60 L175.70,747.60 L175.80,747.60 L175.90,747.60 L176.00,747.60 L176.10,747.60 L176.20,747.60 L176.30,747.60 L176.40,747.60 L176.50,747.60 L176.60,747.60 L176.70,747.60 L176.80,747.60 L176.90,747.60 L177.00,747.60 L177.10,747.60 L177.20,747.60 L177.30,747.60 L177.40,747.60 L177.50,747.60 L177.60,747.60 L177.70,747.60 L177.80,747.60 L177.90,747.60 L178.00,747.60 L178.10,747.60 L178.20,747.60 L178.30,747.60 L178.40,747.60 L178.50,747.60 L178.60,747.60 L178.70,747.60 L178.80,747.60 L178.90,747.60 L179.00,747.60 L179.10,747.60 L179.20,747.60 L179.30,747.60 L179.40,747.60 L179.50,747.60 L179.60,747.60 L179.70,747.60 L179.80,747.60 L179.90,747.60 L180.00,747.60 L180.10,747.60 L180.20,747.60 L180.30,747.60 L180.40,747.60 L180.50,747.60 L180.60,747.60 L180.70,747.60 L180.80,747.60 L180.90,747.60 L181.00,747.60 L181.10,747.60 L181.20,747.60 L181.30,747.60 L181.40,747.60 L181.50,747.60 L181.60,747.60 L181.70,747.60 L181.80,747.60 L181.90,747.60 L182.00,747.60 L182.10,747.60 L182.20,747.60 L182.30,747.60 L182.40,747.60 L182.50,747.60 L182.60,747.60 L182.70,747.60 L182.80,747.60 L182.90,747.60 L183.00,747.60 L183.10,747.60 L183.20,747.60 L183.30,747.60 L183.40,747.60 L183.50,747.60 L183.60,747.60 L183.70,747.60 L183.80,747.60 L183.90,747.60 L184.00,747.60 L184.10,747.60 L184.20,747.60 L184.30,747.60 L184.40,747.60 L184.50,747.60 L184.60,747.60 L184.70,747.60 L184.80,747.60 L184.90,747.60 L185.00,747.60 L185.10,747.60 L185.20,747.60 L185.30,747.60 L185.40,747.60 L185.50,747.60 L185.60,747.60 L185.70,747.60 L185.80,747.60 L185.90,747.60 L186.00,747.60 L186.10,747.60 L186.20,747.60 L186.30,747.60 L186.40,747.60 L186.50,747.60 L186.60,747.60 L186.70,747.60 L186.80,747.60 L186.90,747.60 L187.00,747.60 L187.10,747.60 L187.20,747.60 L187.30,747.60 L187.40,747.60 L187.50,747.60 L187.60,747.60 L187.70,747.60 L187.80,747.60 L187.90,747.60 L188.00,747.60 L188.10,747.60 L188.20,747.60 L188.30,747.60 L188.40,747.60 L188.50,747.60 L188.60,747.60 L188.70,747.60 L188.80,747.60 L188.90,747.60 L189.00,747.60 L189.10,747.60 L189.20,747.60 L189.30,747.60 L189.40,747.60 L189.50,747.60 L189.60,747.60 L189.70,747.60 L189.80,747.60 L189.90,747.60 L190.00,747.60 L190.10,747.60 L190.20,747.60 L190.30,747.60 L190.40,747.60 L190.50,747.60 L190.60,747.60 L190.70,747.60 L190.80,747.60 L190.90,747.60 L191.00,747.60 L191.10,747.60 L191.20,747.60 L191.30,747.60 L191.40,747.60 L191.50,747.60 L191.60,747.60 L191.70,747.60 L191.80,747.60 L191.90,747.60 L192.00,747.60 L192.10,747.60 L192.20,747.60 L192.30,747.60 L192.40,747.60 L192.50,747.60 L192.60,747.60 L192.70,747.60 L192.80,747.60 L192.90,747.60 L193.00,747.60 L193.10,747.60 L193.20,747.60 L193.30,747.60 L193.40,747.60 L193.50,747.60 L193.60,747.60 L193.70,747.60 L193.80,747.60 L193.90,747.60 L194.00,747.60 L194.10,747.60 L194.20,747.60 L194.30,747.60 L194.40,747.60 L194.50,747.60 L194.60,747.60 L194.70,747.60 L194.80,747.60 L194.90,747.60 L195.00,747.60 L195.10,747.60 L195.20,747.60 L195.30,747.60 L195.40,747.60 L195.50,747.60 L195.60,747.60 L195.70,747.60 L195.80,747.60 L195.90,747.60 L196.00,747.60 L196.10,747.60 L196.20,747.60 L196.30,747.60 L196.40,747.60 L196.50,747.60 L196.60,747.60 L196.70,747.60 L196.80,747.60 L196.90,747.60 L197.00,747.60 L197.10,747.60 L197.20,747.60 L197.30,747.60 L197.40,747.60 L197.50,747.60 L197.60,747.60 L197.70,747.60 L197.80,747.60 L197.90,747.60 L198.00,747.60 L198.10,747.60 L198.20,747.60 L198.30,747.60 L198.40,747.60 L198.50,747.60 L198.60,747.60 L198.70,747.60 L198.80,747.60 L198.90,747.60 L199.00,747.60 L199.10,747.60 L199.20,747.60 L199.30,747.60 L199.40,747.60 L199.50,747.60 L199.60,747.60 L199.70,747.60 L199.80,747.60 L199.90,747.60 L200.00,747.60 L200.10,747.60 L200.20,747.60 L200.30,747.60 L200.40,747.60 L200.50,747.60 L200.60,747.60 L200.70,747.60 L200.80,747.60 L200.90,747.60 L201.00,747.60 L201.10,747.60 L201.20,747.60 L201.30,747.60 L201.40,747.60 L201.50,747.60 L201.60,747.60 L201.70,747.60 L201.80,747.60 L201.90,747.60 L202.00,747.60 L202.10,747.60 L202.20,747.60 L202.30,747.60 L202.40,747.60 L202.50,747.60 L202.60,747.60 L202.70,747.60 L202.80,747.60 L202.90,747.60 L203.00,747.60 L203.10,747.60 L203.20,747.60 L203.30,747.60 L203.40,747.60 L203.50,747.60 L203.60,747.60 L203.70,747.60 L203.80,747.60 L203.90,747.60 L204.00,747.60 L204.10,747.60 L204.20,747.60 L204.30,747.60 L204.40,747.60 L204.50,747.60 L204.60,747.60 L204.70,747.60 L204.80,747.60 L204.90,747.60 L205.00,747.60 L205.10,747.60 L205.20,747.60 L205.30,747.60 L205.40,747.60 L205.50,747.60 L205.60,747.60 L205.70,747.60 L205.80,747.60 L205.90,747.60 L206.00,747.60 L206.10,747.60 L206.20,747.60 L206.30,747.60 L206.40,747.60 L206.50,747.60 L206.60,747.60 L206.70,747.60 L206.80,747.60 L206.90,747.60 L207.00,747.60 L207.10,747.60 L207.20,747.60 L207.30,747.60 L207.40,747.60 L207.50,747.60 L207.60,747.60 L207.70,747.60 L207.80,747.60 L207.90,747.60 L208.00,747.60 L208.10,747.60 L208.20,747.60 L208.30,747.60 L208.40,747.60 L208.50,747.60 L208.60,747.60 L208.70,747.60 L208.80,747.60 L208.90,747.60 L209.00,747.60 L209.10,747.60 L209.20,747.60 L209.30,747.60 L209.40,747.60 L209.50,747.60 L209.60,747.60 L209.70,747.60 L209.80,747.60" stroke="#FFC000" stroke-width="1.7" fill="none" />
<text x="253.60" y="713.94" font-size="11" text-anchor="middle" fill="#000" stroke="#000" stroke-width="0.1" >(f)</text>
<line x1="296.20" y1="718.40" x2="296.20" y2="832.20" stroke="#D9D9D9" stroke-width="0.9" />
<line x1="321.10" y1="718.40" x2="321.10" y2="832.20" stroke="#D9D9D9" stroke-width="0.9" />
<line x1="346.00" y1="718.40" x2="346.00" y2="832.20" stroke="#D9D9D9" stroke-width="0.9" />
<line x1="370.90" y1="718.40" x2="370.90" y2="832.20" stroke="#D9D9D9" stroke-width="0.9" />
<line x1="395.80" y1="718.40" x2="395.80" y2="832.20" stroke="#D9D9D9" stroke-width="0.9" />
<line x1="420.70" y1="718.40" x2="420.70" y2="832.20" stroke="#D9D9D9" stroke-width="0.9" />
<line x1="271.30" y1="811.51" x2="445.60" y2="811.51" stroke="#D9D9D9" stroke-width="0.9" />
<line x1="271.30" y1="790.82" x2="445.60" y2="790.82" stroke="#D9D9D9" stroke-width="0.9" />
<line x1="271.30" y1="770.13" x2="445.60" y2="770.13" stroke="#D9D9D9" stroke-width="0.9" />
<line x1="271.30" y1="749.44" x2="445.60" y2="749.44" stroke="#D9D9D9" stroke-width="0.9" />
<line x1="271.30" y1="728.75" x2="445.60" y2="728.75" stroke="#D9D9D9" stroke-width="0.9" />
<path d="M271.3,718.4 L445.6,718.4 L445.6,832.2 L271.3,832.2 Z" fill="none" stroke="#767676" stroke-width="1.4"/>
<text x="263.00" y="835.42" font-size="9" text-anchor="end" fill="#000" stroke="#000" stroke-width="0.1" >0</text>
<text x="263.00" y="814.73" font-size="9" text-anchor="end" fill="#000" stroke="#000" stroke-width="0.1" >1</text>
<text x="263.00" y="794.04" font-size="9" text-anchor="end" fill="#000" stroke="#000" stroke-width="0.1" >2</text>
<text x="263.00" y="773.35" font-size="9" text-anchor="end" fill="#000" stroke="#000" stroke-width="0.1" >3</text>
<text x="263.00" y="752.66" font-size="9" text-anchor="end" fill="#000" stroke="#000" stroke-width="0.1" >4</text>
<text x="263.00" y="731.97" font-size="9" text-anchor="end" fill="#000" stroke="#000" stroke-width="0.1" >5</text>
<text x="270.30" y="847.06" font-size="9.1" text-anchor="middle" fill="#000" stroke="#000" stroke-width="0.1" >0.0</text>
<text x="295.20" y="847.06" font-size="9.1" text-anchor="middle" fill="#000" stroke="#000" stroke-width="0.1" >0.5</text>
<text x="320.10" y="847.06" font-size="9.1" text-anchor="middle" fill="#000" stroke="#000" stroke-width="0.1" >1.0</text>
<text x="345.00" y="847.06" font-size="9.1" text-anchor="middle" fill="#000" stroke="#000" stroke-width="0.1" >1.5</text>
<text x="369.90" y="847.06" font-size="9.1" text-anchor="middle" fill="#000" stroke="#000" stroke-width="0.1" >2.0</text>
<text x="394.80" y="847.06" font-size="9.1" text-anchor="middle" fill="#000" stroke="#000" stroke-width="0.1" >2.5</text>
<text x="419.70" y="847.06" font-size="9.1" text-anchor="middle" fill="#000" stroke="#000" stroke-width="0.1" >3.0</text>
<text x="444.60" y="847.06" font-size="9.1" text-anchor="middle" fill="#000" stroke="#000" stroke-width="0.1" >3.5</text>
<text x="358.30" y="859.09" font-size="9.2" text-anchor="middle" fill="#000" stroke="#000" stroke-width="0.1" >Voltage (V)</text>
<text x="247.80" y="775.60" font-size="9.2" text-anchor="middle" fill="#000" stroke="#000" stroke-width="0.1" transform="rotate(-90 247.80 775.60)">Switching time (ns)</text>
<path d="M346.00,748.61 L346.50,749.65 L347.00,750.69 L347.49,751.73 L347.99,752.77 L348.49,753.81 L348.99,754.85 L349.49,755.88 L349.98,756.92 L350.48,757.95 L350.98,758.97 L351.48,759.99 L351.98,761.01 L352.47,762.03 L352.97,763.04 L353.47,764.04 L353.97,765.04 L354.47,766.04 L354.96,767.02 L355.46,768.00 L355.96,768.98 L356.46,769.95 L356.96,770.91 L357.45,771.86 L357.95,772.80 L358.45,773.74 L358.95,774.66 L359.45,775.58 L359.94,776.49 L360.44,777.39 L360.94,778.27 L361.44,779.15 L361.94,780.02 L362.43,780.87 L362.93,781.71 L363.43,782.54 L363.93,783.36 L364.43,784.17 L364.92,784.96 L365.42,785.74 L365.92,786.50 L366.42,787.25 L366.92,787.99 L367.41,788.71 L367.91,789.41 L368.41,790.10 L368.91,790.77 L369.41,791.43 L369.90,792.07 L370.40,792.70 L370.90,793.30 L371.40,793.89 L371.90,794.46 L372.39,795.01 L372.89,795.55 L373.39,796.07 L373.89,796.58 L374.39,797.06 L374.88,797.54 L375.38,798.00 L375.88,798.44 L376.38,798.87 L376.88,799.29 L377.37,799.69 L377.87,800.08 L378.37,800.46 L378.87,800.82 L379.37,801.17 L379.86,801.51 L380.36,801.84 L380.86,802.16 L381.36,802.47 L381.86,802.77 L382.35,803.05 L382.85,803.33 L383.35,803.60 L383.85,803.86 L384.35,804.11 L384.84,804.36 L385.34,804.59 L385.84,804.82 L386.34,805.04 L386.84,805.26 L387.33,805.47 L387.83,805.67 L388.33,805.87 L388.83,806.06 L389.33,806.25 L389.82,806.43 L390.32,806.61 L390.82,806.78 L391.32,806.95 L391.82,807.12 L392.31,807.29 L392.81,807.45 L393.31,807.61 L393.81,807.77 L394.31,807.93 L394.80,808.09 L395.30,808.25 L395.80,808.41 L396.30,808.56 L396.80,808.72 L397.29,808.88 L397.79,809.04 L398.29,809.20 L398.79,809.35 L399.29,809.51 L399.78,809.67 L400.28,809.83 L400.78,809.99 L401.28,810.15 L401.78,810.31 L402.27,810.47 L402.77,810.63 L403.27,810.79 L403.77,810.95 L404.27,811.11 L404.76,811.27 L405.26,811.43 L405.76,811.60 L406.26,811.76 L406.76,811.92 L407.25,812.08 L407.75,812.24 L408.25,812.40 L408.75,812.57 L409.25,812.73 L409.74,812.89 L410.24,813.05 L410.74,813.21 L411.24,813.38 L411.74,813.54 L412.23,813.70 L412.73,813.86 L413.23,814.03 L413.73,814.19 L414.23,814.35 L414.72,814.52 L415.22,814.68 L415.72,814.84 L416.22,815.01 L416.72,815.17 L417.21,815.33 L417.71,815.50 L418.21,815.66 L418.71,815.82 L419.21,815.98 L419.70,816.15 L420.20,816.31 L420.70,816.47" stroke="#6B6BF0" stroke-width="1.2" fill="none" />
<path d="M346.00,729.37 L346.50,730.30 L347.00,731.23 L347.49,732.17 L347.99,733.10 L348.49,734.04 L348.99,734.97 L349.49,735.90 L349.98,736.83 L350.48,737.76 L350.98,738.69 L351.48,739.62 L351.98,740.54 L352.47,741.47 L352.97,742.39 L353.47,743.31 L353.97,744.23 L354.47,745.15 L354.96,746.06 L355.46,746.97 L355.96,747.88 L356.46,748.79 L356.96,749.70 L357.45,750.60 L357.95,751.50 L358.45,752.40 L358.95,753.29 L359.45,754.18 L359.94,755.06 L360.44,755.95 L360.94,756.83 L361.44,757.70 L361.94,758.57 L362.43,759.44 L362.93,760.30 L363.43,761.16 L363.93,762.02 L364.43,762.87 L364.92,763.71 L365.42,764.55 L365.92,765.39 L366.42,766.22 L366.92,767.04 L367.41,767.86 L367.91,768.68 L368.41,769.48 L368.91,770.29 L369.41,771.08 L369.90,771.87 L370.40,772.66 L370.90,773.44 L371.40,774.21 L371.90,774.98 L372.39,775.74 L372.89,776.49 L373.39,777.23 L373.89,777.97 L374.39,778.71 L374.88,779.43 L375.38,780.15 L375.88,780.86 L376.38,781.56 L376.88,782.26 L377.37,782.95 L377.87,783.63 L378.37,784.30 L378.87,784.97 L379.37,785.63 L379.86,786.28 L380.36,786.92 L380.86,787.56 L381.36,788.18 L381.86,788.80 L382.35,789.41 L382.85,790.01 L383.35,790.61 L383.85,791.19 L384.35,791.77 L384.84,792.33 L385.34,792.89 L385.84,793.44 L386.34,793.98 L386.84,794.51 L387.33,795.03 L387.83,795.55 L388.33,796.05 L388.83,796.54 L389.33,797.03 L389.82,797.50 L390.32,797.96 L390.82,798.42 L391.32,798.86 L391.82,799.30 L392.31,799.72 L392.81,800.14 L393.31,800.54 L393.81,800.94 L394.31,801.32 L394.80,801.69 L395.30,802.05 L395.80,802.41 L396.30,802.75 L396.80,803.08 L397.29,803.40 L397.79,803.70 L398.29,804.00 L398.79,804.29 L399.29,804.57 L399.78,804.84 L400.28,805.11 L400.78,805.36 L401.28,805.60 L401.78,805.84 L402.27,806.07 L402.77,806.29 L403.27,806.50 L403.77,806.70 L404.27,806.90 L404.76,807.09 L405.26,807.27 L405.76,807.45 L406.26,807.62 L406.76,807.78 L407.25,807.94 L407.75,808.09 L408.25,808.23 L408.75,808.38 L409.25,808.51 L409.74,808.64 L410.24,808.77 L410.74,808.89 L411.24,809.00 L411.74,809.12 L412.23,809.22 L412.73,809.33 L413.23,809.43 L413.73,809.53 L414.23,809.62 L414.72,809.72 L415.22,809.80 L415.72,809.89 L416.22,809.98 L416.72,810.06 L417.21,810.14 L417.71,810.22 L418.21,810.30 L418.71,810.38 L419.21,810.45 L419.70,810.53 L420.20,810.61 L420.70,810.68" stroke="#FF6666" stroke-width="1.2" fill="none" />
<circle cx="346.00" cy="748.61" r="3.2" fill="#0000D8"/>
<circle cx="370.90" cy="793.30" r="3.2" fill="#0000D8"/>
<circle cx="395.80" cy="808.41" r="3.2" fill="#0000D8"/>
<circle cx="420.70" cy="816.47" r="3.2" fill="#0000D8"/>
<rect x="342.90" y="726.37" width="6.20" height="6.00" fill="#FF0000" stroke="none" stroke-width="1" />
<rect x="367.80" y="770.44" width="6.20" height="6.00" fill="#FF0000" stroke="none" stroke-width="1" />
<rect x="392.70" y="799.41" width="6.20" height="6.00" fill="#FF0000" stroke="none" stroke-width="1" />
<rect x="417.60" y="807.68" width="6.20" height="6.00" fill="#FF0000" stroke="none" stroke-width="1" />
<rect x="384.80" y="724.30" width="45.20" height="27.80" fill="#fff" stroke="#333" stroke-width="1" />
<circle cx="393.6" cy="731.3" r="2.3" fill="#0000D8"/>
<rect x="391.30" y="742.80" width="4.60" height="4.60" fill="#FF0000" stroke="none" stroke-width="1" />
<text x="397.60" y="733.91" font-size="7.3" text-anchor="start" fill="#000" stroke="#000" stroke-width="0.1" >FePd</text>
<text x="397.60" y="747.71" font-size="7.3" text-anchor="start" fill="#000" stroke="#000" stroke-width="0.1" >FePd/Gr</text>
<text x="406.80" y="767.65" font-size="10.2" text-anchor="middle" fill="#000" stroke="#000" stroke-width="0.1" >AP to P</text></svg></body></html>
